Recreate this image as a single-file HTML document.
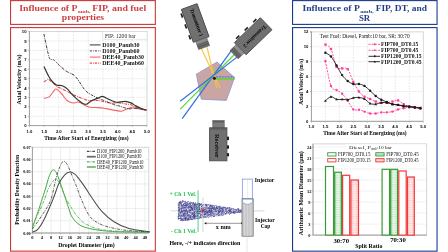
<!DOCTYPE html><html><head><meta charset="utf-8"><title>Spray velocity and droplet size</title>
<style>html,body{margin:0;padding:0;background:#fff;width:448px;height:252px;overflow:hidden}svg{display:block}</style></head><body>
<div id="w">
<svg width="448" height="252" viewBox="0 0 448 252">
<rect width="448" height="252" fill="#fff"/>
<rect x="10.55" y="0.6" width="144.8" height="23.8" fill="#fff" stroke="#c8383a" stroke-width="1.1"/>
<rect x="10.55" y="27.6" width="144.8" height="223.55" fill="#fff" stroke="#c8383a" stroke-width="1.1"/>
<text x="19.3" y="11.2" font-family='"Liberation Serif", serif' font-size="8.7" font-weight="bold" fill="#cc4042" text-anchor="start" textLength="58.2" lengthAdjust="spacingAndGlyphs">Influence of P</text>
<text x="77.8" y="13.2" font-family='"Liberation Serif", serif' font-size="5" font-weight="bold" fill="#cc4042" text-anchor="start" textLength="12.8" lengthAdjust="spacingAndGlyphs">amb,</text>
<text x="92.2" y="11.2" font-family='"Liberation Serif", serif' font-size="8.7" font-weight="bold" fill="#cc4042" text-anchor="start" textLength="54" lengthAdjust="spacingAndGlyphs">FIP, and fuel</text>
<text x="61.8" y="20.3" font-family='"Liberation Serif", serif' font-size="8.7" font-weight="bold" fill="#cc4042" text-anchor="start" textLength="42.3" lengthAdjust="spacingAndGlyphs">properties</text>
<line x1="44.1" y1="31.6" x2="44.1" y2="125.6" stroke="#d6d6d6" stroke-width="0.6" stroke-dasharray="1.6,1.2"/>
<line x1="58.8" y1="31.6" x2="58.8" y2="125.6" stroke="#d6d6d6" stroke-width="0.6" stroke-dasharray="1.6,1.2"/>
<line x1="73.5" y1="31.6" x2="73.5" y2="125.6" stroke="#d6d6d6" stroke-width="0.6" stroke-dasharray="1.6,1.2"/>
<line x1="88.2" y1="31.6" x2="88.2" y2="125.6" stroke="#d6d6d6" stroke-width="0.6" stroke-dasharray="1.6,1.2"/>
<line x1="102.9" y1="31.6" x2="102.9" y2="125.6" stroke="#d6d6d6" stroke-width="0.6" stroke-dasharray="1.6,1.2"/>
<line x1="117.6" y1="31.6" x2="117.6" y2="125.6" stroke="#d6d6d6" stroke-width="0.6" stroke-dasharray="1.6,1.2"/>
<line x1="132.3" y1="31.6" x2="132.3" y2="125.6" stroke="#d6d6d6" stroke-width="0.6" stroke-dasharray="1.6,1.2"/>
<line x1="29.4" y1="116.2" x2="147" y2="116.2" stroke="#d6d6d6" stroke-width="0.6" stroke-dasharray="1.6,1.2"/>
<line x1="29.4" y1="106.8" x2="147" y2="106.8" stroke="#d6d6d6" stroke-width="0.6" stroke-dasharray="1.6,1.2"/>
<line x1="29.4" y1="97.4" x2="147" y2="97.4" stroke="#d6d6d6" stroke-width="0.6" stroke-dasharray="1.6,1.2"/>
<line x1="29.4" y1="88" x2="147" y2="88" stroke="#d6d6d6" stroke-width="0.6" stroke-dasharray="1.6,1.2"/>
<line x1="29.4" y1="78.6" x2="147" y2="78.6" stroke="#d6d6d6" stroke-width="0.6" stroke-dasharray="1.6,1.2"/>
<line x1="29.4" y1="69.2" x2="147" y2="69.2" stroke="#d6d6d6" stroke-width="0.6" stroke-dasharray="1.6,1.2"/>
<line x1="29.4" y1="59.8" x2="147" y2="59.8" stroke="#d6d6d6" stroke-width="0.6" stroke-dasharray="1.6,1.2"/>
<line x1="29.4" y1="50.4" x2="147" y2="50.4" stroke="#d6d6d6" stroke-width="0.6" stroke-dasharray="1.6,1.2"/>
<line x1="29.4" y1="41" x2="147" y2="41" stroke="#d6d6d6" stroke-width="0.6" stroke-dasharray="1.6,1.2"/>
<rect x="29.4" y="31.6" width="117.6" height="94" fill="none" stroke="#c4c4c4" stroke-width="0.7"/>
<line x1="29.4" y1="31.6" x2="29.4" y2="125.6" stroke="#9a9a9a" stroke-width="0.9"/>
<line x1="29.4" y1="125.6" x2="147" y2="125.6" stroke="#9a9a9a" stroke-width="0.9"/>
<text x="26.5" y="127.1" font-family='"Liberation Sans", sans-serif' font-size="4.2" font-weight="bold" fill="#000" text-anchor="end">0</text>
<line x1="27.8" y1="125.6" x2="29.4" y2="125.6" stroke="#9a9a9a" stroke-width="0.6"/>
<text x="26.5" y="117.7" font-family='"Liberation Sans", sans-serif' font-size="4.2" font-weight="bold" fill="#000" text-anchor="end">1</text>
<line x1="27.8" y1="116.2" x2="29.4" y2="116.2" stroke="#9a9a9a" stroke-width="0.6"/>
<text x="26.5" y="108.3" font-family='"Liberation Sans", sans-serif' font-size="4.2" font-weight="bold" fill="#000" text-anchor="end">2</text>
<line x1="27.8" y1="106.8" x2="29.4" y2="106.8" stroke="#9a9a9a" stroke-width="0.6"/>
<text x="26.5" y="98.9" font-family='"Liberation Sans", sans-serif' font-size="4.2" font-weight="bold" fill="#000" text-anchor="end">3</text>
<line x1="27.8" y1="97.4" x2="29.4" y2="97.4" stroke="#9a9a9a" stroke-width="0.6"/>
<text x="26.5" y="89.5" font-family='"Liberation Sans", sans-serif' font-size="4.2" font-weight="bold" fill="#000" text-anchor="end">4</text>
<line x1="27.8" y1="88" x2="29.4" y2="88" stroke="#9a9a9a" stroke-width="0.6"/>
<text x="26.5" y="80.1" font-family='"Liberation Sans", sans-serif' font-size="4.2" font-weight="bold" fill="#000" text-anchor="end">5</text>
<line x1="27.8" y1="78.6" x2="29.4" y2="78.6" stroke="#9a9a9a" stroke-width="0.6"/>
<text x="26.5" y="70.7" font-family='"Liberation Sans", sans-serif' font-size="4.2" font-weight="bold" fill="#000" text-anchor="end">6</text>
<line x1="27.8" y1="69.2" x2="29.4" y2="69.2" stroke="#9a9a9a" stroke-width="0.6"/>
<text x="26.5" y="61.3" font-family='"Liberation Sans", sans-serif' font-size="4.2" font-weight="bold" fill="#000" text-anchor="end">7</text>
<line x1="27.8" y1="59.8" x2="29.4" y2="59.8" stroke="#9a9a9a" stroke-width="0.6"/>
<text x="26.5" y="51.9" font-family='"Liberation Sans", sans-serif' font-size="4.2" font-weight="bold" fill="#000" text-anchor="end">8</text>
<line x1="27.8" y1="50.4" x2="29.4" y2="50.4" stroke="#9a9a9a" stroke-width="0.6"/>
<text x="26.5" y="42.5" font-family='"Liberation Sans", sans-serif' font-size="4.2" font-weight="bold" fill="#000" text-anchor="end">9</text>
<line x1="27.8" y1="41" x2="29.4" y2="41" stroke="#9a9a9a" stroke-width="0.6"/>
<text x="26.5" y="33.1" font-family='"Liberation Sans", sans-serif' font-size="4.2" font-weight="bold" fill="#000" text-anchor="end">10</text>
<line x1="27.8" y1="31.6" x2="29.4" y2="31.6" stroke="#9a9a9a" stroke-width="0.6"/>
<text x="29.4" y="132.6" font-family='"Liberation Sans", sans-serif' font-size="4.2" font-weight="bold" fill="#000" text-anchor="middle">1.0</text>
<line x1="29.4" y1="125.6" x2="29.4" y2="126.9" stroke="#9a9a9a" stroke-width="0.6"/>
<text x="44.1" y="132.6" font-family='"Liberation Sans", sans-serif' font-size="4.2" font-weight="bold" fill="#000" text-anchor="middle">1.5</text>
<line x1="44.1" y1="125.6" x2="44.1" y2="126.9" stroke="#9a9a9a" stroke-width="0.6"/>
<text x="58.8" y="132.6" font-family='"Liberation Sans", sans-serif' font-size="4.2" font-weight="bold" fill="#000" text-anchor="middle">2.0</text>
<line x1="58.8" y1="125.6" x2="58.8" y2="126.9" stroke="#9a9a9a" stroke-width="0.6"/>
<text x="73.5" y="132.6" font-family='"Liberation Sans", sans-serif' font-size="4.2" font-weight="bold" fill="#000" text-anchor="middle">2.5</text>
<line x1="73.5" y1="125.6" x2="73.5" y2="126.9" stroke="#9a9a9a" stroke-width="0.6"/>
<text x="88.2" y="132.6" font-family='"Liberation Sans", sans-serif' font-size="4.2" font-weight="bold" fill="#000" text-anchor="middle">3.0</text>
<line x1="88.2" y1="125.6" x2="88.2" y2="126.9" stroke="#9a9a9a" stroke-width="0.6"/>
<text x="102.9" y="132.6" font-family='"Liberation Sans", sans-serif' font-size="4.2" font-weight="bold" fill="#000" text-anchor="middle">3.5</text>
<line x1="102.9" y1="125.6" x2="102.9" y2="126.9" stroke="#9a9a9a" stroke-width="0.6"/>
<text x="117.6" y="132.6" font-family='"Liberation Sans", sans-serif' font-size="4.2" font-weight="bold" fill="#000" text-anchor="middle">4.0</text>
<line x1="117.6" y1="125.6" x2="117.6" y2="126.9" stroke="#9a9a9a" stroke-width="0.6"/>
<text x="132.3" y="132.6" font-family='"Liberation Sans", sans-serif' font-size="4.2" font-weight="bold" fill="#000" text-anchor="middle">4.5</text>
<line x1="132.3" y1="125.6" x2="132.3" y2="126.9" stroke="#9a9a9a" stroke-width="0.6"/>
<text x="147" y="132.6" font-family='"Liberation Sans", sans-serif' font-size="4.2" font-weight="bold" fill="#000" text-anchor="middle">5.0</text>
<line x1="147" y1="125.6" x2="147" y2="126.9" stroke="#9a9a9a" stroke-width="0.6"/>
<text x="44.2" y="139.8" font-family='"Liberation Serif", serif' font-size="5.6" font-weight="bold" fill="#000" text-anchor="start" textLength="84.5" lengthAdjust="spacingAndGlyphs">Time After Start of Energizing (ms)</text>
<text transform="translate(20.6,79.5) rotate(-90)" x="0" y="0" font-family='"Liberation Serif", serif' font-size="5.6" font-weight="bold" text-anchor="middle" textLength="50" lengthAdjust="spacingAndGlyphs">Axial Velocity (m/s)</text>
<path d="M43.9,98.3 C44.52,98.14 47.82,97.97 49.2,96.9 C50.58,95.83 54.34,89.55 55.7,89.1 C57.07,88.64 59.67,91.78 60.9,93 C62.12,94.22 65.2,98.55 66.2,99.6 C67.2,100.65 68.61,101.6 69.5,102 C70.39,102.4 72.89,103 73.8,103 C74.71,103 76.58,102.06 77.3,102 C78.02,101.94 79.08,102.1 80,102.5 C80.92,102.9 83.99,104.85 85.2,105.4 C86.41,105.95 88.92,106.94 90.4,107.2 C91.88,107.46 96.34,107.48 97.9,107.6 C99.46,107.72 102.41,107.99 103.8,108.2 C105.19,108.41 108.28,109.12 109.8,109.4 C111.32,109.68 115.44,110.39 116.8,110.6 C118.16,110.81 120.25,111.41 121.5,111.2 C122.75,110.99 126.11,109.29 127.5,108.8 C128.89,108.31 132.01,107 133.4,107 C134.79,107 137.87,108.38 139.4,108.8 C140.93,109.22 145.67,110.39 146.5,110.6" fill="none" stroke="#f46262" stroke-width="1.1"/>
<path d="M43.9,81.9 C44.44,81.6 47.51,79.23 48.5,79.3 C49.49,79.37 51.41,81.66 52.4,82.5 C53.39,83.34 55.84,85.73 57,86.5 C58.16,87.27 60.92,88.41 62.3,89.1 C63.68,89.79 67.28,91.64 68.8,92.4 C70.32,93.16 73.6,94.84 75.3,95.6 C77,96.36 81.84,98.32 83.4,98.9 C84.96,99.48 87.01,100.41 88.7,100.6 C90.39,100.79 96.14,100.37 97.9,100.5 C99.66,100.63 102.41,101.42 103.8,101.7 C105.19,101.98 108.02,102.76 109.8,102.9 C111.58,103.04 117.17,102.76 119.1,102.9 C121.02,103.04 124.91,103.89 126.3,104.1 C127.69,104.31 129.89,104.36 131,104.7 C132.11,105.04 134.54,106.52 135.8,107 C137.06,107.48 140.55,108.38 141.8,108.8 C143.05,109.22 145.95,110.39 146.5,110.6" fill="none" stroke="#ea4444" stroke-width="1.1" stroke-dasharray="3,1,0.8,1"/>
<path d="M43.9,34 C44.53,36.78 48.14,54.78 49.3,57.8 C50.45,60.82 52.57,58.97 53.8,59.9 C55.02,60.83 58.38,64.5 59.8,65.8 C61.22,67.09 64.61,70.05 66,71 C67.39,71.95 70.71,73.38 71.7,73.9 C72.69,74.43 73.8,74.87 74.5,75.5 C75.2,76.13 76.66,77.84 77.7,79.3 C78.74,80.76 82.3,86.51 83.4,88 C84.5,89.49 86.11,91.27 87.1,92.1 C88.09,92.93 90.64,94.4 91.9,95.1 C93.16,95.8 96.51,97.47 97.9,98.1 C99.29,98.73 102.41,99.94 103.8,100.5 C105.19,101.06 108.41,102.35 109.8,102.9 C111.19,103.45 114.62,104.85 115.7,105.2 C116.78,105.55 118.14,105.62 119.1,105.9 C120.06,106.18 122.78,107.26 123.9,107.6 C125.02,107.94 127.59,108.69 128.7,108.8 C129.81,108.91 132.15,108.5 133.4,108.5 C134.65,108.5 137.87,108.62 139.4,108.8 C140.93,108.97 145.67,109.86 146.5,110" fill="none" stroke="#3c3c3c" stroke-width="1.0" stroke-dasharray="3,1,0.8,1"/>
<path d="M43.9,66.4 C44.44,67.52 47.43,74.12 48.5,76 C49.57,77.88 52.11,81.43 53.1,82.5 C54.09,83.57 55.93,84.81 57,85.2 C58.07,85.59 61.07,85.34 62.3,85.8 C63.52,86.25 66.44,88.18 67.5,89.1 C68.56,90.02 70.49,92.71 71.4,93.7 C72.31,94.69 74.38,96.74 75.3,97.6 C76.22,98.46 78.35,100.39 79.3,101.1 C80.25,101.81 82.51,103.35 83.4,103.7 C84.29,104.05 85.91,104.47 86.9,104.1 C87.89,103.73 90.62,101.2 91.9,100.5 C93.18,99.8 96.65,98.59 97.9,98.1 C99.15,97.61 101.35,96.16 102.6,96.3 C103.85,96.44 107.21,98.67 108.6,99.3 C109.99,99.93 113.4,101.35 114.5,101.7 C115.6,102.05 116.76,102.35 118,102.3 C119.24,102.25 123.58,101.23 125.1,101.3 C126.62,101.37 129.75,102.36 131,102.9 C132.25,103.44 134.54,105.21 135.8,105.9 C137.06,106.59 140.55,108.32 141.8,108.8 C143.05,109.28 145.95,109.86 146.5,110" fill="none" stroke="#333" stroke-width="1.2"/>
<rect x="89" y="41.7" width="57.6" height="24.8" fill="#fff"/>
<rect x="102.8" y="31.6" width="44.2" height="7.8" fill="#fff" stroke="#d4d4d4" stroke-width="0.5"/>
<text x="105" y="37.7" font-family='"Liberation Serif", serif' font-size="5.4" font-weight="normal" fill="#222" text-anchor="start" textLength="30.7" lengthAdjust="spacingAndGlyphs">FIP: 1200 bar</text>
<line x1="89.8" y1="44.9" x2="100.5" y2="44.9" stroke="#555" stroke-width="1.2"/>
<text x="102.3" y="46.7" font-family='"Liberation Serif", serif' font-size="5.3" font-weight="bold" fill="#111" text-anchor="start" textLength="37.3" lengthAdjust="spacingAndGlyphs">D100_Pamb30</text>
<line x1="89.8" y1="50.9" x2="100.5" y2="50.9" stroke="#666" stroke-width="1.2" stroke-dasharray="2.2,1,0.8,1"/>
<text x="102.3" y="52.7" font-family='"Liberation Serif", serif' font-size="5.3" font-weight="bold" fill="#111" text-anchor="start" textLength="37.3" lengthAdjust="spacingAndGlyphs">D100_Pamb60</text>
<line x1="89.8" y1="57.1" x2="100.5" y2="57.1" stroke="#ff7070" stroke-width="1.2"/>
<text x="102.3" y="58.9" font-family='"Liberation Serif", serif' font-size="5.3" font-weight="bold" fill="#111" text-anchor="start" textLength="41.7" lengthAdjust="spacingAndGlyphs">DEE40_Pamb30</text>
<line x1="89.8" y1="63.2" x2="100.5" y2="63.2" stroke="#f04848" stroke-width="1.2" stroke-dasharray="2.2,1,0.8,1"/>
<text x="102.3" y="65" font-family='"Liberation Serif", serif' font-size="5.3" font-weight="bold" fill="#111" text-anchor="start" textLength="41.7" lengthAdjust="spacingAndGlyphs">DEE40_Pamb60</text>
<line x1="41.78" y1="147.2" x2="41.78" y2="233" stroke="#e2e2e2" stroke-width="0.6"/>
<line x1="51.16" y1="147.2" x2="51.16" y2="233" stroke="#e2e2e2" stroke-width="0.6"/>
<line x1="60.54" y1="147.2" x2="60.54" y2="233" stroke="#e2e2e2" stroke-width="0.6"/>
<line x1="69.92" y1="147.2" x2="69.92" y2="233" stroke="#e2e2e2" stroke-width="0.6"/>
<line x1="79.3" y1="147.2" x2="79.3" y2="233" stroke="#e2e2e2" stroke-width="0.6"/>
<line x1="88.68" y1="147.2" x2="88.68" y2="233" stroke="#e2e2e2" stroke-width="0.6"/>
<line x1="98.06" y1="147.2" x2="98.06" y2="233" stroke="#e2e2e2" stroke-width="0.6"/>
<line x1="107.44" y1="147.2" x2="107.44" y2="233" stroke="#e2e2e2" stroke-width="0.6"/>
<line x1="116.82" y1="147.2" x2="116.82" y2="233" stroke="#e2e2e2" stroke-width="0.6"/>
<line x1="126.2" y1="147.2" x2="126.2" y2="233" stroke="#e2e2e2" stroke-width="0.6"/>
<line x1="135.58" y1="147.2" x2="135.58" y2="233" stroke="#e2e2e2" stroke-width="0.6"/>
<line x1="144.96" y1="147.2" x2="144.96" y2="233" stroke="#e2e2e2" stroke-width="0.6"/>
<line x1="32.4" y1="220.74" x2="148.8" y2="220.74" stroke="#e2e2e2" stroke-width="0.6"/>
<line x1="32.4" y1="208.48" x2="148.8" y2="208.48" stroke="#e2e2e2" stroke-width="0.6"/>
<line x1="32.4" y1="196.22" x2="148.8" y2="196.22" stroke="#e2e2e2" stroke-width="0.6"/>
<line x1="32.4" y1="183.96" x2="148.8" y2="183.96" stroke="#e2e2e2" stroke-width="0.6"/>
<line x1="32.4" y1="171.7" x2="148.8" y2="171.7" stroke="#e2e2e2" stroke-width="0.6"/>
<line x1="32.4" y1="159.44" x2="148.8" y2="159.44" stroke="#e2e2e2" stroke-width="0.6"/>
<rect x="32.4" y="147.2" width="116.4" height="85.8" fill="none" stroke="#c4c4c4" stroke-width="0.7"/>
<line x1="32.4" y1="147.2" x2="32.4" y2="233" stroke="#9a9a9a" stroke-width="0.9"/>
<line x1="32.4" y1="233" x2="148.8" y2="233" stroke="#9a9a9a" stroke-width="0.9"/>
<text x="30.6" y="234.5" font-family='"Liberation Serif", serif' font-size="4.2" font-weight="bold" fill="#000" text-anchor="end">0.00</text>
<line x1="31" y1="233" x2="32.4" y2="233" stroke="#9a9a9a" stroke-width="0.6"/>
<text x="30.6" y="222.24" font-family='"Liberation Serif", serif' font-size="4.2" font-weight="bold" fill="#000" text-anchor="end">0.01</text>
<line x1="31" y1="220.74" x2="32.4" y2="220.74" stroke="#9a9a9a" stroke-width="0.6"/>
<text x="30.6" y="209.98" font-family='"Liberation Serif", serif' font-size="4.2" font-weight="bold" fill="#000" text-anchor="end">0.02</text>
<line x1="31" y1="208.48" x2="32.4" y2="208.48" stroke="#9a9a9a" stroke-width="0.6"/>
<text x="30.6" y="197.72" font-family='"Liberation Serif", serif' font-size="4.2" font-weight="bold" fill="#000" text-anchor="end">0.03</text>
<line x1="31" y1="196.22" x2="32.4" y2="196.22" stroke="#9a9a9a" stroke-width="0.6"/>
<text x="30.6" y="185.46" font-family='"Liberation Serif", serif' font-size="4.2" font-weight="bold" fill="#000" text-anchor="end">0.04</text>
<line x1="31" y1="183.96" x2="32.4" y2="183.96" stroke="#9a9a9a" stroke-width="0.6"/>
<text x="30.6" y="173.2" font-family='"Liberation Serif", serif' font-size="4.2" font-weight="bold" fill="#000" text-anchor="end">0.05</text>
<line x1="31" y1="171.7" x2="32.4" y2="171.7" stroke="#9a9a9a" stroke-width="0.6"/>
<text x="30.6" y="160.94" font-family='"Liberation Serif", serif' font-size="4.2" font-weight="bold" fill="#000" text-anchor="end">0.06</text>
<line x1="31" y1="159.44" x2="32.4" y2="159.44" stroke="#9a9a9a" stroke-width="0.6"/>
<text x="30.6" y="148.68" font-family='"Liberation Serif", serif' font-size="4.2" font-weight="bold" fill="#000" text-anchor="end">0.07</text>
<line x1="31" y1="147.18" x2="32.4" y2="147.18" stroke="#9a9a9a" stroke-width="0.6"/>
<text x="32.4" y="239.4" font-family='"Liberation Serif", serif' font-size="4.4" font-weight="bold" fill="#000" text-anchor="middle">0</text>
<line x1="32.4" y1="233" x2="32.4" y2="234.4" stroke="#9a9a9a" stroke-width="0.6"/>
<text x="41.78" y="239.4" font-family='"Liberation Serif", serif' font-size="4.4" font-weight="bold" fill="#000" text-anchor="middle">4</text>
<line x1="41.78" y1="233" x2="41.78" y2="234.4" stroke="#9a9a9a" stroke-width="0.6"/>
<text x="51.16" y="239.4" font-family='"Liberation Serif", serif' font-size="4.4" font-weight="bold" fill="#000" text-anchor="middle">8</text>
<line x1="51.16" y1="233" x2="51.16" y2="234.4" stroke="#9a9a9a" stroke-width="0.6"/>
<text x="60.54" y="239.4" font-family='"Liberation Serif", serif' font-size="4.4" font-weight="bold" fill="#000" text-anchor="middle">12</text>
<line x1="60.54" y1="233" x2="60.54" y2="234.4" stroke="#9a9a9a" stroke-width="0.6"/>
<text x="69.92" y="239.4" font-family='"Liberation Serif", serif' font-size="4.4" font-weight="bold" fill="#000" text-anchor="middle">16</text>
<line x1="69.92" y1="233" x2="69.92" y2="234.4" stroke="#9a9a9a" stroke-width="0.6"/>
<text x="79.3" y="239.4" font-family='"Liberation Serif", serif' font-size="4.4" font-weight="bold" fill="#000" text-anchor="middle">20</text>
<line x1="79.3" y1="233" x2="79.3" y2="234.4" stroke="#9a9a9a" stroke-width="0.6"/>
<text x="88.68" y="239.4" font-family='"Liberation Serif", serif' font-size="4.4" font-weight="bold" fill="#000" text-anchor="middle">24</text>
<line x1="88.68" y1="233" x2="88.68" y2="234.4" stroke="#9a9a9a" stroke-width="0.6"/>
<text x="98.06" y="239.4" font-family='"Liberation Serif", serif' font-size="4.4" font-weight="bold" fill="#000" text-anchor="middle">28</text>
<line x1="98.06" y1="233" x2="98.06" y2="234.4" stroke="#9a9a9a" stroke-width="0.6"/>
<text x="107.44" y="239.4" font-family='"Liberation Serif", serif' font-size="4.4" font-weight="bold" fill="#000" text-anchor="middle">32</text>
<line x1="107.44" y1="233" x2="107.44" y2="234.4" stroke="#9a9a9a" stroke-width="0.6"/>
<text x="116.82" y="239.4" font-family='"Liberation Serif", serif' font-size="4.4" font-weight="bold" fill="#000" text-anchor="middle">36</text>
<line x1="116.82" y1="233" x2="116.82" y2="234.4" stroke="#9a9a9a" stroke-width="0.6"/>
<text x="126.2" y="239.4" font-family='"Liberation Serif", serif' font-size="4.4" font-weight="bold" fill="#000" text-anchor="middle">40</text>
<line x1="126.2" y1="233" x2="126.2" y2="234.4" stroke="#9a9a9a" stroke-width="0.6"/>
<text x="135.58" y="239.4" font-family='"Liberation Serif", serif' font-size="4.4" font-weight="bold" fill="#000" text-anchor="middle">44</text>
<line x1="135.58" y1="233" x2="135.58" y2="234.4" stroke="#9a9a9a" stroke-width="0.6"/>
<text x="144.96" y="239.4" font-family='"Liberation Serif", serif' font-size="4.4" font-weight="bold" fill="#000" text-anchor="middle">48</text>
<line x1="144.96" y1="233" x2="144.96" y2="234.4" stroke="#9a9a9a" stroke-width="0.6"/>
<text x="58.2" y="246.9" font-family='"Liberation Serif", serif' font-size="5.6" font-weight="bold" fill="#000" text-anchor="start" textLength="56.6" lengthAdjust="spacingAndGlyphs">Droplet Diameter (µm)</text>
<text transform="translate(19.3,189.8) rotate(-90)" x="0" y="0" font-family='"Liberation Serif", serif' font-size="5.4" font-weight="bold" text-anchor="middle" textLength="70" lengthAdjust="spacingAndGlyphs">Probability Density Function</text>
<path d="M32.4,227.85 C33.49,224.68 37.14,214.24 38.97,208.85 C40.79,203.45 42.16,199.12 43.33,195.48 C44.5,191.85 45.09,190.07 46,187.03 C46.92,183.98 47.88,179.87 48.81,177.22 C49.75,174.56 50.85,172.31 51.63,171.09 C52.41,169.86 52.84,169.8 53.5,169.86 C54.17,169.92 54.83,170.23 55.62,171.45 C56.4,172.68 57.26,174.83 58.2,177.22 C59.13,179.61 60.15,182.63 61.24,185.8 C62.34,188.97 63.51,192.44 64.76,196.22 C66.01,200 67.5,204.97 68.75,208.48 C70,211.99 70.43,214.55 72.27,217.31 C74.1,220.07 76.84,223.15 79.77,225.03 C82.7,226.91 86.02,227.65 89.85,228.59 C93.68,229.53 97.75,230.14 102.75,230.67 C107.75,231.2 112.05,231.51 119.87,231.77 C127.69,232.04 144.69,232.18 149.65,232.26" fill="none" stroke="#3fa83f" stroke-width="1.0"/>
<path d="M32.4,225.64 C34.22,221.76 40.73,208.36 43.33,202.35 C45.93,196.34 46.49,192.97 47.99,189.6 C49.5,186.23 51.02,183.84 52.33,182.12 C53.64,180.4 54.6,178.99 55.85,179.3 C57.1,179.61 58.23,180.94 59.84,183.96 C61.44,186.98 63.08,192.75 65.46,197.45 C67.85,202.15 71.76,208.58 74.14,212.16 C76.53,215.73 78.13,217.1 79.77,218.9 C81.41,220.7 81.29,221.37 83.99,222.95 C86.69,224.52 90.87,226.99 95.95,228.34 C101.03,229.69 105.52,230.43 114.47,231.04 C123.43,231.65 143.79,231.86 149.65,232.02" fill="none" stroke="#55b255" stroke-width="0.95" stroke-dasharray="3,1.1,0.8,1.1"/>
<path d="M32.4,228.95 C34.22,226.36 40.24,218.29 43.33,213.38 C46.42,208.48 48.84,205.25 50.93,199.53 C53.01,193.81 54.33,184.61 55.85,179.06 C57.37,173.5 58.78,169.15 60.07,166.18 C61.36,163.22 62.42,161.59 63.59,161.28 C64.76,160.97 65.93,162.5 67.11,164.34 C68.28,166.18 69.06,168.63 70.62,172.31 C72.19,175.99 74.69,181.88 76.49,186.41 C78.28,190.95 79.18,194.52 81.41,199.53 C83.64,204.54 86.41,212.22 89.85,216.45 C93.29,220.68 97.04,222.74 102.05,224.91 C107.05,227.07 114.28,228.42 119.87,229.44 C125.46,230.47 130.62,230.65 135.58,231.04 C140.54,231.43 147.31,231.65 149.65,231.77" fill="none" stroke="#4a4a4a" stroke-width="0.9" stroke-dasharray="3,1.1,0.8,1.1"/>
<path d="M32.4,232.26 C33.3,231.77 35.97,231.18 37.79,229.32 C39.61,227.46 40.81,226.07 43.33,221.11 C45.84,216.14 50.29,205.78 52.87,199.53 C55.46,193.28 56.85,187.72 58.83,183.59 C60.81,179.46 62.87,176.69 64.76,174.76 C66.65,172.84 68.43,172.13 70.15,172.07 C71.87,172.01 73.67,173.33 75.08,174.4 C76.49,175.46 77.03,176.44 78.6,178.44 C80.16,180.45 82.07,182.94 84.46,186.41 C86.84,189.89 89.97,195.1 92.9,199.28 C95.83,203.47 98.53,207.81 102.05,211.54 C105.56,215.28 109.51,218.88 114.01,221.72 C118.5,224.56 123.5,226.95 129.01,228.59 C134.52,230.22 143.63,231 147.07,231.53 C150.51,232.06 149.22,231.73 149.65,231.77" fill="none" stroke="#4c4c4c" stroke-width="1.05"/>
<rect x="86" y="148.8" width="59.5" height="20.8" fill="#fff"/>
<line x1="86.9" y1="151.4" x2="95.8" y2="151.4" stroke="#444" stroke-width="1.2" stroke-dasharray="2.5,1.1,0.8,1.1"/>
<text x="97" y="153.1" font-family='"Liberation Serif", serif' font-size="5.2" font-weight="normal" fill="#111" text-anchor="start" textLength="44.5" lengthAdjust="spacingAndGlyphs">D100_FIP1200_Pamb10</text>
<line x1="86.9" y1="156.7" x2="95.8" y2="156.7" stroke="#666" stroke-width="1.7"/>
<text x="97" y="158.4" font-family='"Liberation Serif", serif' font-size="5.2" font-weight="normal" fill="#111" text-anchor="start" textLength="44.5" lengthAdjust="spacingAndGlyphs">D100_FIP1200_Pamb30</text>
<line x1="86.9" y1="161.9" x2="95.8" y2="161.9" stroke="#4fae4f" stroke-width="1.2" stroke-dasharray="2.5,1.1,0.8,1.1"/>
<text x="97" y="163.6" font-family='"Liberation Serif", serif' font-size="5.2" font-weight="normal" fill="#111" text-anchor="start" textLength="46.5" lengthAdjust="spacingAndGlyphs">DEE40_FIP1200_Pamb10</text>
<line x1="86.9" y1="167" x2="95.8" y2="167" stroke="#3aa33a" stroke-width="1.3"/>
<text x="97" y="168.7" font-family='"Liberation Serif", serif' font-size="5.2" font-weight="normal" fill="#111" text-anchor="start" textLength="46.5" lengthAdjust="spacingAndGlyphs">DEE40_FIP1200_Pamb30</text>
<path d="M217,62 L234.6,77.6 L226.3,100.4 L201.3,99.2 L196.3,74.2Z" fill="#c9a6a3" stroke="#8b96d2" stroke-width="0.8"/>
<line x1="200.6" y1="47" x2="220" y2="88" stroke="#f5c63e" stroke-width="1.1"/>
<line x1="207" y1="47" x2="216.8" y2="88" stroke="#f5c63e" stroke-width="1.1"/>
<line x1="231.9" y1="49.9" x2="182.2" y2="118.7" stroke="#2f6ee8" stroke-width="1.2"/>
<line x1="234.9" y1="54" x2="180.2" y2="109.1" stroke="#5ad838" stroke-width="1.2"/>
<line x1="237.9" y1="56.4" x2="180.2" y2="101.2" stroke="#2f6ee8" stroke-width="1.2"/>
<line x1="214.4" y1="78.9" x2="234.6" y2="78.9" stroke="#5ed232" stroke-width="1.5"/>
<line x1="216" y1="76.9" x2="234.2" y2="76.9" stroke="#4f74e6" stroke-width="1.2" stroke-dasharray="1.8,1.1"/>
<circle cx="214.4" cy="78.2" r="1.5" fill="#2a0f0f"/>
<g transform="translate(195.2,23) rotate(-20)">
<rect x="-10.85" y="-13.75" width="1.7" height="4.4" fill="#1e1e1e"/>
<rect x="-10.85" y="-2.2" width="1.7" height="4.4" fill="#1e1e1e"/>
<rect x="-10.85" y="9.35" width="1.7" height="4.4" fill="#1e1e1e"/>
<rect x="-8.35" y="-17.5" width="16.7" height="35" fill="#707070" stroke="#4a4a4a" stroke-width="0.9"/>
<rect x="-5.8" y="17.5" width="11.6" height="4" fill="#8c8c8c" stroke="#555" stroke-width="0.5"/>
<rect x="-5.8" y="21.5" width="11.6" height="4.6" fill="#6a6a6a" stroke="#444" stroke-width="0.5"/>
<line x1="-5.8" y1="23.8" x2="5.8" y2="23.8" stroke="#444" stroke-width="0.5"/>
<text transform="rotate(90)" x="0" y="0.3" font-family='"Liberation Serif", serif' font-size="5.3" font-weight="bold" fill="#000" text-anchor="middle" textLength="29" lengthAdjust="spacingAndGlyphs">Transmitter 1</text>
</g>
<g transform="translate(253.2,36.2) rotate(46)">
<rect x="-10.9" y="-14.08" width="1.7" height="4.4" fill="#1e1e1e"/>
<rect x="-10.9" y="-2.2" width="1.7" height="4.4" fill="#1e1e1e"/>
<rect x="-10.9" y="9.68" width="1.7" height="4.4" fill="#1e1e1e"/>
<rect x="-8.4" y="-18" width="16.8" height="36" fill="#707070" stroke="#4a4a4a" stroke-width="0.9"/>
<rect x="-5.8" y="18" width="11.6" height="4" fill="#8c8c8c" stroke="#555" stroke-width="0.5"/>
<rect x="-5.8" y="22" width="11.6" height="4.6" fill="#6a6a6a" stroke="#444" stroke-width="0.5"/>
<line x1="-5.8" y1="24.3" x2="5.8" y2="24.3" stroke="#444" stroke-width="0.5"/>
<text transform="rotate(90)" x="-1" y="0.4" font-family='"Liberation Serif", serif' font-size="5.3" font-weight="bold" fill="#000" text-anchor="middle" textLength="30" lengthAdjust="spacingAndGlyphs">Transmitter 2</text>
</g>
<rect x="212.8" y="120.6" width="11.4" height="7.2" fill="#7c7c7c" stroke="#555" stroke-width="0.6"/>
<rect x="213.1" y="120.9" width="10.8" height="1.6" fill="#5c5c5c"/>
<rect x="209.6" y="127.8" width="17.3" height="33" fill="#707070" stroke="#4e4e4e" stroke-width="0.9"/>
<rect x="227" y="136.6" width="2" height="3.6" rx="0.8" fill="#1a1a1a"/>
<rect x="227" y="145.3" width="2" height="3.6" rx="0.8" fill="#1a1a1a"/>
<rect x="227" y="153" width="2" height="3.6" rx="0.8" fill="#1a1a1a"/>
<rect x="210" y="128.2" width="16.5" height="1.4" fill="#595959"/>
<text transform="translate(217.4,145.8) rotate(90)" x="0" y="1.9" font-family='"Liberation Serif", serif' font-size="5.8" font-weight="bold" fill="#0a0a0a" text-anchor="middle" textLength="23.5" lengthAdjust="spacingAndGlyphs">Receiver</text>
<line x1="171" y1="210.9" x2="264.5" y2="210.9" stroke="#bbb" stroke-width="0.6"/>
<g fill="#34368a" fill-opacity="0.72"><circle cx="198.73" cy="203.22" r="0.44"/><circle cx="182.64" cy="211.69" r="0.37"/><circle cx="181.71" cy="211.06" r="0.29"/><circle cx="183.81" cy="209.24" r="0.48"/><circle cx="185.92" cy="204.81" r="0.43"/><circle cx="238.65" cy="212.6" r="0.38"/><circle cx="187.23" cy="202.49" r="0.35"/><circle cx="215.22" cy="213.96" r="0.37"/><circle cx="181.81" cy="204.43" r="0.44"/><circle cx="205.37" cy="206.81" r="0.42"/><circle cx="207" cy="206.49" r="0.47"/><circle cx="214.76" cy="211.45" r="0.49"/><circle cx="204.76" cy="216.56" r="0.32"/><circle cx="198.08" cy="215.2" r="0.42"/><circle cx="215.11" cy="209.94" r="0.48"/><circle cx="238.46" cy="210.33" r="0.44"/><circle cx="181.88" cy="215.33" r="0.44"/><circle cx="196.21" cy="208.39" r="0.44"/><circle cx="179.44" cy="210.06" r="0.32"/><circle cx="185.49" cy="201.2" r="0.46"/><circle cx="186.28" cy="205.35" r="0.37"/><circle cx="206.75" cy="211.99" r="0.49"/><circle cx="195.82" cy="209.04" r="0.37"/><circle cx="187.66" cy="203.78" r="0.34"/><circle cx="192.93" cy="210.57" r="0.42"/><circle cx="204.81" cy="208.02" r="0.42"/><circle cx="210.99" cy="213.49" r="0.44"/><circle cx="181.46" cy="219.69" r="0.47"/><circle cx="203.11" cy="208.68" r="0.3"/><circle cx="182.31" cy="204.49" r="0.32"/><circle cx="178.01" cy="203.23" r="0.3"/><circle cx="233.96" cy="213.41" r="0.32"/><circle cx="194.14" cy="207.54" r="0.37"/><circle cx="185.86" cy="218.58" r="0.52"/><circle cx="207.82" cy="210.54" r="0.3"/><circle cx="184.54" cy="207.44" r="0.34"/><circle cx="194.71" cy="207.97" r="0.32"/><circle cx="227.4" cy="211.62" r="0.47"/><circle cx="199.1" cy="204.81" r="0.47"/><circle cx="211.13" cy="207.72" r="0.29"/><circle cx="179.79" cy="206.05" r="0.34"/><circle cx="201.34" cy="204.75" r="0.33"/><circle cx="190.59" cy="204.4" r="0.43"/><circle cx="208.69" cy="214.27" r="0.47"/><circle cx="183.43" cy="214.43" r="0.5"/><circle cx="203.33" cy="208.73" r="0.51"/><circle cx="186.13" cy="203.23" r="0.5"/><circle cx="220.07" cy="207.61" r="0.41"/><circle cx="194.12" cy="206.35" r="0.34"/><circle cx="215.53" cy="205.61" r="0.38"/><circle cx="186.39" cy="219.92" r="0.36"/><circle cx="207.32" cy="212.73" r="0.5"/><circle cx="210.11" cy="211.6" r="0.41"/><circle cx="179.2" cy="209.58" r="0.32"/><circle cx="178.25" cy="217.48" r="0.32"/><circle cx="208.3" cy="215.85" r="0.41"/><circle cx="198.86" cy="211.3" r="0.41"/><circle cx="213.86" cy="205.37" r="0.35"/><circle cx="227.42" cy="211.07" r="0.41"/><circle cx="206.37" cy="213.38" r="0.4"/><circle cx="210.78" cy="215.14" r="0.39"/><circle cx="212.13" cy="210.42" r="0.51"/><circle cx="185.78" cy="209.63" r="0.3"/><circle cx="223.83" cy="214.43" r="0.31"/><circle cx="203.49" cy="210.62" r="0.52"/><circle cx="205.62" cy="211.24" r="0.36"/><circle cx="190.53" cy="206.91" r="0.45"/><circle cx="179.25" cy="212.09" r="0.39"/><circle cx="179.16" cy="207.19" r="0.43"/><circle cx="186.29" cy="209.19" r="0.5"/><circle cx="187.56" cy="220.12" r="0.42"/><circle cx="181.68" cy="215.04" r="0.38"/><circle cx="182.63" cy="220.54" r="0.43"/><circle cx="233.22" cy="209.88" r="0.36"/><circle cx="195.14" cy="202.74" r="0.41"/><circle cx="193.26" cy="202.31" r="0.32"/><circle cx="181.22" cy="204.34" r="0.35"/><circle cx="197.52" cy="216.61" r="0.35"/><circle cx="224.92" cy="212.02" r="0.33"/><circle cx="184.8" cy="217.92" r="0.38"/><circle cx="203.16" cy="211.05" r="0.45"/><circle cx="218.7" cy="208.8" r="0.36"/><circle cx="181.48" cy="202.76" r="0.3"/><circle cx="188.45" cy="201.76" r="0.48"/><circle cx="196.04" cy="205.23" r="0.35"/><circle cx="206.53" cy="205.69" r="0.51"/><circle cx="240.25" cy="211.94" r="0.34"/><circle cx="202.42" cy="210.34" r="0.4"/><circle cx="190.86" cy="211" r="0.28"/><circle cx="179.44" cy="206.59" r="0.34"/><circle cx="215.48" cy="211.54" r="0.46"/><circle cx="220.08" cy="215.65" r="0.49"/><circle cx="202.93" cy="207.07" r="0.52"/><circle cx="187.57" cy="215.83" r="0.43"/><circle cx="180.8" cy="218.28" r="0.49"/><circle cx="211.52" cy="211" r="0.48"/><circle cx="221.71" cy="215.15" r="0.34"/><circle cx="179.99" cy="202.83" r="0.37"/><circle cx="184.71" cy="218.29" r="0.41"/><circle cx="218.18" cy="213.68" r="0.44"/><circle cx="210.19" cy="211.67" r="0.44"/><circle cx="182.23" cy="216.11" r="0.34"/><circle cx="182.76" cy="205.74" r="0.46"/><circle cx="191.13" cy="216.18" r="0.51"/><circle cx="209.61" cy="208.32" r="0.39"/><circle cx="217.49" cy="214.04" r="0.3"/><circle cx="187.44" cy="205.49" r="0.46"/><circle cx="197.48" cy="212.39" r="0.28"/><circle cx="181.88" cy="205.81" r="0.44"/><circle cx="222.3" cy="214.77" r="0.35"/><circle cx="211.06" cy="210.12" r="0.39"/><circle cx="185.58" cy="219.56" r="0.33"/><circle cx="179.12" cy="210" r="0.48"/><circle cx="239.96" cy="209.79" r="0.34"/><circle cx="191.49" cy="212.69" r="0.31"/><circle cx="186.49" cy="217.94" r="0.4"/><circle cx="178.23" cy="210.72" r="0.39"/><circle cx="197.32" cy="203" r="0.36"/><circle cx="198.23" cy="218.39" r="0.28"/><circle cx="185.68" cy="220.28" r="0.45"/><circle cx="201.82" cy="208.54" r="0.52"/><circle cx="215.71" cy="207.84" r="0.38"/><circle cx="184.51" cy="218.26" r="0.35"/><circle cx="195.01" cy="211.14" r="0.33"/><circle cx="238.2" cy="211.98" r="0.45"/><circle cx="181.17" cy="216.01" r="0.39"/><circle cx="226.17" cy="214.08" r="0.35"/><circle cx="181.13" cy="220.29" r="0.31"/><circle cx="208.22" cy="207.46" r="0.35"/><circle cx="194.65" cy="214.33" r="0.35"/><circle cx="213.67" cy="208.58" r="0.32"/><circle cx="188.35" cy="204.47" r="0.5"/><circle cx="209.81" cy="204.74" r="0.5"/><circle cx="241.77" cy="209.8" r="0.31"/><circle cx="190.31" cy="201.9" r="0.36"/><circle cx="183.83" cy="205.16" r="0.34"/><circle cx="225.98" cy="208.98" r="0.38"/><circle cx="211.55" cy="208.19" r="0.36"/><circle cx="181.97" cy="206.01" r="0.51"/><circle cx="186.06" cy="210.97" r="0.43"/><circle cx="195.35" cy="205.37" r="0.38"/><circle cx="208.29" cy="212.82" r="0.28"/><circle cx="184.98" cy="203.3" r="0.41"/><circle cx="224.19" cy="214.14" r="0.46"/><circle cx="207.27" cy="212.03" r="0.29"/><circle cx="194.11" cy="213.9" r="0.45"/><circle cx="185.18" cy="201.45" r="0.41"/><circle cx="215.31" cy="208.44" r="0.33"/><circle cx="197.3" cy="210.04" r="0.51"/><circle cx="208.42" cy="205.06" r="0.34"/><circle cx="209.89" cy="214.74" r="0.38"/><circle cx="194.46" cy="214.58" r="0.5"/><circle cx="199.64" cy="209.15" r="0.44"/><circle cx="190.68" cy="217.44" r="0.46"/><circle cx="192.17" cy="216.63" r="0.35"/><circle cx="238.92" cy="210.81" r="0.32"/><circle cx="192.29" cy="209.07" r="0.44"/><circle cx="203.18" cy="204.58" r="0.51"/><circle cx="181.85" cy="208.55" r="0.5"/><circle cx="199.07" cy="203.98" r="0.5"/><circle cx="220.52" cy="208.23" r="0.37"/><circle cx="199.23" cy="203.62" r="0.28"/><circle cx="195.91" cy="207.63" r="0.51"/><circle cx="191.27" cy="207.75" r="0.48"/><circle cx="230.61" cy="209.41" r="0.29"/><circle cx="208.3" cy="208.1" r="0.5"/><circle cx="190.35" cy="207.91" r="0.5"/><circle cx="179.94" cy="208.94" r="0.47"/><circle cx="180.23" cy="201.28" r="0.5"/><circle cx="194.45" cy="216.34" r="0.5"/><circle cx="199.7" cy="205.89" r="0.51"/><circle cx="223.86" cy="206.86" r="0.35"/><circle cx="178.24" cy="216.52" r="0.5"/><circle cx="179.55" cy="205.05" r="0.39"/><circle cx="202.74" cy="205.42" r="0.38"/><circle cx="189.71" cy="217.56" r="0.46"/><circle cx="216.86" cy="207.11" r="0.36"/><circle cx="201.16" cy="217.11" r="0.3"/><circle cx="190.63" cy="216.46" r="0.34"/><circle cx="182.14" cy="200.65" r="0.41"/><circle cx="184.17" cy="210.87" r="0.45"/><circle cx="206.61" cy="205.05" r="0.38"/><circle cx="217.7" cy="214.73" r="0.46"/><circle cx="185.75" cy="218.4" r="0.35"/><circle cx="214.28" cy="208.11" r="0.46"/><circle cx="190.75" cy="205.34" r="0.34"/><circle cx="187.81" cy="219.35" r="0.42"/><circle cx="198.89" cy="208.61" r="0.52"/><circle cx="210.47" cy="204.99" r="0.47"/><circle cx="184.55" cy="210.34" r="0.48"/><circle cx="180.58" cy="206.36" r="0.31"/><circle cx="206.74" cy="205.62" r="0.47"/><circle cx="216.15" cy="213.54" r="0.33"/><circle cx="191.05" cy="205.51" r="0.42"/><circle cx="178.73" cy="207.1" r="0.44"/><circle cx="189.85" cy="206.77" r="0.33"/><circle cx="228.9" cy="211.96" r="0.3"/><circle cx="184.49" cy="208.6" r="0.41"/><circle cx="188.48" cy="215.2" r="0.38"/><circle cx="196.13" cy="206.67" r="0.51"/><circle cx="197.99" cy="212.36" r="0.37"/><circle cx="190.62" cy="215.92" r="0.33"/><circle cx="178.95" cy="212.03" r="0.43"/><circle cx="217.82" cy="208.06" r="0.4"/><circle cx="187.34" cy="206.13" r="0.41"/><circle cx="240.43" cy="210.52" r="0.29"/><circle cx="191.96" cy="208.69" r="0.4"/><circle cx="193.81" cy="215.85" r="0.5"/><circle cx="180.63" cy="212.27" r="0.46"/><circle cx="180.44" cy="218.34" r="0.31"/><circle cx="216.37" cy="212" r="0.43"/><circle cx="197.6" cy="209.14" r="0.42"/><circle cx="205.25" cy="214.39" r="0.39"/><circle cx="217.61" cy="210.67" r="0.34"/><circle cx="186.22" cy="209.37" r="0.3"/><circle cx="206.29" cy="211.12" r="0.29"/><circle cx="210.25" cy="208.21" r="0.51"/><circle cx="186.72" cy="218.76" r="0.52"/><circle cx="182.19" cy="207.62" r="0.46"/><circle cx="188.16" cy="219.62" r="0.35"/><circle cx="191.33" cy="205.68" r="0.4"/><circle cx="189.65" cy="203.45" r="0.5"/><circle cx="188.8" cy="217.17" r="0.31"/><circle cx="211.97" cy="213.9" r="0.37"/><circle cx="233.87" cy="212.11" r="0.42"/><circle cx="203.23" cy="217.45" r="0.34"/><circle cx="201.06" cy="216.72" r="0.39"/><circle cx="189.31" cy="216.26" r="0.29"/><circle cx="215.5" cy="214.5" r="0.36"/><circle cx="187.56" cy="213.45" r="0.38"/><circle cx="186.45" cy="204.9" r="0.44"/><circle cx="200.86" cy="204.83" r="0.42"/><circle cx="217.93" cy="210.35" r="0.31"/><circle cx="187.56" cy="202.01" r="0.43"/><circle cx="203.72" cy="205.71" r="0.28"/><circle cx="219.28" cy="212.27" r="0.36"/><circle cx="219.32" cy="209.66" r="0.5"/><circle cx="212.02" cy="208.83" r="0.34"/><circle cx="181.74" cy="217.04" r="0.28"/><circle cx="187.11" cy="204.29" r="0.43"/><circle cx="210.44" cy="214.01" r="0.48"/><circle cx="189.18" cy="206.71" r="0.35"/><circle cx="181.1" cy="219.47" r="0.47"/><circle cx="207.78" cy="216.22" r="0.39"/><circle cx="192.46" cy="202.22" r="0.34"/><circle cx="180.48" cy="207.28" r="0.46"/><circle cx="213.44" cy="209.49" r="0.47"/><circle cx="211.49" cy="205.74" r="0.43"/><circle cx="194.66" cy="205.09" r="0.46"/><circle cx="199.03" cy="205.16" r="0.5"/><circle cx="218.36" cy="215.14" r="0.44"/><circle cx="240.66" cy="210.23" r="0.48"/><circle cx="205.98" cy="215.84" r="0.42"/><circle cx="197.7" cy="204.56" r="0.43"/><circle cx="182.98" cy="219.94" r="0.31"/><circle cx="179.72" cy="202.25" r="0.5"/><circle cx="222.33" cy="213.85" r="0.45"/><circle cx="215.79" cy="207.89" r="0.48"/><circle cx="182.22" cy="218.99" r="0.5"/><circle cx="191.17" cy="202.36" r="0.29"/><circle cx="218.42" cy="206.22" r="0.3"/><circle cx="184.26" cy="216.56" r="0.33"/><circle cx="198.42" cy="209.22" r="0.29"/><circle cx="194.43" cy="206.12" r="0.45"/><circle cx="201.55" cy="206.96" r="0.51"/><circle cx="204.43" cy="209.5" r="0.47"/><circle cx="200.19" cy="215.4" r="0.41"/><circle cx="191.86" cy="218.87" r="0.3"/><circle cx="178.08" cy="204.34" r="0.46"/><circle cx="209.41" cy="210.71" r="0.47"/><circle cx="189.81" cy="210.78" r="0.36"/><circle cx="191.74" cy="215.29" r="0.4"/><circle cx="185.04" cy="213.9" r="0.3"/><circle cx="228.36" cy="213.71" r="0.37"/><circle cx="203.68" cy="208.58" r="0.49"/><circle cx="183.52" cy="219.45" r="0.29"/><circle cx="191.19" cy="205.69" r="0.5"/><circle cx="210.08" cy="208.24" r="0.49"/><circle cx="192.95" cy="210.04" r="0.41"/><circle cx="219.36" cy="207.57" r="0.36"/><circle cx="187.94" cy="218.45" r="0.44"/><circle cx="206.08" cy="216.92" r="0.42"/><circle cx="186.07" cy="210.06" r="0.49"/><circle cx="193.23" cy="204.11" r="0.35"/><circle cx="187.89" cy="203.33" r="0.34"/><circle cx="198.9" cy="211.39" r="0.32"/><circle cx="199" cy="204.06" r="0.51"/><circle cx="205.84" cy="204.22" r="0.43"/><circle cx="184.84" cy="204.44" r="0.37"/><circle cx="180.17" cy="208.68" r="0.47"/><circle cx="222.38" cy="210.91" r="0.43"/><circle cx="216.64" cy="208.8" r="0.46"/><circle cx="236.11" cy="209.36" r="0.42"/><circle cx="225.94" cy="209.17" r="0.33"/><circle cx="219.06" cy="209.89" r="0.36"/><circle cx="204.85" cy="217.11" r="0.45"/><circle cx="205.11" cy="209.91" r="0.43"/><circle cx="204.2" cy="214.76" r="0.5"/><circle cx="189.72" cy="214.3" r="0.47"/><circle cx="202.88" cy="210.68" r="0.51"/><circle cx="180.44" cy="211.85" r="0.32"/><circle cx="214.77" cy="211.8" r="0.45"/><circle cx="210.78" cy="213.96" r="0.48"/><circle cx="211.39" cy="208.93" r="0.51"/><circle cx="191.45" cy="214.96" r="0.37"/><circle cx="181.62" cy="205.94" r="0.38"/><circle cx="178.85" cy="209.11" r="0.38"/><circle cx="222.69" cy="207.65" r="0.34"/><circle cx="192.36" cy="216.21" r="0.51"/><circle cx="229.3" cy="208.52" r="0.33"/><circle cx="186.28" cy="216.99" r="0.47"/><circle cx="218.6" cy="210.22" r="0.41"/><circle cx="200.6" cy="213.95" r="0.48"/><circle cx="230.24" cy="210.2" r="0.35"/><circle cx="202.07" cy="205.48" r="0.38"/><circle cx="193.68" cy="206.54" r="0.4"/><circle cx="205.42" cy="213.92" r="0.44"/><circle cx="231.2" cy="213.83" r="0.28"/><circle cx="184.5" cy="203.04" r="0.34"/><circle cx="227.68" cy="207.52" r="0.32"/><circle cx="188.75" cy="219.5" r="0.43"/><circle cx="222.34" cy="211.58" r="0.46"/><circle cx="213.52" cy="205.72" r="0.34"/><circle cx="186.92" cy="210.75" r="0.29"/><circle cx="209.45" cy="210.86" r="0.41"/><circle cx="231.81" cy="210.2" r="0.42"/><circle cx="202" cy="209.11" r="0.51"/><circle cx="182.83" cy="213.91" r="0.43"/><circle cx="179.83" cy="213.31" r="0.44"/><circle cx="240.83" cy="211.13" r="0.4"/><circle cx="223.96" cy="213.66" r="0.36"/><circle cx="208.37" cy="211.46" r="0.46"/><circle cx="191.49" cy="209.47" r="0.38"/><circle cx="196.74" cy="218.11" r="0.38"/><circle cx="210.24" cy="205.88" r="0.4"/><circle cx="198.29" cy="206.48" r="0.42"/><circle cx="180.56" cy="215.8" r="0.49"/><circle cx="216.96" cy="214.38" r="0.47"/><circle cx="217.47" cy="213.69" r="0.45"/><circle cx="216.16" cy="214.88" r="0.33"/><circle cx="220.69" cy="209.97" r="0.46"/><circle cx="184.49" cy="203.89" r="0.29"/><circle cx="219.97" cy="208.02" r="0.48"/><circle cx="228.34" cy="212.27" r="0.34"/><circle cx="197.33" cy="209.18" r="0.36"/><circle cx="205.56" cy="214.02" r="0.5"/><circle cx="181.5" cy="212.39" r="0.29"/><circle cx="185.61" cy="217.73" r="0.42"/><circle cx="236.79" cy="209.72" r="0.28"/><circle cx="202.78" cy="212.92" r="0.51"/><circle cx="240.77" cy="210.36" r="0.38"/><circle cx="184.53" cy="214.08" r="0.33"/><circle cx="178.31" cy="214.94" r="0.31"/><circle cx="179.14" cy="215.73" r="0.34"/><circle cx="181.21" cy="216.93" r="0.45"/><circle cx="183.39" cy="213.73" r="0.45"/><circle cx="178.94" cy="214.22" r="0.48"/><circle cx="183.1" cy="206.74" r="0.46"/><circle cx="188.62" cy="218.84" r="0.4"/><circle cx="181.83" cy="207.99" r="0.42"/><circle cx="206.08" cy="214.79" r="0.31"/><circle cx="229.03" cy="207.89" r="0.43"/><circle cx="218.3" cy="209.1" r="0.37"/><circle cx="228.22" cy="212.37" r="0.35"/><circle cx="199.25" cy="213.23" r="0.51"/><circle cx="231.2" cy="213.13" r="0.35"/><circle cx="202.11" cy="214.97" r="0.42"/><circle cx="194.83" cy="209.2" r="0.42"/><circle cx="180.71" cy="218.23" r="0.47"/><circle cx="233.5" cy="212.48" r="0.35"/><circle cx="190.83" cy="216.4" r="0.5"/><circle cx="192.98" cy="213.25" r="0.44"/><circle cx="207.78" cy="204.44" r="0.34"/><circle cx="192.9" cy="212.65" r="0.5"/><circle cx="234.65" cy="211.38" r="0.39"/><circle cx="190.31" cy="203.88" r="0.45"/><circle cx="201.22" cy="212.32" r="0.38"/><circle cx="187.99" cy="213.04" r="0.36"/><circle cx="233.43" cy="210.6" r="0.42"/><circle cx="194.74" cy="217.04" r="0.38"/><circle cx="190.86" cy="203.88" r="0.3"/><circle cx="181.26" cy="212.16" r="0.49"/><circle cx="216.28" cy="208.64" r="0.31"/><circle cx="214.13" cy="213.99" r="0.51"/><circle cx="220.86" cy="208.55" r="0.39"/><circle cx="180.47" cy="205.53" r="0.36"/><circle cx="181.57" cy="203.09" r="0.46"/><circle cx="197.12" cy="212.91" r="0.46"/><circle cx="184.75" cy="207.03" r="0.34"/><circle cx="185.95" cy="210.49" r="0.32"/><circle cx="193.26" cy="203.05" r="0.44"/><circle cx="178.81" cy="215.68" r="0.33"/><circle cx="180.3" cy="220.31" r="0.33"/><circle cx="218.22" cy="209.85" r="0.36"/><circle cx="230.68" cy="210.41" r="0.43"/><circle cx="187.14" cy="204.78" r="0.29"/><circle cx="223.68" cy="212.07" r="0.31"/><circle cx="195.35" cy="218.37" r="0.36"/><circle cx="188.74" cy="210.7" r="0.36"/><circle cx="191.51" cy="210.4" r="0.35"/><circle cx="194.5" cy="204.34" r="0.37"/><circle cx="181.68" cy="215.88" r="0.35"/><circle cx="231.26" cy="211.48" r="0.32"/><circle cx="191.97" cy="212.47" r="0.31"/><circle cx="189.53" cy="216.85" r="0.45"/><circle cx="183.59" cy="213.29" r="0.4"/><circle cx="195.53" cy="204.43" r="0.43"/><circle cx="182.2" cy="216.02" r="0.38"/><circle cx="236.25" cy="210.39" r="0.49"/><circle cx="195.04" cy="203.99" r="0.48"/><circle cx="201.49" cy="203.5" r="0.37"/><circle cx="211.27" cy="209.71" r="0.4"/><circle cx="185.73" cy="215.62" r="0.48"/><circle cx="223.52" cy="208.29" r="0.46"/><circle cx="181.92" cy="219.1" r="0.51"/><circle cx="209.67" cy="211.19" r="0.41"/><circle cx="189.67" cy="202.16" r="0.34"/><circle cx="184.17" cy="215.28" r="0.33"/><circle cx="179.13" cy="213.09" r="0.42"/><circle cx="211.47" cy="215.36" r="0.3"/><circle cx="180.89" cy="202.61" r="0.4"/><circle cx="210.05" cy="206.05" r="0.31"/><circle cx="187.42" cy="212.5" r="0.46"/><circle cx="188.52" cy="218.07" r="0.51"/><circle cx="202.88" cy="209.15" r="0.48"/><circle cx="211.64" cy="208.6" r="0.51"/><circle cx="227.72" cy="207.35" r="0.34"/><circle cx="199.45" cy="209.48" r="0.52"/><circle cx="181.43" cy="211.28" r="0.51"/><circle cx="205.02" cy="213.82" r="0.37"/><circle cx="205.71" cy="211.01" r="0.28"/><circle cx="180.2" cy="214.01" r="0.34"/><circle cx="211.3" cy="209.44" r="0.51"/><circle cx="196.4" cy="206.62" r="0.44"/><circle cx="185.7" cy="212.97" r="0.51"/><circle cx="210.88" cy="205.81" r="0.39"/><circle cx="185.93" cy="202.79" r="0.35"/><circle cx="204.02" cy="206.24" r="0.34"/><circle cx="183.62" cy="211.92" r="0.48"/><circle cx="217.04" cy="212.44" r="0.44"/><circle cx="190.88" cy="215.53" r="0.39"/><circle cx="213.07" cy="213.38" r="0.39"/><circle cx="197.87" cy="205.23" r="0.33"/><circle cx="210.8" cy="208.33" r="0.42"/><circle cx="178.76" cy="207.66" r="0.49"/><circle cx="193.27" cy="212.15" r="0.4"/><circle cx="196.91" cy="216.89" r="0.32"/><circle cx="182.28" cy="219.07" r="0.39"/><circle cx="181.97" cy="208.43" r="0.39"/><circle cx="199.57" cy="207.65" r="0.44"/><circle cx="230.56" cy="211.29" r="0.46"/><circle cx="208.42" cy="217.17" r="0.45"/><circle cx="227" cy="212.79" r="0.4"/><circle cx="239.62" cy="212.48" r="0.38"/><circle cx="216.87" cy="208.25" r="0.39"/><circle cx="207.31" cy="215.81" r="0.35"/><circle cx="203" cy="212.12" r="0.37"/><circle cx="198.61" cy="217.22" r="0.48"/><circle cx="209.97" cy="209.67" r="0.32"/><circle cx="197.46" cy="203.09" r="0.42"/><circle cx="214.16" cy="210.84" r="0.5"/><circle cx="227.5" cy="211.75" r="0.52"/><circle cx="211.12" cy="211.28" r="0.44"/><circle cx="202.93" cy="207.77" r="0.42"/><circle cx="221.29" cy="211.46" r="0.3"/><circle cx="201.96" cy="208.72" r="0.41"/><circle cx="239.73" cy="210.61" r="0.39"/><circle cx="199.97" cy="211.56" r="0.48"/><circle cx="188.93" cy="206.9" r="0.51"/><circle cx="230.87" cy="211.18" r="0.31"/><circle cx="234.84" cy="209.16" r="0.32"/><circle cx="196.56" cy="211.16" r="0.4"/><circle cx="190.04" cy="203.91" r="0.43"/><circle cx="216.6" cy="207.67" r="0.52"/><circle cx="204.33" cy="217.23" r="0.35"/><circle cx="197.49" cy="218.43" r="0.42"/><circle cx="209.86" cy="212.07" r="0.34"/><circle cx="219.4" cy="211.59" r="0.52"/><circle cx="214.77" cy="208.94" r="0.31"/><circle cx="188.03" cy="216.61" r="0.31"/><circle cx="184.41" cy="203.65" r="0.41"/><circle cx="230.68" cy="213.39" r="0.47"/><circle cx="223.79" cy="207.68" r="0.32"/><circle cx="235.85" cy="212.71" r="0.36"/><circle cx="206.79" cy="208.38" r="0.29"/><circle cx="234.99" cy="212.72" r="0.51"/><circle cx="206.14" cy="213.54" r="0.34"/><circle cx="180.81" cy="220.38" r="0.49"/><circle cx="193.55" cy="208.48" r="0.45"/><circle cx="192.17" cy="206.7" r="0.49"/><circle cx="193.58" cy="203.72" r="0.37"/><circle cx="196.6" cy="212.25" r="0.31"/><circle cx="212.16" cy="208.38" r="0.38"/><circle cx="182.19" cy="202.61" r="0.48"/><circle cx="200.48" cy="205.29" r="0.33"/><circle cx="196.15" cy="205.12" r="0.29"/><circle cx="220.51" cy="207.41" r="0.32"/><circle cx="195.26" cy="218.27" r="0.31"/><circle cx="200.59" cy="215.79" r="0.37"/><circle cx="238.86" cy="211.01" r="0.33"/><circle cx="235.58" cy="212.83" r="0.37"/><circle cx="193.76" cy="213.28" r="0.33"/><circle cx="210.83" cy="211.84" r="0.34"/><circle cx="227.39" cy="208.37" r="0.44"/><circle cx="214.33" cy="206.74" r="0.37"/><circle cx="183.51" cy="203.8" r="0.48"/><circle cx="198.55" cy="214.48" r="0.31"/><circle cx="213.97" cy="207.85" r="0.4"/><circle cx="197.92" cy="204.88" r="0.31"/><circle cx="221.5" cy="214.5" r="0.36"/><circle cx="204.4" cy="214.4" r="0.45"/><circle cx="193.9" cy="218.53" r="0.36"/><circle cx="185.37" cy="219.98" r="0.46"/><circle cx="180.56" cy="203.46" r="0.33"/><circle cx="197.4" cy="208.28" r="0.29"/><circle cx="197.9" cy="213.94" r="0.32"/><circle cx="231.73" cy="212.44" r="0.45"/><circle cx="194.3" cy="209.47" r="0.44"/><circle cx="232.67" cy="213.26" r="0.29"/><circle cx="193.65" cy="202.35" r="0.47"/><circle cx="222.46" cy="208.56" r="0.46"/><circle cx="183.76" cy="220.72" r="0.38"/><circle cx="218.2" cy="209.86" r="0.29"/><circle cx="222.69" cy="209.32" r="0.4"/><circle cx="194.72" cy="211.92" r="0.51"/><circle cx="218.8" cy="211.87" r="0.34"/><circle cx="181.8" cy="207.77" r="0.38"/><circle cx="190.89" cy="206.73" r="0.31"/><circle cx="223.25" cy="214.65" r="0.34"/><circle cx="193.47" cy="211.24" r="0.39"/><circle cx="187.08" cy="212.29" r="0.36"/><circle cx="230.19" cy="211.96" r="0.46"/><circle cx="188.83" cy="214.56" r="0.42"/><circle cx="207.52" cy="216.76" r="0.48"/><circle cx="185.33" cy="206.27" r="0.37"/><circle cx="195.98" cy="204.24" r="0.45"/><circle cx="198.77" cy="210.21" r="0.37"/><circle cx="209.29" cy="209.45" r="0.33"/><circle cx="193.74" cy="202.95" r="0.29"/><circle cx="196.96" cy="203.99" r="0.43"/><circle cx="188.78" cy="217.16" r="0.48"/><circle cx="225.51" cy="207.09" r="0.32"/><circle cx="201.59" cy="212.02" r="0.37"/><circle cx="180.64" cy="212.37" r="0.43"/><circle cx="209.64" cy="210.89" r="0.32"/><circle cx="197.17" cy="212.68" r="0.3"/><circle cx="206.13" cy="204.1" r="0.45"/><circle cx="178.18" cy="218.4" r="0.49"/><circle cx="228.36" cy="209.26" r="0.35"/><circle cx="220.34" cy="211.22" r="0.38"/><circle cx="199.67" cy="209.55" r="0.44"/><circle cx="188.53" cy="206.41" r="0.39"/><circle cx="214.06" cy="207.56" r="0.33"/><circle cx="183.44" cy="207.02" r="0.39"/><circle cx="221.29" cy="213.3" r="0.35"/><circle cx="208.77" cy="214.14" r="0.35"/><circle cx="179.78" cy="204.05" r="0.44"/><circle cx="220.27" cy="208.08" r="0.42"/><circle cx="204.65" cy="211.56" r="0.42"/><circle cx="189.55" cy="219.48" r="0.41"/><circle cx="185.19" cy="218.87" r="0.34"/><circle cx="184.08" cy="211.58" r="0.34"/><circle cx="209.31" cy="212.09" r="0.33"/><circle cx="210.84" cy="212.85" r="0.3"/><circle cx="213.24" cy="215.62" r="0.46"/><circle cx="231.13" cy="208.52" r="0.32"/><circle cx="239.44" cy="212.29" r="0.47"/><circle cx="186.76" cy="216.98" r="0.29"/><circle cx="193.16" cy="208.09" r="0.28"/><circle cx="197.2" cy="215.46" r="0.38"/><circle cx="233.82" cy="212.29" r="0.5"/><circle cx="225.71" cy="207.41" r="0.46"/><circle cx="185.85" cy="208.11" r="0.46"/><circle cx="180.78" cy="213.18" r="0.3"/><circle cx="185.23" cy="220.26" r="0.44"/><circle cx="194.29" cy="204.15" r="0.39"/><circle cx="231.64" cy="212.69" r="0.31"/><circle cx="179.34" cy="202.33" r="0.47"/><circle cx="189.86" cy="212.09" r="0.35"/><circle cx="221.98" cy="208.28" r="0.31"/><circle cx="234.03" cy="211.75" r="0.45"/><circle cx="178.88" cy="207.43" r="0.32"/><circle cx="189.67" cy="217.9" r="0.44"/><circle cx="203.12" cy="210.37" r="0.32"/><circle cx="232.09" cy="208.56" r="0.49"/><circle cx="199.07" cy="204.66" r="0.49"/><circle cx="188.86" cy="207.84" r="0.39"/><circle cx="214.93" cy="208.43" r="0.36"/><circle cx="178.38" cy="212.64" r="0.36"/><circle cx="179.31" cy="210.01" r="0.52"/><circle cx="180.9" cy="203.11" r="0.44"/><circle cx="195.45" cy="205.91" r="0.4"/><circle cx="194.77" cy="212.42" r="0.41"/><circle cx="180.18" cy="212.23" r="0.47"/><circle cx="218.52" cy="213.86" r="0.37"/><circle cx="196.02" cy="217.4" r="0.49"/><circle cx="197.46" cy="216.69" r="0.46"/><circle cx="210.57" cy="213.87" r="0.36"/><circle cx="213.25" cy="208.83" r="0.29"/><circle cx="199.58" cy="207.01" r="0.52"/><circle cx="208.81" cy="207.98" r="0.34"/><circle cx="193.03" cy="207.58" r="0.31"/><circle cx="178.46" cy="219.06" r="0.39"/><circle cx="206.51" cy="212.41" r="0.35"/><circle cx="197.3" cy="206.69" r="0.45"/><circle cx="189.44" cy="212.67" r="0.52"/><circle cx="200.85" cy="216.94" r="0.38"/><circle cx="195.66" cy="205.57" r="0.29"/><circle cx="188.53" cy="205.8" r="0.45"/><circle cx="191.97" cy="208.69" r="0.33"/><circle cx="190.04" cy="211.71" r="0.49"/><circle cx="191.58" cy="207.09" r="0.46"/><circle cx="219.53" cy="208.82" r="0.44"/><circle cx="218.08" cy="207.26" r="0.4"/><circle cx="237.22" cy="212.31" r="0.52"/><circle cx="181.59" cy="213.41" r="0.45"/><circle cx="188" cy="203.04" r="0.46"/><circle cx="183.75" cy="217.81" r="0.38"/><circle cx="212.47" cy="212.85" r="0.41"/><circle cx="220.07" cy="213.13" r="0.36"/><circle cx="207" cy="206.02" r="0.41"/><circle cx="178.58" cy="210.37" r="0.44"/><circle cx="227.55" cy="207.87" r="0.52"/><circle cx="192.6" cy="216.54" r="0.3"/><circle cx="179.79" cy="202.85" r="0.29"/><circle cx="210.12" cy="212.12" r="0.32"/><circle cx="187.56" cy="203.8" r="0.46"/><circle cx="179.86" cy="217.02" r="0.34"/><circle cx="240.87" cy="210.88" r="0.43"/><circle cx="200.03" cy="217.51" r="0.39"/><circle cx="184.9" cy="216.03" r="0.3"/><circle cx="219.31" cy="208.74" r="0.49"/><circle cx="181.84" cy="212.31" r="0.38"/><circle cx="194.12" cy="205.67" r="0.38"/><circle cx="192.81" cy="204.37" r="0.46"/><circle cx="219.13" cy="206.47" r="0.52"/><circle cx="191.86" cy="212.43" r="0.32"/><circle cx="195.11" cy="216.43" r="0.48"/><circle cx="196.08" cy="207.19" r="0.4"/><circle cx="221.7" cy="213.05" r="0.39"/><circle cx="191.43" cy="219.34" r="0.37"/><circle cx="189.67" cy="218.91" r="0.52"/><circle cx="187.65" cy="216.09" r="0.3"/><circle cx="188.8" cy="214.92" r="0.3"/><circle cx="193.02" cy="217.33" r="0.45"/><circle cx="180.42" cy="211.01" r="0.34"/><circle cx="185.71" cy="210.62" r="0.31"/><circle cx="225.25" cy="210.92" r="0.31"/><circle cx="200.63" cy="210.82" r="0.5"/><circle cx="200.36" cy="204.63" r="0.51"/><circle cx="195.47" cy="203.8" r="0.34"/><circle cx="182.41" cy="200.85" r="0.4"/><circle cx="204.12" cy="212.15" r="0.37"/><circle cx="178.68" cy="215.04" r="0.44"/><circle cx="212.81" cy="211.97" r="0.45"/><circle cx="223.94" cy="208.68" r="0.36"/><circle cx="202.77" cy="208.38" r="0.38"/><circle cx="178.34" cy="213.27" r="0.5"/><circle cx="194.3" cy="213.34" r="0.37"/><circle cx="193.41" cy="204.27" r="0.31"/><circle cx="222.43" cy="207.04" r="0.44"/><circle cx="213.13" cy="206.84" r="0.51"/><circle cx="178.06" cy="216.32" r="0.48"/><circle cx="210.65" cy="212.93" r="0.52"/><circle cx="193" cy="213.75" r="0.46"/><circle cx="202.25" cy="215.57" r="0.37"/><circle cx="211.68" cy="213.38" r="0.44"/><circle cx="198.62" cy="213.74" r="0.41"/><circle cx="192.29" cy="213.38" r="0.34"/><circle cx="236.16" cy="210.31" r="0.45"/><circle cx="211.41" cy="210.39" r="0.33"/><circle cx="187.09" cy="220.3" r="0.41"/><circle cx="211.53" cy="211.5" r="0.48"/><circle cx="193.27" cy="203.69" r="0.48"/><circle cx="207.46" cy="213.99" r="0.48"/><circle cx="180.77" cy="208.29" r="0.48"/><circle cx="187.85" cy="205.43" r="0.3"/><circle cx="200.83" cy="217.57" r="0.41"/><circle cx="222.48" cy="209.78" r="0.39"/><circle cx="187.59" cy="214.86" r="0.37"/><circle cx="211.32" cy="205.13" r="0.37"/><circle cx="199.77" cy="208.28" r="0.28"/><circle cx="190.85" cy="212.45" r="0.29"/><circle cx="189.42" cy="215.7" r="0.35"/><circle cx="198.74" cy="205.22" r="0.48"/><circle cx="183.85" cy="213.9" r="0.49"/><circle cx="190.91" cy="209.21" r="0.47"/><circle cx="217.54" cy="208.08" r="0.29"/><circle cx="206.32" cy="207.98" r="0.45"/><circle cx="196.9" cy="208.87" r="0.44"/><circle cx="229.89" cy="207.65" r="0.37"/><circle cx="223.56" cy="208.09" r="0.44"/><circle cx="226.39" cy="208.25" r="0.41"/><circle cx="215.94" cy="210.08" r="0.39"/><circle cx="231.73" cy="209.03" r="0.39"/><circle cx="234.98" cy="209.58" r="0.4"/><circle cx="221.51" cy="212.08" r="0.46"/><circle cx="183.65" cy="216.47" r="0.42"/><circle cx="181.52" cy="214.88" r="0.45"/><circle cx="222.22" cy="209.09" r="0.42"/><circle cx="199.4" cy="211.3" r="0.28"/><circle cx="194.79" cy="206.79" r="0.34"/><circle cx="232.97" cy="212.13" r="0.4"/><circle cx="194.45" cy="204.34" r="0.29"/><circle cx="212.36" cy="208.12" r="0.39"/><circle cx="209.3" cy="212.74" r="0.37"/><circle cx="236.84" cy="212.13" r="0.29"/><circle cx="198.11" cy="211.63" r="0.38"/><circle cx="214.16" cy="207.02" r="0.35"/><circle cx="215.89" cy="209.9" r="0.5"/><circle cx="181.69" cy="209.44" r="0.43"/><circle cx="181.13" cy="218.88" r="0.3"/><circle cx="237.03" cy="212.24" r="0.47"/><circle cx="209.89" cy="214.72" r="0.44"/><circle cx="196.87" cy="204.54" r="0.48"/><circle cx="187.33" cy="220.09" r="0.33"/><circle cx="184.46" cy="202" r="0.47"/><circle cx="238.86" cy="209.02" r="0.44"/><circle cx="181.63" cy="215.21" r="0.29"/><circle cx="192.89" cy="212.71" r="0.36"/><circle cx="202.32" cy="214" r="0.33"/><circle cx="207.72" cy="215.92" r="0.38"/><circle cx="238.12" cy="211.48" r="0.35"/><circle cx="200.27" cy="216.41" r="0.4"/><circle cx="216.26" cy="211.8" r="0.3"/><circle cx="186.94" cy="205.87" r="0.49"/><circle cx="199.32" cy="209.79" r="0.34"/><circle cx="182.44" cy="212.2" r="0.3"/><circle cx="216.12" cy="210.05" r="0.29"/><circle cx="214.99" cy="207.66" r="0.37"/><circle cx="199.22" cy="218.43" r="0.49"/><circle cx="184.02" cy="219.24" r="0.31"/><circle cx="209.75" cy="211.69" r="0.31"/><circle cx="212.27" cy="211.05" r="0.37"/><circle cx="190.65" cy="208.78" r="0.33"/><circle cx="186.14" cy="205.18" r="0.49"/><circle cx="214.51" cy="215.06" r="0.34"/><circle cx="203.17" cy="211.3" r="0.35"/><circle cx="193.73" cy="213.08" r="0.52"/><circle cx="180.64" cy="213.5" r="0.45"/><circle cx="229.88" cy="210.06" r="0.5"/><circle cx="204.37" cy="208.86" r="0.3"/><circle cx="193.67" cy="216.04" r="0.44"/><circle cx="187.68" cy="207.48" r="0.31"/><circle cx="190.68" cy="204.73" r="0.36"/><circle cx="228.66" cy="210.45" r="0.4"/><circle cx="226.09" cy="213.9" r="0.33"/><circle cx="223.92" cy="207.58" r="0.32"/><circle cx="215.78" cy="209.48" r="0.48"/><circle cx="190.67" cy="209.97" r="0.34"/><circle cx="203.09" cy="217.14" r="0.47"/><circle cx="230.85" cy="208.84" r="0.3"/><circle cx="199.73" cy="212.99" r="0.48"/><circle cx="185.08" cy="217.77" r="0.38"/><circle cx="216.7" cy="209.96" r="0.36"/><circle cx="191.67" cy="207.68" r="0.48"/><circle cx="217.63" cy="206.33" r="0.3"/><circle cx="195.34" cy="215.33" r="0.39"/><circle cx="185.73" cy="214.92" r="0.29"/><circle cx="201.19" cy="204.83" r="0.49"/><circle cx="203.24" cy="210.89" r="0.51"/><circle cx="190.12" cy="218.17" r="0.32"/><circle cx="194.05" cy="207.65" r="0.3"/><circle cx="210.89" cy="208.19" r="0.5"/><circle cx="182.86" cy="213.63" r="0.39"/><circle cx="220.31" cy="213.8" r="0.37"/><circle cx="211.42" cy="214.78" r="0.5"/><circle cx="209.88" cy="207.9" r="0.51"/><circle cx="181.65" cy="218.27" r="0.44"/><circle cx="213.67" cy="209.75" r="0.46"/><circle cx="187.25" cy="212.83" r="0.42"/><circle cx="180.99" cy="208.53" r="0.46"/><circle cx="219.06" cy="206.08" r="0.46"/><circle cx="196.63" cy="211.87" r="0.38"/><circle cx="223.42" cy="215.1" r="0.35"/><circle cx="188.36" cy="212.55" r="0.48"/><circle cx="228.79" cy="207.54" r="0.31"/><circle cx="188.38" cy="216.14" r="0.32"/><circle cx="197.05" cy="208.33" r="0.51"/><circle cx="190.63" cy="206.96" r="0.39"/><circle cx="184.94" cy="205.62" r="0.37"/><circle cx="195.08" cy="204.39" r="0.5"/><circle cx="198.14" cy="203.25" r="0.46"/><circle cx="208.09" cy="212.19" r="0.44"/><circle cx="211.88" cy="206.24" r="0.43"/><circle cx="194.62" cy="216.87" r="0.29"/><circle cx="230.91" cy="212.36" r="0.36"/><circle cx="213.11" cy="216.48" r="0.44"/><circle cx="204.41" cy="217.67" r="0.31"/><circle cx="197.64" cy="214.08" r="0.51"/><circle cx="218.57" cy="215.12" r="0.47"/><circle cx="225.52" cy="207.42" r="0.37"/><circle cx="229.57" cy="207.59" r="0.32"/><circle cx="233.78" cy="211.6" r="0.41"/><circle cx="186.55" cy="207.35" r="0.3"/><circle cx="204.45" cy="210.95" r="0.48"/><circle cx="220.74" cy="212.61" r="0.38"/><circle cx="214.72" cy="205.92" r="0.48"/><circle cx="187.67" cy="214.67" r="0.46"/><circle cx="217.19" cy="205.95" r="0.3"/><circle cx="195.47" cy="204.59" r="0.33"/><circle cx="184.01" cy="214.77" r="0.51"/><circle cx="229.34" cy="207.81" r="0.45"/><circle cx="182.62" cy="218.35" r="0.36"/><circle cx="178.22" cy="213.74" r="0.31"/><circle cx="206.52" cy="212.11" r="0.47"/><circle cx="180.53" cy="218.1" r="0.31"/><circle cx="192.37" cy="213.75" r="0.36"/><circle cx="199.19" cy="212.41" r="0.33"/><circle cx="210.3" cy="209.23" r="0.3"/><circle cx="218.32" cy="215.84" r="0.42"/><circle cx="203.61" cy="211.17" r="0.42"/><circle cx="192.48" cy="218.99" r="0.52"/><circle cx="182.57" cy="210.41" r="0.31"/><circle cx="207.05" cy="214.92" r="0.45"/><circle cx="207.1" cy="207.42" r="0.33"/><circle cx="203.78" cy="206.12" r="0.33"/><circle cx="225.1" cy="211.26" r="0.39"/><circle cx="190.65" cy="215.38" r="0.33"/><circle cx="195" cy="212.23" r="0.45"/><circle cx="182.01" cy="204.42" r="0.28"/><circle cx="200.74" cy="203.5" r="0.43"/><circle cx="180.83" cy="203.75" r="0.37"/><circle cx="184.83" cy="203.29" r="0.47"/><circle cx="186.21" cy="202.3" r="0.42"/><circle cx="205.95" cy="216.01" r="0.37"/><circle cx="191.7" cy="212.78" r="0.37"/><circle cx="178.58" cy="218.17" r="0.47"/><circle cx="234.9" cy="211.65" r="0.3"/><circle cx="198.7" cy="213.64" r="0.49"/><circle cx="209.01" cy="213.97" r="0.33"/><circle cx="190.79" cy="209.94" r="0.42"/><circle cx="218.73" cy="215.45" r="0.39"/><circle cx="182.32" cy="215.84" r="0.29"/><circle cx="208.12" cy="208.7" r="0.44"/><circle cx="219.57" cy="215.12" r="0.39"/><circle cx="187.07" cy="219.9" r="0.42"/><circle cx="182.02" cy="205.15" r="0.52"/><circle cx="192.64" cy="208.53" r="0.47"/><circle cx="230.72" cy="213.85" r="0.46"/><circle cx="180.45" cy="201.96" r="0.51"/><circle cx="181.12" cy="205.19" r="0.5"/><circle cx="192.05" cy="214.68" r="0.5"/><circle cx="194.83" cy="203.28" r="0.28"/><circle cx="189.96" cy="217.66" r="0.32"/><circle cx="232.49" cy="212.13" r="0.48"/><circle cx="210.16" cy="213.54" r="0.42"/><circle cx="181.47" cy="211.9" r="0.35"/><circle cx="240.49" cy="211.91" r="0.36"/><circle cx="184.02" cy="215.96" r="0.48"/><circle cx="201.53" cy="206.56" r="0.46"/><circle cx="187.46" cy="213.24" r="0.51"/><circle cx="182.8" cy="202.4" r="0.45"/><circle cx="216.32" cy="211.34" r="0.39"/><circle cx="204.07" cy="213.34" r="0.44"/><circle cx="179.96" cy="214.88" r="0.48"/><circle cx="206.27" cy="215.44" r="0.34"/><circle cx="197.23" cy="207.57" r="0.36"/><circle cx="184.06" cy="209.64" r="0.52"/><circle cx="195.55" cy="205.39" r="0.38"/><circle cx="179.34" cy="204.98" r="0.49"/><circle cx="218.13" cy="207.98" r="0.41"/><circle cx="211.98" cy="214.2" r="0.41"/><circle cx="238.03" cy="208.87" r="0.5"/><circle cx="183.74" cy="204.57" r="0.35"/><circle cx="194.65" cy="215.65" r="0.52"/><circle cx="189.28" cy="209.54" r="0.44"/><circle cx="219.17" cy="212.9" r="0.44"/><circle cx="216.26" cy="215.19" r="0.35"/><circle cx="182.09" cy="201.37" r="0.28"/><circle cx="185.22" cy="210.76" r="0.51"/><circle cx="184.41" cy="206.57" r="0.38"/><circle cx="222.13" cy="209.69" r="0.45"/><circle cx="184.07" cy="220.41" r="0.36"/><circle cx="178.63" cy="204.08" r="0.5"/><circle cx="188.11" cy="214.4" r="0.42"/><circle cx="187.19" cy="202.04" r="0.52"/><circle cx="202.51" cy="214.25" r="0.42"/><circle cx="178.95" cy="218.66" r="0.31"/><circle cx="201.44" cy="211.41" r="0.31"/><circle cx="193.89" cy="217.41" r="0.35"/><circle cx="202.37" cy="216.73" r="0.33"/><circle cx="190.41" cy="204.72" r="0.37"/><circle cx="201.38" cy="214.01" r="0.39"/><circle cx="207.44" cy="215.55" r="0.3"/><circle cx="185.54" cy="210.45" r="0.32"/><circle cx="192.77" cy="209.59" r="0.31"/><circle cx="182.35" cy="207.85" r="0.39"/><circle cx="237.94" cy="212.11" r="0.3"/><circle cx="192.23" cy="216.27" r="0.42"/><circle cx="238.4" cy="211.45" r="0.34"/><circle cx="188.92" cy="218.92" r="0.33"/><circle cx="183.32" cy="205.74" r="0.5"/><circle cx="207.5" cy="215.99" r="0.3"/><circle cx="206.99" cy="206.89" r="0.33"/><circle cx="220.43" cy="207.85" r="0.31"/><circle cx="240.99" cy="210.49" r="0.32"/><circle cx="178.7" cy="214.27" r="0.4"/><circle cx="179.57" cy="210.25" r="0.46"/><circle cx="212.38" cy="205.05" r="0.4"/><circle cx="216.72" cy="214.22" r="0.31"/><circle cx="189.63" cy="204.89" r="0.42"/><circle cx="190.26" cy="216.38" r="0.42"/><circle cx="238.12" cy="208.74" r="0.44"/><circle cx="192.92" cy="210.4" r="0.4"/><circle cx="238.69" cy="210.73" r="0.52"/><circle cx="241.97" cy="209.94" r="0.33"/><circle cx="204.05" cy="207.45" r="0.44"/><circle cx="179.47" cy="208.13" r="0.32"/><circle cx="207.07" cy="212.26" r="0.45"/><circle cx="186.81" cy="205.19" r="0.31"/><circle cx="186.77" cy="211.39" r="0.42"/><circle cx="193" cy="203.59" r="0.42"/><circle cx="206.95" cy="208.9" r="0.49"/><circle cx="238.29" cy="208.87" r="0.29"/><circle cx="179.12" cy="206.27" r="0.35"/><circle cx="204.89" cy="211.55" r="0.48"/><circle cx="229.65" cy="214.28" r="0.4"/><circle cx="185.46" cy="205.26" r="0.44"/><circle cx="235.44" cy="212.45" r="0.32"/><circle cx="193.14" cy="207.96" r="0.41"/><circle cx="225.44" cy="213.63" r="0.39"/><circle cx="178.62" cy="210.36" r="0.44"/><circle cx="223.38" cy="214.15" r="0.32"/><circle cx="192.91" cy="209.37" r="0.51"/><circle cx="191.26" cy="208.9" r="0.51"/><circle cx="225.06" cy="207.81" r="0.44"/><circle cx="192.24" cy="204.63" r="0.34"/><circle cx="180.28" cy="202.89" r="0.38"/><circle cx="214.93" cy="207.72" r="0.45"/><circle cx="219.09" cy="213.86" r="0.45"/><circle cx="194.37" cy="217.97" r="0.42"/><circle cx="178.96" cy="211.67" r="0.45"/><circle cx="178.3" cy="203.71" r="0.45"/><circle cx="178.25" cy="204.96" r="0.34"/><circle cx="179.24" cy="202.41" r="0.5"/><circle cx="199.46" cy="211.39" r="0.36"/><circle cx="204.71" cy="210.43" r="0.34"/><circle cx="181.52" cy="201.75" r="0.32"/><circle cx="183.85" cy="213.63" r="0.45"/><circle cx="194.83" cy="217.32" r="0.45"/><circle cx="199.87" cy="210.72" r="0.33"/><circle cx="237.45" cy="212.23" r="0.29"/><circle cx="187.85" cy="215.14" r="0.37"/><circle cx="184.03" cy="212.8" r="0.33"/><circle cx="183.97" cy="214.5" r="0.42"/><circle cx="186.85" cy="204.14" r="0.42"/><circle cx="184.91" cy="213.85" r="0.34"/><circle cx="194.55" cy="209.22" r="0.41"/><circle cx="196.61" cy="213.98" r="0.45"/><circle cx="191.1" cy="206.75" r="0.44"/><circle cx="194.69" cy="203.36" r="0.33"/><circle cx="198.19" cy="215.77" r="0.29"/><circle cx="181.14" cy="211.2" r="0.32"/><circle cx="185.65" cy="211.05" r="0.41"/><circle cx="201.22" cy="215.66" r="0.41"/><circle cx="182.48" cy="208.41" r="0.4"/><circle cx="194.17" cy="214.61" r="0.33"/><circle cx="198.37" cy="210.39" r="0.45"/><circle cx="227.3" cy="208.08" r="0.39"/><circle cx="207.17" cy="213.91" r="0.35"/><circle cx="207.82" cy="213.53" r="0.35"/><circle cx="182.39" cy="216.41" r="0.46"/><circle cx="196.43" cy="216.79" r="0.31"/><circle cx="184.82" cy="201.45" r="0.32"/><circle cx="188.82" cy="203.72" r="0.46"/><circle cx="205.25" cy="207.34" r="0.31"/><circle cx="185.49" cy="205.61" r="0.46"/><circle cx="216.66" cy="206.25" r="0.39"/><circle cx="186.3" cy="204.16" r="0.51"/><circle cx="184.85" cy="217.79" r="0.36"/><circle cx="193.87" cy="205.51" r="0.39"/><circle cx="189.06" cy="216.28" r="0.36"/><circle cx="190" cy="209.11" r="0.48"/><circle cx="233.24" cy="212.55" r="0.28"/><circle cx="226.86" cy="213.24" r="0.5"/><circle cx="195.02" cy="207.95" r="0.37"/><circle cx="200.58" cy="208.22" r="0.31"/><circle cx="204.28" cy="213.89" r="0.49"/><circle cx="194.21" cy="214.33" r="0.37"/><circle cx="212.5" cy="207.3" r="0.48"/><circle cx="200.1" cy="218.46" r="0.48"/><circle cx="221.32" cy="214.25" r="0.29"/><circle cx="233.69" cy="211.95" r="0.39"/><circle cx="199.72" cy="217.12" r="0.47"/><circle cx="199.79" cy="205.39" r="0.3"/><circle cx="182.52" cy="201.39" r="0.46"/><circle cx="190.7" cy="210.07" r="0.38"/><circle cx="197.83" cy="213.81" r="0.49"/><circle cx="233.93" cy="212.51" r="0.31"/><circle cx="211.19" cy="210.55" r="0.38"/><circle cx="191.31" cy="207.87" r="0.37"/><circle cx="185.99" cy="220.02" r="0.29"/><circle cx="215.82" cy="209.41" r="0.45"/><circle cx="228.49" cy="207.75" r="0.33"/><circle cx="192.02" cy="219.33" r="0.52"/><circle cx="205.74" cy="208.27" r="0.45"/><circle cx="197.31" cy="207.14" r="0.46"/><circle cx="189.96" cy="211.93" r="0.4"/><circle cx="189.73" cy="219.92" r="0.41"/><circle cx="205.13" cy="213.15" r="0.34"/><circle cx="195.66" cy="209.15" r="0.4"/><circle cx="178.36" cy="207.38" r="0.45"/><circle cx="194.36" cy="211.27" r="0.32"/><circle cx="190.93" cy="212.78" r="0.45"/><circle cx="181.36" cy="220.67" r="0.39"/><circle cx="183.53" cy="201.43" r="0.47"/><circle cx="207.44" cy="213.95" r="0.52"/><circle cx="199.51" cy="216.76" r="0.34"/><circle cx="190.73" cy="203.45" r="0.38"/><circle cx="217.57" cy="206.57" r="0.32"/><circle cx="190.36" cy="206.85" r="0.4"/><circle cx="189.75" cy="210.45" r="0.39"/><circle cx="240.27" cy="210.6" r="0.51"/><circle cx="203.82" cy="207.69" r="0.38"/><circle cx="200.53" cy="215.1" r="0.37"/><circle cx="187.75" cy="218.92" r="0.42"/><circle cx="178.41" cy="218.59" r="0.45"/><circle cx="200.69" cy="213.76" r="0.5"/><circle cx="203.71" cy="209.42" r="0.35"/><circle cx="213.47" cy="214.48" r="0.46"/><circle cx="228.63" cy="212.88" r="0.44"/><circle cx="213.16" cy="208.76" r="0.32"/><circle cx="185.39" cy="219.65" r="0.47"/><circle cx="179.71" cy="207.01" r="0.4"/><circle cx="209.72" cy="207.9" r="0.49"/><circle cx="200.39" cy="211.6" r="0.5"/><circle cx="218.91" cy="210.39" r="0.36"/><circle cx="202.78" cy="213.3" r="0.47"/><circle cx="194.68" cy="208.05" r="0.37"/><circle cx="212.49" cy="205.97" r="0.36"/><circle cx="194.89" cy="216.04" r="0.45"/><circle cx="183.73" cy="220.25" r="0.38"/><circle cx="190.35" cy="216.36" r="0.49"/><circle cx="180.44" cy="201.13" r="0.31"/><circle cx="179.39" cy="215.48" r="0.43"/><circle cx="185.19" cy="203.46" r="0.32"/><circle cx="216.99" cy="214.69" r="0.51"/><circle cx="205.81" cy="208.5" r="0.34"/><circle cx="189.21" cy="203.86" r="0.32"/><circle cx="200.47" cy="216.12" r="0.29"/><circle cx="211.93" cy="214.88" r="0.29"/><circle cx="206.13" cy="217.3" r="0.42"/><circle cx="216.46" cy="207.31" r="0.38"/><circle cx="236.55" cy="212.24" r="0.31"/><circle cx="189.2" cy="208.33" r="0.45"/><circle cx="178.29" cy="217.55" r="0.47"/><circle cx="229.08" cy="209.01" r="0.44"/><circle cx="214.47" cy="215.92" r="0.38"/><circle cx="198.25" cy="208.19" r="0.34"/><circle cx="198.37" cy="216.57" r="0.34"/><circle cx="232.89" cy="210.65" r="0.35"/><circle cx="187.54" cy="216.64" r="0.42"/><circle cx="236.06" cy="212.8" r="0.38"/><circle cx="233.76" cy="209.62" r="0.45"/><circle cx="194.42" cy="215.97" r="0.44"/><circle cx="184.24" cy="210.76" r="0.45"/><circle cx="191.73" cy="214.29" r="0.35"/><circle cx="205.31" cy="212.48" r="0.47"/><circle cx="226.55" cy="209.94" r="0.49"/><circle cx="241.25" cy="211.8" r="0.46"/><circle cx="186.39" cy="213.91" r="0.37"/><circle cx="193.94" cy="217.83" r="0.29"/><circle cx="180.2" cy="210.12" r="0.39"/><circle cx="189.86" cy="202.91" r="0.48"/><circle cx="185.69" cy="203.99" r="0.4"/><circle cx="199.53" cy="203.5" r="0.5"/><circle cx="208.33" cy="217.19" r="0.34"/><circle cx="218.37" cy="211.63" r="0.49"/><circle cx="192.85" cy="210.09" r="0.48"/><circle cx="188.27" cy="214.95" r="0.41"/><circle cx="186.77" cy="210.25" r="0.4"/><circle cx="195.14" cy="207.99" r="0.41"/><circle cx="226.76" cy="212.87" r="0.32"/><circle cx="186.98" cy="212.71" r="0.51"/><circle cx="202.64" cy="211.94" r="0.36"/><circle cx="179.83" cy="204.4" r="0.31"/><circle cx="196.19" cy="213.75" r="0.42"/><circle cx="218.58" cy="211.85" r="0.49"/><circle cx="220.87" cy="207.83" r="0.43"/><circle cx="181.15" cy="209.28" r="0.51"/><circle cx="198.03" cy="212.41" r="0.28"/><circle cx="178.84" cy="204.36" r="0.32"/><circle cx="234.35" cy="211.24" r="0.36"/><circle cx="185.07" cy="216.32" r="0.34"/><circle cx="187.47" cy="207.91" r="0.44"/><circle cx="224.47" cy="212.03" r="0.37"/><circle cx="187.07" cy="203.38" r="0.32"/><circle cx="188.24" cy="210.96" r="0.42"/><circle cx="213.87" cy="208.98" r="0.41"/><circle cx="205.05" cy="205.11" r="0.46"/><circle cx="193.48" cy="218.03" r="0.34"/><circle cx="183.93" cy="210.4" r="0.37"/><circle cx="199.47" cy="216.73" r="0.33"/><circle cx="206.97" cy="210.97" r="0.5"/><circle cx="182.45" cy="201.71" r="0.36"/><circle cx="183.69" cy="214.17" r="0.38"/><circle cx="197.75" cy="211.17" r="0.5"/><circle cx="193.64" cy="203.3" r="0.35"/><circle cx="223.2" cy="209.33" r="0.32"/><circle cx="180.91" cy="202.59" r="0.48"/><circle cx="210.44" cy="207.28" r="0.3"/><circle cx="220.85" cy="209.43" r="0.44"/><circle cx="183.85" cy="219.76" r="0.28"/><circle cx="192.25" cy="208.66" r="0.33"/><circle cx="183.62" cy="215.02" r="0.52"/><circle cx="199.44" cy="205.76" r="0.44"/><circle cx="192.25" cy="208.72" r="0.45"/><circle cx="182.51" cy="211.85" r="0.52"/><circle cx="210.15" cy="210.65" r="0.33"/><circle cx="220.87" cy="210.8" r="0.47"/><circle cx="230.13" cy="210.32" r="0.31"/><circle cx="221.89" cy="215.24" r="0.42"/><circle cx="185.22" cy="206.98" r="0.29"/><circle cx="215.31" cy="215.81" r="0.36"/><circle cx="222.51" cy="207.97" r="0.45"/><circle cx="183.85" cy="215.87" r="0.49"/><circle cx="185.37" cy="208.27" r="0.44"/><circle cx="233.37" cy="212.84" r="0.51"/><circle cx="211.2" cy="210.53" r="0.36"/><circle cx="201.92" cy="211.13" r="0.42"/><circle cx="192.24" cy="206" r="0.4"/><circle cx="210.25" cy="209.11" r="0.44"/><circle cx="189.87" cy="211.6" r="0.35"/><circle cx="227.99" cy="211.28" r="0.34"/><circle cx="237.24" cy="211.14" r="0.37"/><circle cx="196.59" cy="208.74" r="0.45"/><circle cx="230.39" cy="210.52" r="0.46"/><circle cx="191.63" cy="209.84" r="0.37"/><circle cx="197.61" cy="207.81" r="0.46"/><circle cx="192.96" cy="217.16" r="0.44"/><circle cx="221.27" cy="213.88" r="0.45"/><circle cx="239.57" cy="211.45" r="0.44"/><circle cx="192.68" cy="207.31" r="0.31"/><circle cx="209.21" cy="208.02" r="0.34"/><circle cx="209.18" cy="215.57" r="0.49"/><circle cx="206.11" cy="209.17" r="0.36"/><circle cx="188.1" cy="206.08" r="0.5"/><circle cx="205.34" cy="204.13" r="0.47"/><circle cx="235.78" cy="209.57" r="0.38"/><circle cx="179.3" cy="208.48" r="0.37"/><circle cx="178.71" cy="208.08" r="0.46"/><circle cx="199.31" cy="214.85" r="0.43"/><circle cx="221.16" cy="213.34" r="0.35"/><circle cx="190.81" cy="218.72" r="0.5"/><circle cx="192.93" cy="212.79" r="0.42"/><circle cx="198.82" cy="214.08" r="0.42"/><circle cx="191.62" cy="206.75" r="0.38"/><circle cx="193.38" cy="218.74" r="0.34"/><circle cx="215.58" cy="208.2" r="0.29"/><circle cx="195.23" cy="216.98" r="0.39"/><circle cx="202.34" cy="204.91" r="0.43"/><circle cx="213.09" cy="208.42" r="0.47"/><circle cx="184.69" cy="205.62" r="0.46"/><circle cx="183.82" cy="210.06" r="0.33"/><circle cx="183.82" cy="208.02" r="0.38"/><circle cx="210.5" cy="206.26" r="0.45"/><circle cx="188.83" cy="211.13" r="0.4"/><circle cx="191.41" cy="219.21" r="0.37"/><circle cx="199.47" cy="213.43" r="0.42"/><circle cx="185.32" cy="214.34" r="0.41"/><circle cx="198.96" cy="207.13" r="0.48"/><circle cx="199.67" cy="209.08" r="0.51"/><circle cx="201.09" cy="208.74" r="0.32"/><circle cx="220.4" cy="214.53" r="0.39"/><circle cx="203.98" cy="205.02" r="0.47"/><circle cx="202" cy="216.04" r="0.29"/><circle cx="221.67" cy="214.77" r="0.4"/><circle cx="189.07" cy="214.1" r="0.45"/><circle cx="194.56" cy="214.08" r="0.31"/><circle cx="210.61" cy="206.81" r="0.41"/><circle cx="186.58" cy="210.53" r="0.43"/><circle cx="186.62" cy="206.69" r="0.44"/><circle cx="212.96" cy="213.47" r="0.47"/><circle cx="214.27" cy="216.47" r="0.37"/><circle cx="184.82" cy="213.36" r="0.29"/><circle cx="230.98" cy="211.36" r="0.28"/><circle cx="234.98" cy="209.58" r="0.48"/><circle cx="222.06" cy="211.62" r="0.49"/><circle cx="190.99" cy="219.67" r="0.36"/><circle cx="179.67" cy="207.3" r="0.3"/><circle cx="182.62" cy="213.63" r="0.31"/><circle cx="188.22" cy="206.34" r="0.35"/><circle cx="206.17" cy="217.41" r="0.35"/><circle cx="183.86" cy="220.25" r="0.41"/><circle cx="187.18" cy="215.28" r="0.39"/><circle cx="228.31" cy="209.93" r="0.33"/><circle cx="193.86" cy="215.19" r="0.38"/><circle cx="192.34" cy="204.68" r="0.51"/><circle cx="201.57" cy="211.12" r="0.4"/><circle cx="179.7" cy="216.48" r="0.46"/><circle cx="191.42" cy="207.54" r="0.46"/><circle cx="220.11" cy="208.83" r="0.41"/><circle cx="187.86" cy="220.11" r="0.39"/><circle cx="190.66" cy="215.79" r="0.36"/><circle cx="195.66" cy="213.88" r="0.4"/><circle cx="202.12" cy="212.63" r="0.33"/><circle cx="231.17" cy="212.05" r="0.42"/><circle cx="205.95" cy="214.71" r="0.51"/><circle cx="190.1" cy="202.12" r="0.38"/><circle cx="192.16" cy="218.96" r="0.37"/><circle cx="187.53" cy="203.93" r="0.42"/><circle cx="190.16" cy="210.35" r="0.41"/><circle cx="206.14" cy="210.98" r="0.48"/><circle cx="227.12" cy="212.44" r="0.41"/><circle cx="191.93" cy="217.08" r="0.35"/><circle cx="214.66" cy="214.16" r="0.37"/><circle cx="219.17" cy="215.11" r="0.32"/><circle cx="213.24" cy="216.03" r="0.3"/><circle cx="181.23" cy="205.37" r="0.3"/><circle cx="209.32" cy="205.41" r="0.35"/><circle cx="207.54" cy="208.07" r="0.47"/><circle cx="180.35" cy="216.55" r="0.38"/><circle cx="238.67" cy="211.17" r="0.39"/><circle cx="205.97" cy="216.81" r="0.48"/><circle cx="204.09" cy="214.44" r="0.41"/><circle cx="207.53" cy="212.55" r="0.34"/><circle cx="183.11" cy="208.02" r="0.49"/><circle cx="218.13" cy="213.8" r="0.48"/><circle cx="197.21" cy="215.58" r="0.45"/><circle cx="191.09" cy="214.04" r="0.44"/><circle cx="206.26" cy="207.05" r="0.42"/><circle cx="185.4" cy="215.98" r="0.3"/><circle cx="224.34" cy="208.01" r="0.32"/><circle cx="203.28" cy="210.93" r="0.38"/><circle cx="185.83" cy="211.4" r="0.35"/><circle cx="205.86" cy="204.92" r="0.51"/><circle cx="198.59" cy="214.12" r="0.48"/><circle cx="203.16" cy="216.52" r="0.35"/><circle cx="190.99" cy="209.59" r="0.46"/><circle cx="195.67" cy="203.26" r="0.4"/><circle cx="213.89" cy="209.06" r="0.29"/><circle cx="197.38" cy="212.79" r="0.45"/><circle cx="182.04" cy="220.23" r="0.31"/><circle cx="197.3" cy="215.65" r="0.28"/><circle cx="187.67" cy="204.79" r="0.3"/><circle cx="183.79" cy="204.18" r="0.4"/><circle cx="186.76" cy="217.96" r="0.38"/><circle cx="194.12" cy="205.2" r="0.48"/><circle cx="181" cy="216.23" r="0.3"/><circle cx="238.45" cy="208.88" r="0.42"/><circle cx="182.1" cy="215.16" r="0.42"/><circle cx="205.97" cy="206.1" r="0.42"/><circle cx="197.14" cy="205.95" r="0.43"/><circle cx="183.48" cy="217.53" r="0.4"/><circle cx="192.65" cy="202.43" r="0.4"/><circle cx="210.25" cy="215.73" r="0.37"/><circle cx="230.12" cy="213.36" r="0.33"/><circle cx="229.82" cy="212.18" r="0.3"/><circle cx="194.58" cy="213.46" r="0.33"/><circle cx="207.6" cy="215.6" r="0.3"/><circle cx="208.44" cy="214.19" r="0.44"/><circle cx="180.76" cy="204.1" r="0.51"/><circle cx="203.03" cy="209.25" r="0.37"/><circle cx="219.61" cy="208.75" r="0.42"/><circle cx="193.4" cy="216.24" r="0.45"/><circle cx="228.4" cy="210.36" r="0.35"/><circle cx="201.58" cy="217.48" r="0.48"/><circle cx="188.9" cy="203.32" r="0.42"/><circle cx="191.57" cy="207.3" r="0.3"/><circle cx="187.91" cy="215.67" r="0.33"/><circle cx="195.12" cy="208.59" r="0.28"/><circle cx="205.87" cy="208.26" r="0.28"/><circle cx="233.14" cy="208.15" r="0.28"/><circle cx="184.37" cy="215.52" r="0.42"/><circle cx="210.26" cy="205.32" r="0.35"/><circle cx="185.97" cy="218.56" r="0.29"/><circle cx="222.51" cy="212" r="0.48"/><circle cx="187.88" cy="211.78" r="0.34"/><circle cx="203.55" cy="204.11" r="0.45"/><circle cx="218.21" cy="213.08" r="0.5"/><circle cx="230" cy="212.37" r="0.36"/><circle cx="184.54" cy="207.23" r="0.45"/><circle cx="227.78" cy="209.7" r="0.39"/><circle cx="185.03" cy="213.53" r="0.47"/><circle cx="193.89" cy="214.94" r="0.49"/><circle cx="186.17" cy="202.89" r="0.4"/><circle cx="241.79" cy="209.7" r="0.47"/><circle cx="182.86" cy="209.86" r="0.28"/><circle cx="208.77" cy="208.97" r="0.51"/><circle cx="227.91" cy="212.8" r="0.34"/><circle cx="197.51" cy="210.71" r="0.37"/><circle cx="219.32" cy="211.02" r="0.36"/><circle cx="190.96" cy="207.28" r="0.28"/><circle cx="184" cy="201.12" r="0.38"/><circle cx="215.5" cy="212.67" r="0.28"/><circle cx="202.55" cy="205.66" r="0.43"/><circle cx="182.19" cy="211.83" r="0.37"/><circle cx="209.49" cy="208.8" r="0.3"/><circle cx="180.93" cy="219.23" r="0.44"/><circle cx="193.84" cy="212.59" r="0.37"/><circle cx="196.94" cy="216.65" r="0.43"/><circle cx="199.24" cy="211.85" r="0.5"/><circle cx="179.86" cy="210.02" r="0.41"/><circle cx="217.89" cy="210.42" r="0.43"/><circle cx="212.14" cy="215.41" r="0.51"/><circle cx="178.89" cy="206.95" r="0.49"/><circle cx="181.82" cy="217.29" r="0.29"/><circle cx="193.24" cy="208.29" r="0.33"/><circle cx="223.1" cy="211.53" r="0.43"/><circle cx="198.83" cy="212.81" r="0.51"/><circle cx="193.82" cy="211.25" r="0.37"/><circle cx="200.15" cy="217.57" r="0.32"/><circle cx="195.33" cy="210.75" r="0.5"/><circle cx="188.44" cy="218.4" r="0.38"/><circle cx="182.11" cy="207.15" r="0.32"/><circle cx="186.56" cy="206.58" r="0.45"/><circle cx="229.29" cy="211.06" r="0.31"/><circle cx="178.06" cy="218.98" r="0.48"/><circle cx="184.25" cy="216.76" r="0.47"/><circle cx="198.07" cy="214.94" r="0.44"/><circle cx="232.33" cy="212.37" r="0.35"/><circle cx="194.11" cy="211.84" r="0.31"/><circle cx="193.51" cy="215.24" r="0.44"/><circle cx="185.8" cy="217.02" r="0.46"/><circle cx="196.04" cy="216.88" r="0.39"/><circle cx="184.82" cy="207.58" r="0.49"/><circle cx="188.36" cy="201.52" r="0.46"/><circle cx="183.84" cy="214.59" r="0.3"/><circle cx="193.8" cy="214.5" r="0.49"/><circle cx="204.19" cy="209.79" r="0.29"/><circle cx="199.8" cy="205.23" r="0.47"/><circle cx="212.03" cy="215.29" r="0.31"/><circle cx="202.64" cy="206.34" r="0.35"/><circle cx="198.82" cy="206.11" r="0.49"/><circle cx="218.86" cy="210.47" r="0.37"/><circle cx="206.78" cy="212.37" r="0.49"/><circle cx="194.41" cy="205.59" r="0.3"/><circle cx="210.13" cy="216.81" r="0.32"/><circle cx="208.8" cy="208.31" r="0.48"/><circle cx="185.9" cy="213.9" r="0.46"/><circle cx="197.69" cy="211.23" r="0.35"/><circle cx="206.54" cy="210.2" r="0.5"/><circle cx="186.89" cy="220.16" r="0.43"/><circle cx="233.84" cy="208.99" r="0.52"/><circle cx="179.6" cy="218.55" r="0.48"/><circle cx="201.95" cy="218.13" r="0.33"/><circle cx="226.16" cy="210.21" r="0.38"/><circle cx="190.58" cy="217.5" r="0.46"/><circle cx="192.16" cy="208.16" r="0.38"/><circle cx="182.4" cy="211.31" r="0.42"/><circle cx="204.47" cy="207.62" r="0.38"/><circle cx="215.82" cy="211.84" r="0.38"/><circle cx="194" cy="206.84" r="0.4"/><circle cx="181.44" cy="203.4" r="0.36"/><circle cx="193.13" cy="217.07" r="0.39"/><circle cx="212.4" cy="211.62" r="0.29"/><circle cx="182.24" cy="214.59" r="0.45"/><circle cx="182.28" cy="212.07" r="0.44"/><circle cx="225.15" cy="213.66" r="0.35"/><circle cx="206.52" cy="205.02" r="0.32"/><circle cx="189.61" cy="217.84" r="0.39"/><circle cx="223.79" cy="207.55" r="0.47"/><circle cx="216.13" cy="214.29" r="0.37"/><circle cx="212.08" cy="213.95" r="0.3"/><circle cx="199.4" cy="204.97" r="0.48"/><circle cx="178.83" cy="209.68" r="0.49"/><circle cx="197.3" cy="205.01" r="0.45"/><circle cx="197.11" cy="215.81" r="0.36"/><circle cx="226.68" cy="212.51" r="0.48"/><circle cx="212.9" cy="208.44" r="0.46"/><circle cx="198.16" cy="204.48" r="0.47"/><circle cx="213.22" cy="216.52" r="0.4"/><circle cx="180.34" cy="216.87" r="0.33"/><circle cx="194.58" cy="214.54" r="0.46"/><circle cx="218.73" cy="209.65" r="0.46"/><circle cx="212.25" cy="213.05" r="0.45"/><circle cx="190.66" cy="206.74" r="0.36"/><circle cx="184.14" cy="207.57" r="0.46"/><circle cx="184.17" cy="205.44" r="0.4"/><circle cx="213.91" cy="205.51" r="0.51"/><circle cx="199.13" cy="206.96" r="0.33"/><circle cx="179.53" cy="218.29" r="0.35"/><circle cx="178.87" cy="219.69" r="0.35"/><circle cx="191.57" cy="202.47" r="0.37"/><circle cx="185.65" cy="203.85" r="0.34"/><circle cx="215.01" cy="209.72" r="0.35"/><circle cx="224.34" cy="207.46" r="0.5"/><circle cx="228.64" cy="212.26" r="0.39"/><circle cx="234.67" cy="213.28" r="0.3"/><circle cx="180.15" cy="215.31" r="0.34"/><circle cx="200.43" cy="210.86" r="0.44"/><circle cx="190.31" cy="213.68" r="0.38"/><circle cx="187.53" cy="211.52" r="0.32"/><circle cx="186.1" cy="204.68" r="0.46"/><circle cx="199.63" cy="208.66" r="0.51"/><circle cx="185.51" cy="218.57" r="0.47"/><circle cx="225.96" cy="213.12" r="0.3"/><circle cx="198.31" cy="214.96" r="0.38"/><circle cx="229.4" cy="210.27" r="0.47"/><circle cx="197.27" cy="211.89" r="0.29"/><circle cx="183.28" cy="215.39" r="0.45"/><circle cx="237.13" cy="209.55" r="0.42"/><circle cx="179.87" cy="220.21" r="0.34"/><circle cx="180.63" cy="202.91" r="0.52"/><circle cx="187.38" cy="219.65" r="0.44"/><circle cx="178.21" cy="209.12" r="0.29"/><circle cx="222.51" cy="210.75" r="0.4"/><circle cx="187.29" cy="211.17" r="0.47"/><circle cx="186.41" cy="219.17" r="0.38"/><circle cx="195.03" cy="205.16" r="0.39"/><circle cx="219.44" cy="212.44" r="0.49"/><circle cx="210.73" cy="211.18" r="0.52"/><circle cx="199.02" cy="206.79" r="0.31"/><circle cx="236.93" cy="210.56" r="0.49"/><circle cx="213.51" cy="213" r="0.47"/><circle cx="188.74" cy="207.47" r="0.48"/><circle cx="185.57" cy="204.52" r="0.31"/><circle cx="211.02" cy="212.27" r="0.5"/><circle cx="219.49" cy="214.33" r="0.42"/><circle cx="209.61" cy="216.55" r="0.42"/><circle cx="186.25" cy="209.27" r="0.38"/><circle cx="205.67" cy="212.24" r="0.37"/><circle cx="203.03" cy="209.29" r="0.37"/><circle cx="179.08" cy="215.77" r="0.37"/><circle cx="206.73" cy="212.92" r="0.37"/><circle cx="196.3" cy="210.13" r="0.36"/><circle cx="181.73" cy="219.54" r="0.48"/><circle cx="193.43" cy="205.51" r="0.45"/><circle cx="228.99" cy="210.23" r="0.37"/><circle cx="192.95" cy="217.46" r="0.49"/><circle cx="223.77" cy="210" r="0.31"/><circle cx="181.87" cy="216" r="0.3"/><circle cx="184.38" cy="212.85" r="0.38"/><circle cx="192.65" cy="207.44" r="0.42"/><circle cx="198.78" cy="209.57" r="0.48"/><circle cx="189.63" cy="215.74" r="0.36"/><circle cx="198.96" cy="213.23" r="0.31"/><circle cx="204.27" cy="213.61" r="0.43"/><circle cx="185.95" cy="212.23" r="0.32"/><circle cx="197.59" cy="213.5" r="0.5"/><circle cx="210.98" cy="205.5" r="0.42"/><circle cx="195.64" cy="217.11" r="0.32"/><circle cx="194.77" cy="209.55" r="0.5"/><circle cx="188.59" cy="204.13" r="0.31"/><circle cx="191.68" cy="207.21" r="0.37"/><circle cx="226.62" cy="208.78" r="0.39"/><circle cx="203.37" cy="216.93" r="0.5"/><circle cx="211.62" cy="214.9" r="0.37"/><circle cx="195.38" cy="202.87" r="0.49"/><circle cx="201.01" cy="215.27" r="0.39"/><circle cx="189.33" cy="207.3" r="0.44"/><circle cx="223.49" cy="209.43" r="0.3"/><circle cx="194.63" cy="204.56" r="0.48"/><circle cx="213.2" cy="207.09" r="0.34"/><circle cx="196.64" cy="206.06" r="0.36"/><circle cx="180.85" cy="203.51" r="0.34"/><circle cx="215.49" cy="209.35" r="0.34"/><circle cx="219.8" cy="207.74" r="0.49"/><circle cx="190.73" cy="217.63" r="0.51"/><circle cx="219.15" cy="214.9" r="0.35"/><circle cx="217.19" cy="207.6" r="0.32"/><circle cx="193.86" cy="203.52" r="0.43"/><circle cx="220.05" cy="211.13" r="0.32"/><circle cx="189.14" cy="205.22" r="0.4"/><circle cx="208.49" cy="212.08" r="0.45"/><circle cx="235.22" cy="210.2" r="0.29"/><circle cx="198.35" cy="203.05" r="0.42"/><circle cx="196.84" cy="218.62" r="0.45"/><circle cx="184.94" cy="215" r="0.47"/><circle cx="220.18" cy="206.92" r="0.31"/><circle cx="188.54" cy="208.75" r="0.31"/><circle cx="202.65" cy="212.03" r="0.41"/><circle cx="203.84" cy="217.5" r="0.3"/><circle cx="226.98" cy="211.69" r="0.47"/><circle cx="204.08" cy="211.74" r="0.3"/><circle cx="198.31" cy="203.1" r="0.46"/><circle cx="222.36" cy="208.07" r="0.36"/><circle cx="187.83" cy="218.2" r="0.39"/><circle cx="198.56" cy="211.19" r="0.46"/><circle cx="222.38" cy="208.78" r="0.49"/><circle cx="226.65" cy="212.12" r="0.37"/><circle cx="183.42" cy="204.19" r="0.51"/><circle cx="180.51" cy="217.72" r="0.41"/><circle cx="213.45" cy="211.77" r="0.38"/><circle cx="186.88" cy="214.7" r="0.43"/><circle cx="178.68" cy="205.11" r="0.47"/><circle cx="187.77" cy="211.59" r="0.46"/><circle cx="188" cy="211.5" r="0.5"/><circle cx="225.84" cy="208.66" r="0.39"/><circle cx="197.47" cy="216" r="0.4"/><circle cx="229.09" cy="207.9" r="0.49"/><circle cx="221.82" cy="209.81" r="0.42"/><circle cx="229.51" cy="211.54" r="0.51"/><circle cx="223.7" cy="210.67" r="0.48"/><circle cx="187.52" cy="207.33" r="0.45"/><circle cx="230.7" cy="208.1" r="0.52"/><circle cx="185.88" cy="201.58" r="0.42"/><circle cx="198.6" cy="205.64" r="0.39"/><circle cx="183" cy="219.9" r="0.48"/><circle cx="213.75" cy="209.68" r="0.35"/><circle cx="216.58" cy="207.53" r="0.51"/><circle cx="185.91" cy="207.5" r="0.31"/><circle cx="192.18" cy="204.78" r="0.29"/><circle cx="211.8" cy="206.51" r="0.44"/><circle cx="213.91" cy="213.04" r="0.35"/><circle cx="223.71" cy="210.26" r="0.39"/><circle cx="207.82" cy="213.46" r="0.32"/><circle cx="195.35" cy="216.13" r="0.52"/><circle cx="200.61" cy="207.58" r="0.42"/><circle cx="185.19" cy="218.46" r="0.36"/><circle cx="197.54" cy="203.77" r="0.51"/><circle cx="182.03" cy="211.84" r="0.46"/><circle cx="184.65" cy="208.11" r="0.52"/><circle cx="213.88" cy="207.83" r="0.42"/><circle cx="194.29" cy="207.98" r="0.42"/><circle cx="193.14" cy="215.48" r="0.44"/><circle cx="184.08" cy="220.14" r="0.3"/><circle cx="222.58" cy="207.56" r="0.31"/><circle cx="229.18" cy="209.99" r="0.47"/><circle cx="212.08" cy="205.95" r="0.4"/><circle cx="204.17" cy="212.2" r="0.48"/><circle cx="190.75" cy="218.8" r="0.29"/><circle cx="212.37" cy="212.55" r="0.32"/><circle cx="237.01" cy="209.57" r="0.32"/><circle cx="204.34" cy="212.91" r="0.38"/><circle cx="194.35" cy="217.67" r="0.49"/><circle cx="178.33" cy="216.49" r="0.42"/><circle cx="205.62" cy="205.12" r="0.42"/><circle cx="182.8" cy="215.18" r="0.31"/><circle cx="192.27" cy="209.56" r="0.52"/><circle cx="198.76" cy="206.85" r="0.39"/><circle cx="188.39" cy="208.75" r="0.45"/><circle cx="198.74" cy="217.42" r="0.32"/><circle cx="184.5" cy="213.7" r="0.39"/><circle cx="225.76" cy="214.64" r="0.37"/><circle cx="186.21" cy="213.36" r="0.46"/><circle cx="208.25" cy="210.3" r="0.44"/><circle cx="217" cy="209.21" r="0.32"/><circle cx="207.67" cy="212" r="0.5"/><circle cx="241.67" cy="212.15" r="0.36"/><circle cx="192.26" cy="213.77" r="0.46"/><circle cx="193.86" cy="215.09" r="0.52"/><circle cx="205.94" cy="214.25" r="0.49"/><circle cx="191.01" cy="207.5" r="0.52"/><circle cx="182.18" cy="206.64" r="0.39"/><circle cx="225.67" cy="213.77" r="0.5"/><circle cx="182.56" cy="200.71" r="0.38"/><circle cx="179.73" cy="211.47" r="0.43"/><circle cx="190.95" cy="218.74" r="0.38"/><circle cx="217.68" cy="211.82" r="0.34"/><circle cx="193.97" cy="206.96" r="0.49"/><circle cx="197.14" cy="213.31" r="0.47"/><circle cx="184.98" cy="217.04" r="0.37"/><circle cx="211.54" cy="209.17" r="0.39"/><circle cx="180.26" cy="218.18" r="0.44"/><circle cx="218.36" cy="206.78" r="0.34"/><circle cx="236.93" cy="211.61" r="0.28"/><circle cx="199.79" cy="207.58" r="0.3"/><circle cx="183.94" cy="218.43" r="0.48"/><circle cx="211.03" cy="205.06" r="0.49"/><circle cx="185.7" cy="207.05" r="0.28"/><circle cx="198.77" cy="207.41" r="0.52"/><circle cx="181.86" cy="209.47" r="0.31"/><circle cx="241.84" cy="210.81" r="0.45"/><circle cx="211.29" cy="216.78" r="0.36"/><circle cx="204.46" cy="216.28" r="0.45"/><circle cx="214.69" cy="208.88" r="0.42"/><circle cx="182.92" cy="202.04" r="0.35"/><circle cx="214.14" cy="208.58" r="0.34"/><circle cx="187.51" cy="218.93" r="0.43"/><circle cx="194.91" cy="211.11" r="0.29"/><circle cx="197.34" cy="211.78" r="0.4"/><circle cx="236.21" cy="212.6" r="0.43"/><circle cx="186.11" cy="202.36" r="0.33"/><circle cx="179.28" cy="210.77" r="0.28"/><circle cx="194.57" cy="208.31" r="0.33"/><circle cx="178.16" cy="205.62" r="0.34"/><circle cx="198.75" cy="209.02" r="0.37"/><circle cx="207.26" cy="204.42" r="0.48"/><circle cx="210.07" cy="212.25" r="0.31"/><circle cx="198.44" cy="213.5" r="0.44"/><circle cx="218.22" cy="213.55" r="0.37"/><circle cx="200.16" cy="204.31" r="0.49"/><circle cx="194.64" cy="212.53" r="0.44"/><circle cx="192.95" cy="208.3" r="0.3"/><circle cx="186.7" cy="206.01" r="0.43"/><circle cx="218.78" cy="211.44" r="0.48"/><circle cx="193.47" cy="203.13" r="0.3"/><circle cx="192.02" cy="212.91" r="0.41"/><circle cx="179.7" cy="201.97" r="0.42"/><circle cx="215.71" cy="211.55" r="0.36"/><circle cx="205.08" cy="211.79" r="0.48"/><circle cx="212.47" cy="215.67" r="0.43"/><circle cx="214.38" cy="209.57" r="0.34"/><circle cx="223.42" cy="210.67" r="0.38"/><circle cx="220.83" cy="210.8" r="0.51"/><circle cx="206.61" cy="207.76" r="0.29"/><circle cx="208.09" cy="211.61" r="0.35"/><circle cx="184.73" cy="210.55" r="0.3"/><circle cx="188.99" cy="209.67" r="0.36"/><circle cx="210.01" cy="211.56" r="0.37"/><circle cx="196" cy="207.64" r="0.36"/><circle cx="225.52" cy="210.75" r="0.47"/><circle cx="178.33" cy="202.82" r="0.33"/><circle cx="201.61" cy="208.69" r="0.37"/><circle cx="239.8" cy="209.56" r="0.42"/><circle cx="239.29" cy="211.66" r="0.42"/><circle cx="182.27" cy="216.29" r="0.37"/><circle cx="219.15" cy="206.14" r="0.5"/><circle cx="201.6" cy="205.96" r="0.49"/><circle cx="192.25" cy="205.86" r="0.4"/><circle cx="191.46" cy="217.41" r="0.3"/><circle cx="204.52" cy="217.13" r="0.45"/><circle cx="230.11" cy="210.28" r="0.49"/><circle cx="208.59" cy="205.57" r="0.32"/><circle cx="188.5" cy="219.14" r="0.42"/><circle cx="208.74" cy="210.21" r="0.31"/><circle cx="224.31" cy="211.1" r="0.43"/><circle cx="193.37" cy="202.91" r="0.4"/><circle cx="215.28" cy="210.02" r="0.39"/><circle cx="187.02" cy="215.7" r="0.41"/><circle cx="197.77" cy="218.24" r="0.51"/><circle cx="182.41" cy="208.45" r="0.39"/><circle cx="194.42" cy="216.26" r="0.5"/><circle cx="186.87" cy="211.04" r="0.51"/><circle cx="234.88" cy="209.82" r="0.31"/><circle cx="207.2" cy="211.29" r="0.47"/><circle cx="189.91" cy="206.05" r="0.52"/><circle cx="178.75" cy="213.34" r="0.3"/><circle cx="226.03" cy="209.22" r="0.5"/><circle cx="192.29" cy="219.2" r="0.33"/><circle cx="181.05" cy="201.8" r="0.3"/><circle cx="200.71" cy="215.67" r="0.29"/><circle cx="211.01" cy="211.77" r="0.3"/><circle cx="215.11" cy="209.71" r="0.36"/><circle cx="185.7" cy="202.23" r="0.29"/><circle cx="194.86" cy="213.9" r="0.51"/><circle cx="185.96" cy="217.32" r="0.46"/><circle cx="191.82" cy="202.75" r="0.43"/><circle cx="194.91" cy="218.97" r="0.31"/><circle cx="213.98" cy="213.29" r="0.28"/><circle cx="216.82" cy="213.4" r="0.47"/><circle cx="192.25" cy="214.27" r="0.3"/><circle cx="184.84" cy="205.42" r="0.47"/><circle cx="212.98" cy="207.75" r="0.51"/><circle cx="201.58" cy="209.46" r="0.42"/><circle cx="189.59" cy="212.7" r="0.36"/><circle cx="208.29" cy="215.59" r="0.28"/><circle cx="210.49" cy="206.81" r="0.42"/><circle cx="230.52" cy="210.18" r="0.43"/><circle cx="196.48" cy="205.53" r="0.4"/><circle cx="226.97" cy="210.89" r="0.37"/><circle cx="194.23" cy="218.31" r="0.5"/><circle cx="182.56" cy="213.8" r="0.29"/><circle cx="199.56" cy="209.61" r="0.44"/><circle cx="188.25" cy="207.93" r="0.47"/><circle cx="221.57" cy="212.78" r="0.3"/><circle cx="191.89" cy="205.54" r="0.29"/><circle cx="218.96" cy="212.5" r="0.5"/><circle cx="208.01" cy="211.29" r="0.35"/><circle cx="200.64" cy="204.25" r="0.43"/><circle cx="210.59" cy="210.37" r="0.5"/><circle cx="179.96" cy="215.32" r="0.42"/><circle cx="219.76" cy="210.91" r="0.29"/><circle cx="185.96" cy="219.8" r="0.41"/><circle cx="188.53" cy="215.45" r="0.5"/><circle cx="184.73" cy="212.57" r="0.32"/><circle cx="199.24" cy="203.18" r="0.39"/><circle cx="180.96" cy="214.35" r="0.44"/><circle cx="182.83" cy="219.02" r="0.41"/><circle cx="237.92" cy="210.72" r="0.3"/><circle cx="240.98" cy="211.76" r="0.5"/><circle cx="209.52" cy="207.08" r="0.44"/><circle cx="223.43" cy="210.02" r="0.35"/><circle cx="204.9" cy="215.62" r="0.33"/><circle cx="188.1" cy="210.55" r="0.44"/><circle cx="182.27" cy="205.87" r="0.51"/><circle cx="195.1" cy="216.88" r="0.35"/><circle cx="183.49" cy="210.6" r="0.49"/><circle cx="223.02" cy="213.56" r="0.4"/><circle cx="220.54" cy="211.38" r="0.32"/><circle cx="197.83" cy="218.63" r="0.42"/><circle cx="210.71" cy="215.52" r="0.4"/><circle cx="202.58" cy="212.05" r="0.29"/><circle cx="229.5" cy="214.22" r="0.43"/><circle cx="231.39" cy="211.84" r="0.46"/><circle cx="204.28" cy="207.86" r="0.3"/><circle cx="209.35" cy="211.9" r="0.49"/><circle cx="182.47" cy="207.77" r="0.44"/><circle cx="212.22" cy="210.84" r="0.34"/><circle cx="192.27" cy="214.65" r="0.36"/><circle cx="226.8" cy="207.9" r="0.35"/><circle cx="182.41" cy="220.82" r="0.44"/><circle cx="202.89" cy="209.26" r="0.43"/><circle cx="178.56" cy="217.03" r="0.44"/><circle cx="182.85" cy="219.67" r="0.37"/><circle cx="190.48" cy="213.87" r="0.29"/><circle cx="213.91" cy="216.15" r="0.32"/><circle cx="229.61" cy="213.74" r="0.44"/><circle cx="189.42" cy="207.34" r="0.36"/><circle cx="181.78" cy="201.26" r="0.36"/><circle cx="182.94" cy="220.8" r="0.37"/><circle cx="212.11" cy="213.77" r="0.39"/><circle cx="195.75" cy="211.46" r="0.39"/><circle cx="187.03" cy="203.12" r="0.4"/><circle cx="229.12" cy="209.41" r="0.29"/><circle cx="194.66" cy="209.17" r="0.46"/><circle cx="205.85" cy="209.1" r="0.38"/><circle cx="211.33" cy="206.08" r="0.51"/><circle cx="190.19" cy="202.82" r="0.41"/><circle cx="200.48" cy="215.77" r="0.29"/><circle cx="221.3" cy="207.92" r="0.5"/><circle cx="197.21" cy="209.42" r="0.36"/><circle cx="212.14" cy="206.08" r="0.44"/><circle cx="204.34" cy="215.48" r="0.35"/><circle cx="207.22" cy="212.16" r="0.45"/><circle cx="219.76" cy="209.34" r="0.3"/><circle cx="185.18" cy="203.13" r="0.32"/><circle cx="189.74" cy="214.46" r="0.36"/><circle cx="193.73" cy="203.92" r="0.31"/><circle cx="221.66" cy="212.63" r="0.34"/><circle cx="205.43" cy="213.27" r="0.44"/><circle cx="201.9" cy="213.96" r="0.3"/><circle cx="201.88" cy="208.08" r="0.4"/><circle cx="194.15" cy="204.52" r="0.31"/><circle cx="221.97" cy="211.11" r="0.51"/><circle cx="179.57" cy="202.75" r="0.51"/><circle cx="233.92" cy="213.45" r="0.43"/><circle cx="205.92" cy="209.25" r="0.31"/><circle cx="213.08" cy="205.94" r="0.31"/><circle cx="233.7" cy="212.54" r="0.49"/><circle cx="196.81" cy="212.59" r="0.35"/><circle cx="219.45" cy="212.11" r="0.36"/><circle cx="183.12" cy="210.61" r="0.41"/><circle cx="189.87" cy="206.62" r="0.47"/><circle cx="192.86" cy="213.85" r="0.29"/><circle cx="183.26" cy="215.48" r="0.4"/><circle cx="185.21" cy="210.31" r="0.51"/><circle cx="203.03" cy="212.16" r="0.38"/><circle cx="234.51" cy="212.65" r="0.36"/><circle cx="196.2" cy="204.01" r="0.5"/><circle cx="231.82" cy="208.23" r="0.42"/><circle cx="180.13" cy="216.08" r="0.32"/><circle cx="179.4" cy="203.51" r="0.44"/><circle cx="220.25" cy="211.39" r="0.28"/><circle cx="239.31" cy="210.65" r="0.49"/><circle cx="180.69" cy="218.27" r="0.39"/><circle cx="191.87" cy="208.83" r="0.3"/><circle cx="222.15" cy="213.49" r="0.45"/><circle cx="221.71" cy="208.64" r="0.49"/><circle cx="216.4" cy="205.65" r="0.5"/><circle cx="199.64" cy="217.98" r="0.44"/><circle cx="207.09" cy="208.59" r="0.47"/><circle cx="219.89" cy="211.77" r="0.49"/><circle cx="186.58" cy="216.48" r="0.44"/><circle cx="204.26" cy="213.02" r="0.41"/><circle cx="238.71" cy="211.07" r="0.41"/><circle cx="207.57" cy="208.96" r="0.45"/><circle cx="185.14" cy="215.13" r="0.5"/><circle cx="226.71" cy="211.85" r="0.36"/><circle cx="184.25" cy="201.93" r="0.41"/><circle cx="189.73" cy="216.38" r="0.47"/><circle cx="189.95" cy="207.28" r="0.4"/><circle cx="224.51" cy="209.77" r="0.35"/><circle cx="233.49" cy="208.52" r="0.38"/><circle cx="192.31" cy="210.53" r="0.45"/><circle cx="201.15" cy="214.47" r="0.4"/><circle cx="196.44" cy="211.91" r="0.51"/><circle cx="191.15" cy="203.27" r="0.48"/><circle cx="195.38" cy="211.14" r="0.32"/><circle cx="206.45" cy="205.03" r="0.42"/><circle cx="185.22" cy="211.34" r="0.44"/><circle cx="183.68" cy="211.97" r="0.35"/><circle cx="225.66" cy="213.45" r="0.5"/><circle cx="189.87" cy="215.38" r="0.47"/><circle cx="182" cy="209.07" r="0.35"/><circle cx="213.82" cy="216.27" r="0.46"/><circle cx="195.77" cy="213.51" r="0.37"/><circle cx="208.35" cy="211.57" r="0.44"/><circle cx="188.78" cy="218.34" r="0.32"/><circle cx="198.04" cy="218.58" r="0.52"/><circle cx="185.93" cy="207.77" r="0.3"/><circle cx="208.15" cy="207.51" r="0.46"/><circle cx="214.16" cy="211.49" r="0.32"/><circle cx="198.54" cy="204.74" r="0.33"/><circle cx="217.3" cy="207.04" r="0.46"/><circle cx="183.6" cy="218.54" r="0.4"/><circle cx="222.55" cy="208.83" r="0.45"/><circle cx="197.24" cy="216.44" r="0.28"/><circle cx="218.44" cy="211.9" r="0.45"/><circle cx="199.05" cy="210.39" r="0.39"/><circle cx="210.65" cy="205.61" r="0.42"/><circle cx="194.6" cy="204.44" r="0.34"/><circle cx="195.21" cy="212.09" r="0.28"/><circle cx="185.2" cy="211.32" r="0.4"/><circle cx="220.93" cy="206.27" r="0.5"/><circle cx="197.48" cy="215.55" r="0.49"/><circle cx="239.36" cy="212.51" r="0.46"/><circle cx="220.91" cy="208.71" r="0.4"/><circle cx="194.71" cy="218.48" r="0.48"/><circle cx="222.63" cy="215.05" r="0.4"/><circle cx="214.68" cy="214.56" r="0.28"/><circle cx="191.16" cy="210.18" r="0.3"/><circle cx="194.32" cy="218.03" r="0.29"/><circle cx="212.85" cy="214.88" r="0.31"/><circle cx="178.3" cy="205.72" r="0.31"/><circle cx="190.27" cy="215.54" r="0.36"/><circle cx="215.18" cy="215.09" r="0.36"/><circle cx="186.17" cy="207.05" r="0.46"/><circle cx="193.41" cy="210.35" r="0.28"/><circle cx="180.87" cy="209.8" r="0.31"/><circle cx="198.19" cy="211.82" r="0.52"/><circle cx="217.5" cy="208.42" r="0.51"/><circle cx="197.84" cy="209.17" r="0.36"/><circle cx="184.87" cy="213.06" r="0.47"/><circle cx="182" cy="210.42" r="0.34"/><circle cx="216.91" cy="208.63" r="0.39"/><circle cx="212.43" cy="212.84" r="0.49"/><circle cx="196.06" cy="205.95" r="0.32"/><circle cx="185.2" cy="218.59" r="0.5"/><circle cx="186.06" cy="207.83" r="0.5"/><circle cx="182.26" cy="205.39" r="0.4"/><circle cx="178.98" cy="205.48" r="0.39"/><circle cx="185.88" cy="207.17" r="0.3"/><circle cx="185.82" cy="202.17" r="0.47"/><circle cx="219.66" cy="206.5" r="0.48"/><circle cx="183.21" cy="200.92" r="0.51"/><circle cx="184.04" cy="214.12" r="0.32"/><circle cx="220.63" cy="214.69" r="0.34"/><circle cx="208.5" cy="204.56" r="0.49"/><circle cx="218.36" cy="215.1" r="0.43"/><circle cx="181.9" cy="219.39" r="0.47"/><circle cx="210.96" cy="212.89" r="0.4"/><circle cx="226.35" cy="211.63" r="0.35"/><circle cx="178.32" cy="211.36" r="0.49"/><circle cx="210.53" cy="212.73" r="0.42"/><circle cx="207.44" cy="211.11" r="0.45"/><circle cx="234.39" cy="211.24" r="0.47"/><circle cx="194.58" cy="206.8" r="0.36"/><circle cx="209.43" cy="206.38" r="0.52"/><circle cx="224.98" cy="208.07" r="0.45"/><circle cx="187.24" cy="217.64" r="0.38"/><circle cx="200.42" cy="210.1" r="0.45"/><circle cx="190.84" cy="207.39" r="0.32"/><circle cx="219.79" cy="208.94" r="0.34"/><circle cx="221.9" cy="207.12" r="0.29"/><circle cx="194.89" cy="215.22" r="0.32"/><circle cx="196.13" cy="209.21" r="0.52"/><circle cx="187.27" cy="212.92" r="0.3"/><circle cx="189.5" cy="205.21" r="0.29"/><circle cx="190.05" cy="203.73" r="0.5"/><circle cx="186.99" cy="208.29" r="0.47"/><circle cx="184.31" cy="217.25" r="0.41"/><circle cx="180.7" cy="202.08" r="0.45"/><circle cx="210.45" cy="216.7" r="0.33"/><circle cx="195.87" cy="204.55" r="0.48"/><circle cx="207.85" cy="205.56" r="0.46"/><circle cx="224" cy="214.94" r="0.33"/><circle cx="180.74" cy="213.98" r="0.45"/><circle cx="178.59" cy="218.35" r="0.5"/><circle cx="201.12" cy="211.32" r="0.44"/><circle cx="211" cy="216.81" r="0.4"/><circle cx="180.1" cy="211.94" r="0.38"/><circle cx="199.45" cy="208.57" r="0.33"/><circle cx="197.96" cy="216.34" r="0.49"/><circle cx="186.03" cy="211.25" r="0.46"/><circle cx="227.99" cy="208.42" r="0.32"/><circle cx="219.8" cy="207.51" r="0.31"/><circle cx="214.51" cy="208.8" r="0.49"/><circle cx="214.46" cy="216.46" r="0.31"/><circle cx="183.83" cy="215.42" r="0.45"/><circle cx="209.16" cy="216.8" r="0.43"/><circle cx="218.01" cy="211.65" r="0.3"/><circle cx="204.81" cy="214.6" r="0.49"/><circle cx="182.94" cy="211.11" r="0.47"/><circle cx="185.48" cy="219.54" r="0.51"/><circle cx="199.92" cy="204.49" r="0.31"/><circle cx="192.05" cy="209.11" r="0.45"/><circle cx="237.96" cy="212.19" r="0.51"/><circle cx="205.32" cy="214.37" r="0.28"/><circle cx="186.46" cy="217.69" r="0.31"/><circle cx="197.18" cy="211.47" r="0.41"/><circle cx="179.95" cy="202.33" r="0.44"/><circle cx="208.63" cy="208.09" r="0.52"/><circle cx="181.07" cy="203.86" r="0.3"/><circle cx="212.53" cy="207.77" r="0.51"/><circle cx="223.25" cy="213.19" r="0.34"/><circle cx="205.95" cy="211.49" r="0.37"/><circle cx="203.55" cy="211.03" r="0.46"/><circle cx="202.4" cy="215.56" r="0.33"/><circle cx="190.32" cy="203.75" r="0.36"/><circle cx="238.22" cy="209.75" r="0.49"/><circle cx="180.23" cy="217.08" r="0.44"/><circle cx="183.33" cy="211.41" r="0.43"/><circle cx="194.2" cy="217.93" r="0.51"/><circle cx="221.06" cy="209.59" r="0.38"/><circle cx="182.78" cy="206.05" r="0.32"/><circle cx="234.03" cy="212.29" r="0.5"/><circle cx="206.7" cy="205.26" r="0.42"/><circle cx="197.95" cy="218.13" r="0.29"/><circle cx="218.75" cy="207.36" r="0.38"/><circle cx="211.67" cy="212.3" r="0.33"/><circle cx="228.51" cy="210.58" r="0.46"/><circle cx="222.48" cy="211.97" r="0.31"/><circle cx="191.92" cy="213.91" r="0.5"/><circle cx="178.87" cy="215.63" r="0.42"/><circle cx="209.16" cy="209.17" r="0.28"/><circle cx="200.51" cy="211.41" r="0.36"/><circle cx="228.85" cy="210.72" r="0.4"/><circle cx="209.45" cy="209.87" r="0.51"/><circle cx="237.57" cy="208.83" r="0.4"/><circle cx="184.72" cy="216.47" r="0.4"/><circle cx="188.74" cy="219.19" r="0.29"/><circle cx="190.32" cy="210.4" r="0.52"/><circle cx="186.87" cy="205.76" r="0.47"/><circle cx="179.21" cy="205.13" r="0.35"/><circle cx="181.24" cy="210.53" r="0.33"/><circle cx="185.8" cy="205.25" r="0.46"/><circle cx="194.28" cy="204.11" r="0.43"/><circle cx="216.08" cy="211.3" r="0.47"/><circle cx="211.9" cy="206.82" r="0.44"/><circle cx="225.82" cy="209.39" r="0.48"/><circle cx="215.1" cy="213" r="0.51"/><circle cx="184.62" cy="220.17" r="0.3"/><circle cx="183.04" cy="216.25" r="0.39"/><circle cx="185.98" cy="212.2" r="0.34"/><circle cx="194.79" cy="219.18" r="0.43"/><circle cx="205.95" cy="209.83" r="0.38"/><circle cx="200.88" cy="217.03" r="0.49"/><circle cx="197.07" cy="215.55" r="0.33"/><circle cx="178.5" cy="214.97" r="0.47"/><circle cx="224.02" cy="206.96" r="0.46"/><circle cx="236.36" cy="209.46" r="0.35"/><circle cx="202.17" cy="211.53" r="0.41"/><circle cx="218.38" cy="215.69" r="0.45"/><circle cx="179.11" cy="202.74" r="0.28"/><circle cx="213.49" cy="211.41" r="0.33"/><circle cx="219.97" cy="211.08" r="0.41"/><circle cx="203.01" cy="211.42" r="0.47"/><circle cx="181.71" cy="211.76" r="0.42"/><circle cx="223.95" cy="207.43" r="0.43"/><circle cx="225.11" cy="208.3" r="0.44"/><circle cx="211.67" cy="210.55" r="0.48"/><circle cx="195.28" cy="206.19" r="0.37"/><circle cx="240.62" cy="210.97" r="0.46"/><circle cx="202.68" cy="212.47" r="0.3"/><circle cx="193.78" cy="207.32" r="0.44"/><circle cx="189.14" cy="210.57" r="0.34"/><circle cx="214.14" cy="215.04" r="0.4"/><circle cx="226.01" cy="213.6" r="0.3"/><circle cx="220.03" cy="210.54" r="0.46"/><circle cx="230.79" cy="209.71" r="0.39"/><circle cx="209.85" cy="208.09" r="0.34"/><circle cx="222.3" cy="213.7" r="0.29"/><circle cx="196.1" cy="206.36" r="0.42"/><circle cx="192.4" cy="203.66" r="0.39"/><circle cx="196.17" cy="214.74" r="0.49"/><circle cx="185.18" cy="206.72" r="0.31"/><circle cx="205.64" cy="207.9" r="0.45"/><circle cx="204.91" cy="214.05" r="0.31"/><circle cx="188.63" cy="219.74" r="0.45"/><circle cx="217.71" cy="207.95" r="0.36"/><circle cx="201.36" cy="204.76" r="0.52"/><circle cx="205.37" cy="209.63" r="0.35"/><circle cx="203.63" cy="209.19" r="0.47"/><circle cx="212.02" cy="208.43" r="0.28"/><circle cx="211.72" cy="207.72" r="0.28"/><circle cx="201.03" cy="217.14" r="0.44"/><circle cx="221.06" cy="210.64" r="0.3"/><circle cx="208.58" cy="212.26" r="0.47"/><circle cx="209.64" cy="210.36" r="0.4"/><circle cx="199.43" cy="216.98" r="0.37"/><circle cx="221.12" cy="208.2" r="0.5"/><circle cx="202.4" cy="207.63" r="0.38"/><circle cx="182.11" cy="219.51" r="0.42"/><circle cx="209.96" cy="211.22" r="0.37"/><circle cx="209.33" cy="209.97" r="0.52"/><circle cx="227.36" cy="208.28" r="0.42"/><circle cx="214.04" cy="216.17" r="0.35"/><circle cx="221.39" cy="208.03" r="0.47"/><circle cx="209.59" cy="214.05" r="0.52"/><circle cx="235.32" cy="211.45" r="0.44"/><circle cx="202.99" cy="215.89" r="0.48"/><circle cx="201.22" cy="209.14" r="0.37"/><circle cx="199.89" cy="208.96" r="0.48"/><circle cx="228.6" cy="212.21" r="0.43"/><circle cx="197.17" cy="216.72" r="0.49"/><circle cx="202.44" cy="210.88" r="0.33"/><circle cx="194.04" cy="218.65" r="0.43"/><circle cx="206.62" cy="213.99" r="0.32"/><circle cx="178.24" cy="207.76" r="0.42"/><circle cx="189.82" cy="211.82" r="0.36"/><circle cx="194.8" cy="216.18" r="0.37"/><circle cx="231.94" cy="212.03" r="0.42"/><circle cx="221.87" cy="211.97" r="0.5"/><circle cx="217.44" cy="208.86" r="0.5"/><circle cx="235.31" cy="213.02" r="0.28"/><circle cx="217.9" cy="208.97" r="0.42"/><circle cx="184.82" cy="205.79" r="0.41"/><circle cx="196.5" cy="208.11" r="0.43"/><circle cx="200.64" cy="214.64" r="0.32"/><circle cx="180.8" cy="212.65" r="0.45"/><circle cx="188.27" cy="208.91" r="0.29"/><circle cx="183.61" cy="207.64" r="0.49"/><circle cx="218.8" cy="212.75" r="0.4"/><circle cx="219.98" cy="210.83" r="0.38"/><circle cx="203.97" cy="214.84" r="0.51"/><circle cx="200.05" cy="209.43" r="0.38"/><circle cx="191.44" cy="207.71" r="0.47"/><circle cx="190.02" cy="210.41" r="0.35"/><circle cx="185.4" cy="210.6" r="0.33"/><circle cx="219.37" cy="214.81" r="0.33"/><circle cx="192.76" cy="206.57" r="0.36"/><circle cx="228.65" cy="208.57" r="0.39"/><circle cx="190.88" cy="210.03" r="0.51"/><circle cx="183.84" cy="208.58" r="0.33"/><circle cx="222.2" cy="211.21" r="0.47"/><circle cx="194.82" cy="205.42" r="0.42"/><circle cx="181.15" cy="220.51" r="0.45"/><circle cx="209.58" cy="207.85" r="0.3"/><circle cx="185.52" cy="202.08" r="0.44"/><circle cx="208.07" cy="217.32" r="0.38"/><circle cx="198.57" cy="211.7" r="0.42"/><circle cx="194.18" cy="211.01" r="0.41"/><circle cx="229.98" cy="209.76" r="0.32"/><circle cx="232.72" cy="212.14" r="0.46"/><circle cx="225.35" cy="213.6" r="0.5"/><circle cx="181.58" cy="207.23" r="0.32"/><circle cx="179.81" cy="202.9" r="0.32"/><circle cx="212.58" cy="209.92" r="0.39"/><circle cx="178.78" cy="211.52" r="0.34"/><circle cx="183.85" cy="201.15" r="0.32"/><circle cx="187.43" cy="215.75" r="0.5"/><circle cx="205.93" cy="211.16" r="0.48"/><circle cx="202.31" cy="205.52" r="0.29"/><circle cx="191.07" cy="202.99" r="0.5"/><circle cx="197.78" cy="207.65" r="0.51"/><circle cx="222.22" cy="209.45" r="0.31"/><circle cx="201.38" cy="206.3" r="0.51"/><circle cx="228.44" cy="213" r="0.35"/><circle cx="231.39" cy="209.34" r="0.52"/><circle cx="190.39" cy="201.99" r="0.3"/><circle cx="232.26" cy="209.04" r="0.52"/><circle cx="224.98" cy="209.32" r="0.32"/><circle cx="205.3" cy="213.26" r="0.49"/><circle cx="179.5" cy="214.52" r="0.44"/><circle cx="229.98" cy="213.66" r="0.48"/><circle cx="188.78" cy="214.01" r="0.35"/><circle cx="209.1" cy="210.98" r="0.51"/><circle cx="224.29" cy="212.42" r="0.51"/><circle cx="192.12" cy="214.22" r="0.31"/><circle cx="219.16" cy="207.53" r="0.37"/><circle cx="225.85" cy="209.73" r="0.41"/><circle cx="185.5" cy="214.4" r="0.33"/><circle cx="188.58" cy="219.88" r="0.52"/><circle cx="229.28" cy="210.31" r="0.48"/><circle cx="183.35" cy="208.09" r="0.45"/><circle cx="201.42" cy="203.56" r="0.39"/><circle cx="187.02" cy="210.34" r="0.3"/><circle cx="218.4" cy="214.06" r="0.33"/><circle cx="218.14" cy="211.98" r="0.43"/><circle cx="189.85" cy="210.39" r="0.48"/><circle cx="181.4" cy="210.42" r="0.4"/><circle cx="184.81" cy="218.43" r="0.39"/><circle cx="196.67" cy="209.83" r="0.29"/><circle cx="183.2" cy="218.13" r="0.46"/><circle cx="190.61" cy="206.89" r="0.3"/><circle cx="198.34" cy="211.36" r="0.46"/><circle cx="241.89" cy="212.38" r="0.29"/><circle cx="186.6" cy="214.7" r="0.31"/><circle cx="204.03" cy="212.11" r="0.42"/><circle cx="185.58" cy="207.28" r="0.37"/><circle cx="189.17" cy="207.58" r="0.43"/><circle cx="222.23" cy="210.05" r="0.41"/><circle cx="216.29" cy="206.87" r="0.46"/><circle cx="223.73" cy="209.05" r="0.32"/><circle cx="214.07" cy="216.31" r="0.51"/><circle cx="193.65" cy="215.07" r="0.47"/><circle cx="201.72" cy="209.98" r="0.42"/><circle cx="229.53" cy="209.06" r="0.5"/><circle cx="191.87" cy="211.36" r="0.31"/><circle cx="188.93" cy="206.3" r="0.29"/><circle cx="214.47" cy="213.54" r="0.37"/><circle cx="229.05" cy="211.91" r="0.44"/><circle cx="183.46" cy="207.15" r="0.29"/><circle cx="188.23" cy="218.6" r="0.31"/><circle cx="216.15" cy="208.21" r="0.44"/><circle cx="199.01" cy="211.42" r="0.48"/><circle cx="184.34" cy="219.51" r="0.44"/><circle cx="215.95" cy="208.85" r="0.37"/><circle cx="203.97" cy="215.64" r="0.39"/><circle cx="230.1" cy="208.81" r="0.33"/><circle cx="178.78" cy="209.33" r="0.42"/><circle cx="203.82" cy="209.06" r="0.45"/><circle cx="196.24" cy="207.71" r="0.4"/><circle cx="193.18" cy="209.34" r="0.46"/><circle cx="200.33" cy="212.45" r="0.34"/><circle cx="202.81" cy="212.21" r="0.37"/><circle cx="189.7" cy="219.15" r="0.3"/><circle cx="213.45" cy="211.89" r="0.38"/><circle cx="190.79" cy="219.22" r="0.42"/><circle cx="226.26" cy="208.47" r="0.36"/><circle cx="222.17" cy="212.4" r="0.5"/><circle cx="188.28" cy="207.45" r="0.45"/><circle cx="236.04" cy="210.17" r="0.47"/><circle cx="185.01" cy="213.97" r="0.36"/><circle cx="189.96" cy="205.82" r="0.45"/><circle cx="223.95" cy="210.66" r="0.39"/><circle cx="179.97" cy="204.89" r="0.46"/><circle cx="229.64" cy="211.64" r="0.52"/><circle cx="178.16" cy="208.72" r="0.41"/><circle cx="181.45" cy="219.06" r="0.32"/><circle cx="215.14" cy="205.86" r="0.37"/><circle cx="207.79" cy="206.27" r="0.32"/><circle cx="220.7" cy="213.68" r="0.3"/><circle cx="192.28" cy="206.09" r="0.37"/><circle cx="184.47" cy="212.53" r="0.43"/><circle cx="194.48" cy="207.72" r="0.39"/><circle cx="200.9" cy="217.87" r="0.38"/><circle cx="203.01" cy="213.95" r="0.29"/><circle cx="219.48" cy="214.98" r="0.31"/><circle cx="194.79" cy="211.56" r="0.36"/><circle cx="213.37" cy="208.5" r="0.36"/><circle cx="207.86" cy="207.94" r="0.49"/><circle cx="201.5" cy="214.86" r="0.32"/><circle cx="212.71" cy="205.83" r="0.5"/><circle cx="214.27" cy="207.4" r="0.41"/><circle cx="230.75" cy="212.36" r="0.43"/><circle cx="186.96" cy="218.2" r="0.43"/><circle cx="219.5" cy="206.59" r="0.46"/><circle cx="211.74" cy="206.95" r="0.52"/><circle cx="205.83" cy="210.91" r="0.29"/><circle cx="216.06" cy="210.15" r="0.47"/><circle cx="179.36" cy="208.71" r="0.34"/><circle cx="216.91" cy="207.69" r="0.43"/><circle cx="235.44" cy="208.93" r="0.31"/><circle cx="178.84" cy="218.28" r="0.39"/><circle cx="198.59" cy="210.31" r="0.42"/><circle cx="192.23" cy="214.11" r="0.43"/><circle cx="196.54" cy="204.59" r="0.29"/><circle cx="218.46" cy="213.19" r="0.38"/><circle cx="230.65" cy="211.64" r="0.36"/><circle cx="209.73" cy="210.27" r="0.32"/><circle cx="203.92" cy="216.76" r="0.31"/><circle cx="210.35" cy="214.93" r="0.41"/><circle cx="216.48" cy="211.44" r="0.45"/><circle cx="189.81" cy="215.75" r="0.37"/><circle cx="222.81" cy="215.26" r="0.38"/><circle cx="238.64" cy="209.54" r="0.39"/><circle cx="185.93" cy="212.89" r="0.34"/><circle cx="206.16" cy="204.3" r="0.45"/><circle cx="223.83" cy="211.94" r="0.5"/><circle cx="230.95" cy="211.07" r="0.35"/><circle cx="181.92" cy="215.38" r="0.44"/><circle cx="218.48" cy="211.16" r="0.39"/><circle cx="241.08" cy="209.51" r="0.32"/><circle cx="209.54" cy="210.68" r="0.37"/><circle cx="196.17" cy="218.16" r="0.34"/><circle cx="204.18" cy="210.23" r="0.34"/><circle cx="179.65" cy="209.58" r="0.46"/><circle cx="194.72" cy="208.74" r="0.3"/><circle cx="203.21" cy="216.43" r="0.36"/><circle cx="189.85" cy="211.75" r="0.5"/><circle cx="205.63" cy="204.94" r="0.47"/><circle cx="204.77" cy="209.66" r="0.49"/><circle cx="197" cy="209.77" r="0.52"/><circle cx="197.62" cy="211.77" r="0.44"/><circle cx="199.43" cy="213.74" r="0.38"/><circle cx="231.19" cy="212.15" r="0.45"/><circle cx="214.68" cy="215.24" r="0.37"/><circle cx="187.46" cy="207.9" r="0.36"/><circle cx="178.92" cy="216.82" r="0.41"/><circle cx="208.73" cy="215.4" r="0.3"/><circle cx="186.04" cy="215.67" r="0.29"/><circle cx="233.61" cy="211.08" r="0.51"/><circle cx="232.98" cy="208.88" r="0.36"/><circle cx="205.77" cy="216.83" r="0.39"/><circle cx="225.93" cy="211.2" r="0.46"/><circle cx="209.62" cy="212.68" r="0.38"/><circle cx="214.35" cy="212.19" r="0.3"/><circle cx="193.51" cy="216.94" r="0.34"/><circle cx="180.07" cy="218.38" r="0.41"/><circle cx="193.63" cy="206.66" r="0.41"/><circle cx="182.49" cy="204.99" r="0.43"/><circle cx="203.8" cy="216.68" r="0.45"/><circle cx="201.54" cy="212.87" r="0.31"/><circle cx="217" cy="214.14" r="0.34"/><circle cx="240.2" cy="211.95" r="0.5"/><circle cx="224.87" cy="213.42" r="0.37"/><circle cx="190.23" cy="205.27" r="0.4"/><circle cx="187.24" cy="205.12" r="0.46"/><circle cx="179.19" cy="213.36" r="0.38"/><circle cx="208.62" cy="204.58" r="0.28"/><circle cx="201.69" cy="211.8" r="0.31"/><circle cx="181.36" cy="202.76" r="0.44"/><circle cx="212.92" cy="208.02" r="0.45"/><circle cx="192.08" cy="213.28" r="0.38"/><circle cx="186.92" cy="216.96" r="0.32"/><circle cx="205.96" cy="209.88" r="0.33"/><circle cx="186.92" cy="215.22" r="0.37"/><circle cx="214.02" cy="208" r="0.34"/><circle cx="188.43" cy="216.67" r="0.38"/><circle cx="187.77" cy="219.11" r="0.32"/><circle cx="192.67" cy="203.36" r="0.41"/><circle cx="231.19" cy="209.18" r="0.38"/><circle cx="184.01" cy="205.67" r="0.49"/><circle cx="187" cy="209.2" r="0.48"/><circle cx="197.93" cy="205.28" r="0.28"/><circle cx="212.14" cy="212" r="0.33"/><circle cx="194.58" cy="213.82" r="0.32"/><circle cx="214.53" cy="206.4" r="0.31"/><circle cx="223.4" cy="212.2" r="0.35"/><circle cx="193.82" cy="215.82" r="0.5"/><circle cx="200.51" cy="212.78" r="0.33"/><circle cx="207.77" cy="212.67" r="0.35"/><circle cx="216.72" cy="211.82" r="0.29"/><circle cx="185.6" cy="209.01" r="0.32"/><circle cx="212.96" cy="212.95" r="0.43"/><circle cx="234.66" cy="213.28" r="0.47"/><circle cx="185.39" cy="219.11" r="0.5"/><circle cx="213.2" cy="209.46" r="0.32"/><circle cx="208.76" cy="215.59" r="0.47"/><circle cx="235.2" cy="211.3" r="0.51"/><circle cx="205.28" cy="211.8" r="0.47"/><circle cx="232.51" cy="212.35" r="0.31"/><circle cx="211.34" cy="216.89" r="0.33"/><circle cx="187.5" cy="212.98" r="0.44"/><circle cx="212.39" cy="207.63" r="0.38"/><circle cx="196.26" cy="215.13" r="0.42"/><circle cx="194.36" cy="206.51" r="0.33"/><circle cx="222.86" cy="215.15" r="0.37"/><circle cx="185.53" cy="213" r="0.36"/><circle cx="213.24" cy="214.32" r="0.28"/><circle cx="180.92" cy="217.92" r="0.49"/><circle cx="183.59" cy="204.81" r="0.38"/><circle cx="191.68" cy="208.51" r="0.46"/><circle cx="205.74" cy="209.76" r="0.32"/><circle cx="195.56" cy="219.15" r="0.34"/><circle cx="214.5" cy="206.54" r="0.28"/><circle cx="185.55" cy="218.12" r="0.51"/><circle cx="237.95" cy="209.59" r="0.37"/><circle cx="184.85" cy="203.92" r="0.34"/><circle cx="190.28" cy="212.46" r="0.36"/><circle cx="191.79" cy="219.2" r="0.37"/><circle cx="208.04" cy="213.51" r="0.41"/><circle cx="191.84" cy="218.35" r="0.51"/><circle cx="212.78" cy="209" r="0.47"/><circle cx="188.76" cy="204.88" r="0.39"/><circle cx="184.13" cy="211.31" r="0.42"/><circle cx="240.23" cy="212.33" r="0.36"/><circle cx="221.54" cy="214.75" r="0.37"/><circle cx="223.83" cy="207.64" r="0.34"/><circle cx="184.39" cy="212.07" r="0.32"/><circle cx="196.06" cy="206.45" r="0.37"/><circle cx="211.69" cy="211.98" r="0.38"/><circle cx="211.45" cy="211.17" r="0.36"/><circle cx="189.86" cy="204.59" r="0.3"/><circle cx="204.6" cy="212.51" r="0.31"/><circle cx="226.37" cy="209.84" r="0.43"/><circle cx="205.53" cy="217.38" r="0.44"/><circle cx="185.74" cy="211.97" r="0.34"/><circle cx="225.79" cy="208.05" r="0.33"/><circle cx="185.62" cy="205.43" r="0.5"/><circle cx="181.26" cy="208.93" r="0.38"/><circle cx="183.41" cy="204.64" r="0.28"/><circle cx="195.22" cy="213.55" r="0.49"/><circle cx="184.36" cy="205.8" r="0.49"/><circle cx="215.58" cy="208.69" r="0.3"/><circle cx="181.6" cy="204.68" r="0.43"/><circle cx="181.71" cy="210.96" r="0.48"/><circle cx="178.15" cy="206.22" r="0.38"/><circle cx="217.03" cy="216.09" r="0.44"/><circle cx="205.78" cy="207.34" r="0.43"/><circle cx="211.87" cy="212.78" r="0.44"/><circle cx="208.87" cy="210.73" r="0.44"/><circle cx="197.54" cy="210.78" r="0.51"/><circle cx="230.13" cy="212.09" r="0.35"/><circle cx="189.43" cy="209.05" r="0.38"/><circle cx="205.67" cy="205.53" r="0.4"/><circle cx="220.17" cy="215.52" r="0.33"/><circle cx="208.18" cy="214.75" r="0.38"/><circle cx="215.69" cy="213.21" r="0.29"/><circle cx="181.44" cy="211.06" r="0.5"/><circle cx="223.19" cy="209.71" r="0.34"/><circle cx="186.44" cy="214.12" r="0.46"/><circle cx="195.73" cy="215.46" r="0.47"/><circle cx="191.1" cy="219.48" r="0.45"/><circle cx="183.54" cy="206.2" r="0.37"/><circle cx="237" cy="211.58" r="0.34"/><circle cx="180.02" cy="212.47" r="0.5"/><circle cx="181.65" cy="206.74" r="0.42"/><circle cx="204.63" cy="204.68" r="0.3"/><circle cx="197.13" cy="210.24" r="0.49"/><circle cx="187.22" cy="213.74" r="0.34"/><circle cx="210.48" cy="206.97" r="0.36"/><circle cx="209.32" cy="214.43" r="0.5"/><circle cx="201.01" cy="215.09" r="0.32"/><circle cx="194.38" cy="204.16" r="0.31"/><circle cx="230.51" cy="210.99" r="0.46"/><circle cx="221.97" cy="209.61" r="0.4"/><circle cx="186.17" cy="205.22" r="0.36"/><circle cx="200.85" cy="214.4" r="0.34"/><circle cx="193.21" cy="219.14" r="0.47"/><circle cx="190.49" cy="210.63" r="0.48"/><circle cx="208.88" cy="212.86" r="0.28"/><circle cx="193.59" cy="216.21" r="0.44"/><circle cx="206.62" cy="212.46" r="0.41"/><circle cx="205.83" cy="216.83" r="0.48"/><circle cx="238.29" cy="209.85" r="0.47"/></g>
<line x1="203" y1="197.5" x2="203" y2="232" stroke="#bbb" stroke-width="0.6"/>
<circle cx="203" cy="210.5" r="1.2" fill="#e02020"/>
<line x1="198.1" y1="190.4" x2="198.1" y2="232" stroke="#44c77c" stroke-width="0.9"/>
<text x="169.5" y="196" font-family='"Liberation Serif", serif' font-size="6.4" font-weight="bold" fill="#22c452" text-anchor="start" textLength="26.8" lengthAdjust="spacingAndGlyphs">+ Ch 1 Vel.</text>
<text x="170.7" y="232.8" font-family='"Liberation Serif", serif' font-size="6.4" font-weight="bold" fill="#22c452" text-anchor="start" textLength="26" lengthAdjust="spacingAndGlyphs">- Ch 1 Vel.</text>
<line x1="205" y1="223.3" x2="241.6" y2="223.3" stroke="#333" stroke-width="0.5"/>
<path d="M204.2,223.3 L206.4,222.2 L206.4,224.4Z" fill="#111"/>
<rect x="241" y="222.5" width="1.2" height="1.6" fill="#111"/>
<text x="215.8" y="228.7" font-family='"Liberation Serif", serif' font-size="5.6" font-weight="bold" fill="#000" text-anchor="start" textLength="15" lengthAdjust="spacingAndGlyphs">x mm</text>
<text x="169.4" y="244.9" font-family='"Liberation Serif", serif' font-size="6" font-weight="bold" fill="#000" text-anchor="start" textLength="71" lengthAdjust="spacingAndGlyphs">Here, -/+ indicates direction</text>
<rect x="242.3" y="179.1" width="10" height="20" fill="#fff" stroke="#6b86d6" stroke-width="0.7"/>
<line x1="247.4" y1="179.6" x2="247.4" y2="198.5" stroke="#ddd" stroke-width="0.5"/>
<rect x="242" y="198.8" width="11.2" height="37.4" fill="#c9c9c9" stroke="#666" stroke-width="0.7"/>
<line x1="244.5" y1="199" x2="244.5" y2="236" stroke="#dedede" stroke-width="0.6"/>
<line x1="247.4" y1="199" x2="247.4" y2="236" stroke="#dedede" stroke-width="0.6"/>
<line x1="250.3" y1="199" x2="250.3" y2="236" stroke="#dedede" stroke-width="0.6"/>
<path d="M242.6,199.2 L242.6,202.4 Q247.6,206.2 252.6,202.4 L252.6,199.2Z" fill="#fff" stroke="#6b86d6" stroke-width="0.6"/>
<line x1="247" y1="237" x2="247" y2="252" stroke="#ccc" stroke-width="0.5"/>
<text x="254.8" y="182" font-family='"Liberation Serif", serif' font-size="5.6" font-weight="bold" fill="#000" text-anchor="start" textLength="19.6" lengthAdjust="spacingAndGlyphs">Injector</text>
<text x="255" y="222.3" font-family='"Liberation Serif", serif' font-size="5.6" font-weight="bold" fill="#000" text-anchor="start" textLength="19.8" lengthAdjust="spacingAndGlyphs">Injector</text>
<text x="265.4" y="228" font-family='"Liberation Serif", serif' font-size="5.6" font-weight="bold" fill="#000" text-anchor="middle" textLength="9.5" lengthAdjust="spacingAndGlyphs">Cap</text>
<rect x="292.55" y="0.6" width="144.5" height="23.8" fill="#fff" stroke="#1d3a8a" stroke-width="1.1"/>
<rect x="292.55" y="27.6" width="144.5" height="223.55" fill="#fff" stroke="#1d3a8a" stroke-width="1.1"/>
<text x="302.4" y="11.2" font-family='"Liberation Serif", serif' font-size="8.7" font-weight="bold" fill="#213f8a" text-anchor="start" textLength="57.5" lengthAdjust="spacingAndGlyphs">Influence of P</text>
<text x="360.2" y="13.2" font-family='"Liberation Serif", serif' font-size="5" font-weight="bold" fill="#213f8a" text-anchor="start" textLength="13.6" lengthAdjust="spacingAndGlyphs">amb,</text>
<text x="375.7" y="11.2" font-family='"Liberation Serif", serif' font-size="8.7" font-weight="bold" fill="#213f8a" text-anchor="start" textLength="51.3" lengthAdjust="spacingAndGlyphs">FIP, DT, and</text>
<text x="359" y="20.8" font-family='"Liberation Serif", serif' font-size="8.7" font-weight="bold" fill="#213f8a" text-anchor="start" textLength="11.2" lengthAdjust="spacingAndGlyphs">SR</text>
<line x1="325.38" y1="31.9" x2="325.38" y2="121.3" stroke="#d6d6d6" stroke-width="0.6" stroke-dasharray="1.6,1.2"/>
<line x1="339.35" y1="31.9" x2="339.35" y2="121.3" stroke="#d6d6d6" stroke-width="0.6" stroke-dasharray="1.6,1.2"/>
<line x1="353.32" y1="31.9" x2="353.32" y2="121.3" stroke="#d6d6d6" stroke-width="0.6" stroke-dasharray="1.6,1.2"/>
<line x1="367.3" y1="31.9" x2="367.3" y2="121.3" stroke="#d6d6d6" stroke-width="0.6" stroke-dasharray="1.6,1.2"/>
<line x1="381.27" y1="31.9" x2="381.27" y2="121.3" stroke="#d6d6d6" stroke-width="0.6" stroke-dasharray="1.6,1.2"/>
<line x1="395.25" y1="31.9" x2="395.25" y2="121.3" stroke="#d6d6d6" stroke-width="0.6" stroke-dasharray="1.6,1.2"/>
<line x1="409.22" y1="31.9" x2="409.22" y2="121.3" stroke="#d6d6d6" stroke-width="0.6" stroke-dasharray="1.6,1.2"/>
<line x1="311.4" y1="106.4" x2="423.2" y2="106.4" stroke="#d6d6d6" stroke-width="0.6" stroke-dasharray="1.6,1.2"/>
<line x1="311.4" y1="91.5" x2="423.2" y2="91.5" stroke="#d6d6d6" stroke-width="0.6" stroke-dasharray="1.6,1.2"/>
<line x1="311.4" y1="76.6" x2="423.2" y2="76.6" stroke="#d6d6d6" stroke-width="0.6" stroke-dasharray="1.6,1.2"/>
<line x1="311.4" y1="61.7" x2="423.2" y2="61.7" stroke="#d6d6d6" stroke-width="0.6" stroke-dasharray="1.6,1.2"/>
<line x1="311.4" y1="46.8" x2="423.2" y2="46.8" stroke="#d6d6d6" stroke-width="0.6" stroke-dasharray="1.6,1.2"/>
<rect x="311.4" y="31.9" width="111.8" height="89.4" fill="none" stroke="#c4c4c4" stroke-width="0.7"/>
<line x1="311.4" y1="31.9" x2="311.4" y2="121.3" stroke="#9a9a9a" stroke-width="0.9"/>
<line x1="311.4" y1="121.3" x2="423.2" y2="121.3" stroke="#9a9a9a" stroke-width="0.9"/>
<text x="308.3" y="122.8" font-family='"Liberation Sans", sans-serif' font-size="4.2" font-weight="bold" fill="#000" text-anchor="end">0</text>
<text x="308.3" y="107.9" font-family='"Liberation Sans", sans-serif' font-size="4.2" font-weight="bold" fill="#000" text-anchor="end">2</text>
<text x="308.3" y="93" font-family='"Liberation Sans", sans-serif' font-size="4.2" font-weight="bold" fill="#000" text-anchor="end">4</text>
<text x="308.3" y="78.1" font-family='"Liberation Sans", sans-serif' font-size="4.2" font-weight="bold" fill="#000" text-anchor="end">6</text>
<text x="308.3" y="63.2" font-family='"Liberation Sans", sans-serif' font-size="4.2" font-weight="bold" fill="#000" text-anchor="end">8</text>
<text x="308.3" y="48.3" font-family='"Liberation Sans", sans-serif' font-size="4.2" font-weight="bold" fill="#000" text-anchor="end">10</text>
<text x="308.3" y="33.4" font-family='"Liberation Sans", sans-serif' font-size="4.2" font-weight="bold" fill="#000" text-anchor="end">12</text>
<text x="311.4" y="127.8" font-family='"Liberation Sans", sans-serif' font-size="4.2" font-weight="bold" fill="#000" text-anchor="middle">1.0</text>
<line x1="311.4" y1="121.3" x2="311.4" y2="122.6" stroke="#9a9a9a" stroke-width="0.6"/>
<line x1="310" y1="121.3" x2="311.4" y2="121.3" stroke="#9a9a9a" stroke-width="0.6"/>
<text x="325.38" y="127.8" font-family='"Liberation Sans", sans-serif' font-size="4.2" font-weight="bold" fill="#000" text-anchor="middle">1.5</text>
<line x1="325.38" y1="121.3" x2="325.38" y2="122.6" stroke="#9a9a9a" stroke-width="0.6"/>
<line x1="310" y1="106.4" x2="311.4" y2="106.4" stroke="#9a9a9a" stroke-width="0.6"/>
<text x="339.35" y="127.8" font-family='"Liberation Sans", sans-serif' font-size="4.2" font-weight="bold" fill="#000" text-anchor="middle">2.0</text>
<line x1="339.35" y1="121.3" x2="339.35" y2="122.6" stroke="#9a9a9a" stroke-width="0.6"/>
<line x1="310" y1="91.5" x2="311.4" y2="91.5" stroke="#9a9a9a" stroke-width="0.6"/>
<text x="353.32" y="127.8" font-family='"Liberation Sans", sans-serif' font-size="4.2" font-weight="bold" fill="#000" text-anchor="middle">2.5</text>
<line x1="353.32" y1="121.3" x2="353.32" y2="122.6" stroke="#9a9a9a" stroke-width="0.6"/>
<line x1="310" y1="76.6" x2="311.4" y2="76.6" stroke="#9a9a9a" stroke-width="0.6"/>
<text x="367.3" y="127.8" font-family='"Liberation Sans", sans-serif' font-size="4.2" font-weight="bold" fill="#000" text-anchor="middle">3.0</text>
<line x1="367.3" y1="121.3" x2="367.3" y2="122.6" stroke="#9a9a9a" stroke-width="0.6"/>
<line x1="310" y1="61.7" x2="311.4" y2="61.7" stroke="#9a9a9a" stroke-width="0.6"/>
<text x="381.27" y="127.8" font-family='"Liberation Sans", sans-serif' font-size="4.2" font-weight="bold" fill="#000" text-anchor="middle">3.5</text>
<line x1="381.27" y1="121.3" x2="381.27" y2="122.6" stroke="#9a9a9a" stroke-width="0.6"/>
<line x1="310" y1="46.8" x2="311.4" y2="46.8" stroke="#9a9a9a" stroke-width="0.6"/>
<text x="395.25" y="127.8" font-family='"Liberation Sans", sans-serif' font-size="4.2" font-weight="bold" fill="#000" text-anchor="middle">4.0</text>
<line x1="395.25" y1="121.3" x2="395.25" y2="122.6" stroke="#9a9a9a" stroke-width="0.6"/>
<line x1="310" y1="31.9" x2="311.4" y2="31.9" stroke="#9a9a9a" stroke-width="0.6"/>
<text x="409.22" y="127.8" font-family='"Liberation Sans", sans-serif' font-size="4.2" font-weight="bold" fill="#000" text-anchor="middle">4.5</text>
<line x1="409.22" y1="121.3" x2="409.22" y2="122.6" stroke="#9a9a9a" stroke-width="0.6"/>
<line x1="310" y1="31.9" x2="311.4" y2="31.9" stroke="#9a9a9a" stroke-width="0.6"/>
<text x="423.2" y="127.8" font-family='"Liberation Sans", sans-serif' font-size="4.2" font-weight="bold" fill="#000" text-anchor="middle">5.0</text>
<line x1="423.2" y1="121.3" x2="423.2" y2="122.6" stroke="#9a9a9a" stroke-width="0.6"/>
<line x1="310" y1="31.9" x2="311.4" y2="31.9" stroke="#9a9a9a" stroke-width="0.6"/>
<text x="323.3" y="134.6" font-family='"Liberation Serif", serif' font-size="5.6" font-weight="bold" fill="#000" text-anchor="start" textLength="83.3" lengthAdjust="spacingAndGlyphs">Time After Start of Energizing (ms)</text>
<text transform="translate(302.8,81.8) rotate(-90)" x="0" y="0" font-family='"Liberation Serif", serif' font-size="5.4" font-weight="bold" text-anchor="middle" textLength="46" lengthAdjust="spacingAndGlyphs">Axial Velocity (m/s)</text>
<text x="319.8" y="37.5" font-family='"Liberation Serif", serif' font-size="5.6" font-weight="normal" fill="#111" text-anchor="start" textLength="89.9" lengthAdjust="spacingAndGlyphs">Test Fuel: Diesel, Pamb:10 bar, SR: 30:70</text>
<path d="M325.38,60.95 C326.31,65.11 329.1,81.07 330.96,85.91 C332.83,90.75 334.69,88.71 336.55,90.01 C338.42,91.31 340.28,91.93 342.14,93.73 C344.01,95.54 345.87,98.2 347.73,100.81 C349.6,103.42 351.46,107.89 353.32,109.38 C355.19,110.87 357.05,109.38 358.91,109.75 C360.78,110.12 362.64,110.99 364.5,111.61 C366.37,112.24 368.23,113.17 370.09,113.48 C371.96,113.79 373.82,113.66 375.68,113.48 C377.55,113.29 379.41,112.55 381.27,112.36 C383.14,112.17 385,112.48 386.87,112.36 C388.73,112.24 390.59,112.11 392.45,111.61 C394.32,111.12 396.18,109.94 398.04,109.38 C399.91,108.82 401.77,108.57 403.63,108.26 C405.5,107.95 407.36,107.64 409.22,107.52 C411.09,107.39 412.95,107.39 414.81,107.52 C416.68,107.64 419.47,108.14 420.4,108.26" fill="none" stroke="#ff3f9a" stroke-width="0.9" stroke-dasharray="2,1.2"/>
<g fill="#ff3f9a"><circle cx="325.38" cy="60.95" r="1.2"/><circle cx="330.96" cy="85.91" r="1.2"/><circle cx="336.55" cy="90.01" r="1.2"/><circle cx="342.14" cy="93.73" r="1.2"/><circle cx="347.73" cy="100.81" r="1.2"/><circle cx="353.32" cy="109.38" r="1.2"/><circle cx="358.91" cy="109.75" r="1.2"/><circle cx="364.5" cy="111.61" r="1.2"/><circle cx="370.09" cy="113.48" r="1.2"/><circle cx="375.68" cy="113.48" r="1.2"/><circle cx="381.27" cy="112.36" r="1.2"/><circle cx="386.87" cy="112.36" r="1.2"/><circle cx="392.45" cy="111.61" r="1.2"/><circle cx="398.04" cy="109.38" r="1.2"/><circle cx="403.63" cy="108.26" r="1.2"/><circle cx="409.22" cy="107.52" r="1.2"/><circle cx="414.81" cy="107.52" r="1.2"/><circle cx="420.4" cy="108.26" r="1.2"/></g>
<path d="M325.38,44.56 C326.31,45.31 329.1,45.31 330.96,49.03 C332.83,52.76 334.69,63.69 336.55,66.91 C338.42,70.14 340.28,68.03 342.14,68.41 C344.01,68.78 345.87,66.92 347.73,69.15 C349.6,71.39 351.46,78.09 353.32,81.81 C355.19,85.54 357.05,89.02 358.91,91.5 C360.78,93.98 362.64,95.47 364.5,96.72 C366.37,97.96 368.23,98.14 370.09,98.95 C371.96,99.76 373.82,100.94 375.68,101.56 C377.55,102.18 379.41,102.49 381.27,102.67 C383.14,102.86 385,102.86 386.87,102.67 C388.73,102.49 390.59,101.93 392.45,101.56 C394.32,101.19 396.18,100.01 398.04,100.44 C399.91,100.87 401.77,103.17 403.63,104.16 C405.5,105.16 407.36,105.9 409.22,106.4 C411.09,106.9 412.95,106.9 414.81,107.14 C416.68,107.39 419.47,107.77 420.4,107.89" fill="none" stroke="#ff3f9a" stroke-width="0.9" stroke-dasharray="2,1.2"/>
<g fill="#ff3f9a"><rect x="324.23" y="43.41" width="2.3" height="2.3"/><rect x="329.81" y="47.88" width="2.3" height="2.3"/><rect x="335.4" y="65.76" width="2.3" height="2.3"/><rect x="341" y="67.25" width="2.3" height="2.3"/><rect x="346.58" y="68" width="2.3" height="2.3"/><rect x="352.18" y="80.66" width="2.3" height="2.3"/><rect x="357.76" y="90.35" width="2.3" height="2.3"/><rect x="363.36" y="95.56" width="2.3" height="2.3"/><rect x="368.94" y="97.8" width="2.3" height="2.3"/><rect x="374.53" y="100.41" width="2.3" height="2.3"/><rect x="380.12" y="101.52" width="2.3" height="2.3"/><rect x="385.72" y="101.52" width="2.3" height="2.3"/><rect x="391.31" y="100.41" width="2.3" height="2.3"/><rect x="396.89" y="99.29" width="2.3" height="2.3"/><rect x="402.49" y="103.01" width="2.3" height="2.3"/><rect x="408.07" y="105.25" width="2.3" height="2.3"/><rect x="413.67" y="105.99" width="2.3" height="2.3"/><rect x="419.25" y="106.74" width="2.3" height="2.3"/></g>
<path d="M325.38,100.81 C326.31,100.13 329.1,96.96 330.96,96.72 C332.83,96.47 334.69,98.89 336.55,99.32 C338.42,99.76 340.28,99.26 342.14,99.32 C344.01,99.38 345.87,99.94 347.73,99.69 C349.6,99.45 351.46,98.2 353.32,97.83 C355.19,97.46 357.05,97.27 358.91,97.46 C360.78,97.65 362.64,97.96 364.5,98.95 C366.37,99.94 368.23,102.55 370.09,103.42 C371.96,104.29 373.82,104.29 375.68,104.16 C377.55,104.04 379.41,102.92 381.27,102.67 C383.14,102.43 385,102.43 386.87,102.67 C388.73,102.92 390.59,103.79 392.45,104.16 C394.32,104.54 396.18,104.66 398.04,104.91 C399.91,105.16 401.77,105.41 403.63,105.66 C405.5,105.9 407.36,106.15 409.22,106.4 C411.09,106.65 412.95,106.83 414.81,107.14 C416.68,107.46 419.47,108.08 420.4,108.26" fill="none" stroke="#1a1a1a" stroke-width="0.9"/>
<g fill="#1a1a1a"><path d="M325.38,99.41 l1.4,2.4 l-2.8,0Z"/><path d="M330.96,95.31 l1.4,2.4 l-2.8,0Z"/><path d="M336.55,97.92 l1.4,2.4 l-2.8,0Z"/><path d="M342.14,97.92 l1.4,2.4 l-2.8,0Z"/><path d="M347.73,98.29 l1.4,2.4 l-2.8,0Z"/><path d="M353.32,96.43 l1.4,2.4 l-2.8,0Z"/><path d="M358.91,96.06 l1.4,2.4 l-2.8,0Z"/><path d="M364.5,97.55 l1.4,2.4 l-2.8,0Z"/><path d="M370.09,102.02 l1.4,2.4 l-2.8,0Z"/><path d="M375.68,102.76 l1.4,2.4 l-2.8,0Z"/><path d="M381.27,101.27 l1.4,2.4 l-2.8,0Z"/><path d="M386.87,101.27 l1.4,2.4 l-2.8,0Z"/><path d="M392.45,102.76 l1.4,2.4 l-2.8,0Z"/><path d="M398.04,103.51 l1.4,2.4 l-2.8,0Z"/><path d="M403.63,104.25 l1.4,2.4 l-2.8,0Z"/><path d="M409.22,105 l1.4,2.4 l-2.8,0Z"/><path d="M414.81,105.74 l1.4,2.4 l-2.8,0Z"/><path d="M420.4,106.86 l1.4,2.4 l-2.8,0Z"/></g>
<path d="M325.38,52.76 C326.31,53.38 329.1,54.37 330.96,56.48 C332.83,58.6 334.69,62.32 336.55,65.42 C338.42,68.53 340.28,72.5 342.14,75.11 C344.01,77.72 345.87,79.58 347.73,81.07 C349.6,82.56 351.46,83.55 353.32,84.05 C355.19,84.55 357.05,83.74 358.91,84.05 C360.78,84.36 362.64,84.79 364.5,85.91 C366.37,87.03 368.23,89.08 370.09,90.75 C371.96,92.43 373.82,94.48 375.68,95.97 C377.55,97.46 379.41,98.7 381.27,99.69 C383.14,100.69 385,101.18 386.87,101.93 C388.73,102.67 390.59,103.67 392.45,104.16 C394.32,104.66 396.18,104.54 398.04,104.91 C399.91,105.28 401.77,106.09 403.63,106.4 C405.5,106.71 407.36,106.59 409.22,106.77 C411.09,106.96 412.95,107.27 414.81,107.52 C416.68,107.77 419.47,108.14 420.4,108.26" fill="none" stroke="#1a1a1a" stroke-width="0.9"/>
<g fill="#1a1a1a"><circle cx="325.38" cy="52.76" r="1.2"/><circle cx="330.96" cy="56.48" r="1.2"/><circle cx="336.55" cy="65.42" r="1.2"/><circle cx="342.14" cy="75.11" r="1.2"/><circle cx="347.73" cy="81.07" r="1.2"/><circle cx="353.32" cy="84.05" r="1.2"/><circle cx="358.91" cy="84.05" r="1.2"/><circle cx="364.5" cy="85.91" r="1.2"/><circle cx="370.09" cy="90.75" r="1.2"/><circle cx="375.68" cy="95.97" r="1.2"/><circle cx="381.27" cy="99.69" r="1.2"/><circle cx="386.87" cy="101.93" r="1.2"/><circle cx="392.45" cy="104.16" r="1.2"/><circle cx="398.04" cy="104.91" r="1.2"/><circle cx="403.63" cy="106.4" r="1.2"/><circle cx="409.22" cy="106.77" r="1.2"/><circle cx="414.81" cy="107.52" r="1.2"/><circle cx="420.4" cy="108.26" r="1.2"/></g>
<rect x="368.6" y="39.6" width="54" height="24" fill="#fff"/>
<line x1="368.5" y1="44.3" x2="380" y2="44.3" stroke="#ff3f9a" stroke-width="0.9" stroke-dasharray="2,1.2"/>
<rect x="373.9" y="43.4" width="1.8" height="1.8" fill="#ff3f9a"/>
<text x="381.1" y="46.1" font-family='"Liberation Serif", serif' font-size="5.3" font-weight="bold" fill="#111" text-anchor="start" textLength="37.3" lengthAdjust="spacingAndGlyphs">FIP700_DT0.15</text>
<line x1="368.5" y1="50.3" x2="380" y2="50.3" stroke="#ff3f9a" stroke-width="0.9" stroke-dasharray="2,1.2"/>
<path d="M374.8,49.1 l1.2,2 l-2.4,0Z" fill="#ff3f9a"/>
<text x="381.1" y="52.1" font-family='"Liberation Serif", serif' font-size="5.3" font-weight="bold" fill="#111" text-anchor="start" textLength="37.3" lengthAdjust="spacingAndGlyphs">FIP700_DT0.45</text>
<line x1="368.5" y1="56.3" x2="380" y2="56.3" stroke="#1a1a1a" stroke-width="0.9"/>
<circle cx="374.8" cy="56.3" r="0.95" fill="#1a1a1a"/>
<text x="381.1" y="58.1" font-family='"Liberation Serif", serif' font-size="5.3" font-weight="bold" fill="#111" text-anchor="start" textLength="40.5" lengthAdjust="spacingAndGlyphs">FIP1200_DT0.15</text>
<line x1="368.5" y1="61.7" x2="380" y2="61.7" stroke="#1a1a1a" stroke-width="0.9"/>
<path d="M374.8,60.5 l1.2,2 l-2.4,0Z" fill="#1a1a1a"/>
<text x="381.1" y="63.5" font-family='"Liberation Serif", serif' font-size="5.3" font-weight="bold" fill="#111" text-anchor="start" textLength="40.5" lengthAdjust="spacingAndGlyphs">FIP1200_DT0.45</text>
<line x1="313" y1="224.09" x2="426.7" y2="224.09" stroke="#d6d6d6" stroke-width="0.6" stroke-dasharray="1.6,1.2"/>
<line x1="313" y1="213.08" x2="426.7" y2="213.08" stroke="#d6d6d6" stroke-width="0.6" stroke-dasharray="1.6,1.2"/>
<line x1="313" y1="202.07" x2="426.7" y2="202.07" stroke="#d6d6d6" stroke-width="0.6" stroke-dasharray="1.6,1.2"/>
<line x1="313" y1="191.06" x2="426.7" y2="191.06" stroke="#d6d6d6" stroke-width="0.6" stroke-dasharray="1.6,1.2"/>
<line x1="313" y1="180.05" x2="426.7" y2="180.05" stroke="#d6d6d6" stroke-width="0.6" stroke-dasharray="1.6,1.2"/>
<line x1="313" y1="169.04" x2="426.7" y2="169.04" stroke="#d6d6d6" stroke-width="0.6" stroke-dasharray="1.6,1.2"/>
<line x1="313" y1="158.03" x2="426.7" y2="158.03" stroke="#d6d6d6" stroke-width="0.6" stroke-dasharray="1.6,1.2"/>
<line x1="313" y1="147.02" x2="426.7" y2="147.02" stroke="#d6d6d6" stroke-width="0.6" stroke-dasharray="1.6,1.2"/>
<rect x="313" y="143.9" width="113.7" height="91.2" fill="none" stroke="#c4c4c4" stroke-width="0.7"/>
<line x1="313" y1="143.9" x2="313" y2="235.1" stroke="#9a9a9a" stroke-width="0.9"/>
<line x1="313" y1="235.1" x2="426.7" y2="235.1" stroke="#9a9a9a" stroke-width="0.9"/>
<text x="309.3" y="237.3" font-family='"Liberation Serif", serif' font-size="4.4" font-weight="bold" fill="#000" text-anchor="middle">0</text>
<line x1="311.6" y1="235.1" x2="313" y2="235.1" stroke="#9a9a9a" stroke-width="0.6"/>
<text x="309.3" y="226.29" font-family='"Liberation Serif", serif' font-size="4.4" font-weight="bold" fill="#000" text-anchor="middle">3</text>
<line x1="311.6" y1="224.09" x2="313" y2="224.09" stroke="#9a9a9a" stroke-width="0.6"/>
<text x="309.3" y="215.28" font-family='"Liberation Serif", serif' font-size="4.4" font-weight="bold" fill="#000" text-anchor="middle">6</text>
<line x1="311.6" y1="213.08" x2="313" y2="213.08" stroke="#9a9a9a" stroke-width="0.6"/>
<text x="309.3" y="204.27" font-family='"Liberation Serif", serif' font-size="4.4" font-weight="bold" fill="#000" text-anchor="middle">9</text>
<line x1="311.6" y1="202.07" x2="313" y2="202.07" stroke="#9a9a9a" stroke-width="0.6"/>
<text x="309.3" y="193.26" font-family='"Liberation Serif", serif' font-size="4.4" font-weight="bold" fill="#000" text-anchor="middle">12</text>
<line x1="311.6" y1="191.06" x2="313" y2="191.06" stroke="#9a9a9a" stroke-width="0.6"/>
<text x="309.3" y="182.25" font-family='"Liberation Serif", serif' font-size="4.4" font-weight="bold" fill="#000" text-anchor="middle">15</text>
<line x1="311.6" y1="180.05" x2="313" y2="180.05" stroke="#9a9a9a" stroke-width="0.6"/>
<text x="309.3" y="171.24" font-family='"Liberation Serif", serif' font-size="4.4" font-weight="bold" fill="#000" text-anchor="middle">18</text>
<line x1="311.6" y1="169.04" x2="313" y2="169.04" stroke="#9a9a9a" stroke-width="0.6"/>
<text x="309.3" y="160.23" font-family='"Liberation Serif", serif' font-size="4.4" font-weight="bold" fill="#000" text-anchor="middle">21</text>
<line x1="311.6" y1="158.03" x2="313" y2="158.03" stroke="#9a9a9a" stroke-width="0.6"/>
<text x="309.3" y="149.22" font-family='"Liberation Serif", serif' font-size="4.4" font-weight="bold" fill="#000" text-anchor="middle">24</text>
<line x1="311.6" y1="147.02" x2="313" y2="147.02" stroke="#9a9a9a" stroke-width="0.6"/>
<defs><pattern id="gstr" width="4" height="2.3" patternUnits="userSpaceOnUse"><rect width="4" height="2.3" fill="#d6edd6"/><rect width="4" height="0.8" fill="#b3dbb3"/></pattern><pattern id="rstr" width="4" height="2.3" patternUnits="userSpaceOnUse"><rect width="4" height="2.3" fill="#ffd8d8"/><rect width="4" height="0.8" fill="#ffb6b6"/></pattern><linearGradient id="shine" x1="0" x2="1" y1="0" y2="0"><stop offset="0" stop-color="#fff" stop-opacity="0"/><stop offset="0.5" stop-color="#fff" stop-opacity="0.55"/><stop offset="1" stop-color="#fff" stop-opacity="0"/></linearGradient></defs>
<rect x="325.5" y="166.5" width="8" height="68.6" fill="#fff" stroke="#3a9a3a" stroke-width="1.2"/>
<rect x="334.7" y="172.2" width="6.7" height="62.9" fill="url(#gstr)" stroke="#3a9a3a" stroke-width="1.2"/>
<rect x="335.6" y="173.2" width="4.9" height="61.4" fill="url(#shine)"/>
<rect x="342.6" y="175.3" width="7.1" height="59.8" fill="#fff" stroke="#f03a3a" stroke-width="1.2"/>
<rect x="350.9" y="180" width="7.6" height="55.1" fill="url(#rstr)" stroke="#f03a3a" stroke-width="1.2"/>
<rect x="351.8" y="181" width="5.8" height="53.6" fill="url(#shine)"/>
<rect x="382.1" y="169.3" width="7.4" height="65.8" fill="#fff" stroke="#3a9a3a" stroke-width="1.2"/>
<rect x="390.7" y="169.3" width="6.9" height="65.8" fill="url(#gstr)" stroke="#3a9a3a" stroke-width="1.2"/>
<rect x="391.6" y="170.3" width="5.1" height="64.3" fill="url(#shine)"/>
<rect x="398.8" y="171" width="7.4" height="64.1" fill="#fff" stroke="#f03a3a" stroke-width="1.2"/>
<rect x="407.4" y="177" width="6.9" height="58.1" fill="url(#rstr)" stroke="#f03a3a" stroke-width="1.2"/>
<rect x="408.3" y="178" width="5.1" height="56.6" fill="url(#shine)"/>
<rect x="345" y="144.4" width="81.2" height="6.4" fill="#fff"/>
<rect x="323.5" y="150.8" width="102.7" height="12.6" fill="#fff"/>
<text x="349" y="149" font-family='"Liberation Serif", serif' font-size="5" font-weight="normal" fill="#222" text-anchor="start" textLength="22" lengthAdjust="spacingAndGlyphs">Diesel, P</text>
<text x="371.2" y="150.2" font-family='"Liberation Serif", serif' font-size="3.2" font-weight="normal" fill="#222" text-anchor="start">amb</text>
<text x="376.8" y="149" font-family='"Liberation Serif", serif' font-size="5" font-weight="normal" fill="#222" text-anchor="start" textLength="15" lengthAdjust="spacingAndGlyphs">:10 bar</text>
<rect x="327.7" y="152.7" width="8.3" height="3.3" fill="#fff" stroke="#3a9a3a" stroke-width="0.9"/>
<text x="338.1" y="155.8" font-family='"Liberation Serif", serif' font-size="5.3" font-weight="normal" fill="#111" text-anchor="start" textLength="32.5" lengthAdjust="spacingAndGlyphs">FIP700_DT0.15</text>
<rect x="327.7" y="158.6" width="8.3" height="3.3" fill="#fff" stroke="#f03a3a" stroke-width="0.9"/>
<text x="338.1" y="161.7" font-family='"Liberation Serif", serif' font-size="5.3" font-weight="normal" fill="#111" text-anchor="start" textLength="32.5" lengthAdjust="spacingAndGlyphs">FIP1200_DT0.15</text>
<rect x="375.8" y="152.7" width="8.3" height="3.3" fill="url(#gstr)" stroke="#3a9a3a" stroke-width="0.9"/>
<text x="386.2" y="155.8" font-family='"Liberation Serif", serif' font-size="5.3" font-weight="normal" fill="#111" text-anchor="start" textLength="32.5" lengthAdjust="spacingAndGlyphs">FIP700_DT0.45</text>
<rect x="375.8" y="158.6" width="8.3" height="3.3" fill="url(#rstr)" stroke="#f03a3a" stroke-width="0.9"/>
<text x="386.2" y="161.7" font-family='"Liberation Serif", serif' font-size="5.3" font-weight="normal" fill="#111" text-anchor="start" textLength="32.5" lengthAdjust="spacingAndGlyphs">FIP1200_DT0.45</text>
<text x="341.2" y="242.9" font-family='"Liberation Serif", serif' font-size="6" font-weight="bold" fill="#000" text-anchor="middle" textLength="15.6" lengthAdjust="spacingAndGlyphs">30:70</text>
<text x="398" y="242.4" font-family='"Liberation Serif", serif' font-size="6" font-weight="bold" fill="#000" text-anchor="middle" textLength="15.6" lengthAdjust="spacingAndGlyphs">70:30</text>
<text x="355.2" y="248" font-family='"Liberation Serif", serif' font-size="5.6" font-weight="bold" fill="#000" text-anchor="start" textLength="27.2" lengthAdjust="spacingAndGlyphs">Split Ratio</text>
<text transform="translate(302.5,193.2) rotate(-90)" x="0" y="0" font-family='"Liberation Serif", serif' font-size="5.4" font-weight="bold" text-anchor="middle" textLength="84" lengthAdjust="spacingAndGlyphs">Arithmetic Mean Diameter (µm)</text>
</svg></div></body></html>
